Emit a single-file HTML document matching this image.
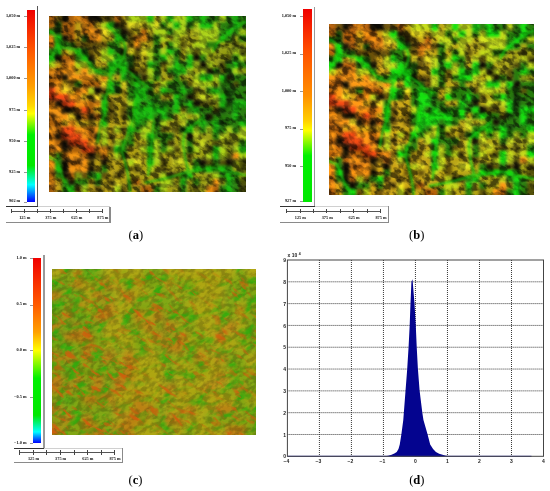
<!DOCTYPE html><html><head><meta charset="utf-8"><style>
html,body{margin:0;padding:0;background:#fff;}
body{width:550px;height:491px;position:relative;overflow:hidden;}
.lb{position:absolute;font-family:"Liberation Serif",serif;white-space:nowrap;line-height:1;font-weight:bold;}
.cap{position:absolute;font-family:"Liberation Serif",serif;font-size:12.5px;line-height:1;color:#000;white-space:nowrap;}
.ax{position:absolute;font-family:"Liberation Sans",sans-serif;font-weight:bold;font-size:5px;line-height:1;color:#222;white-space:nowrap;}
</style></head><body>
<div style="position:absolute;left:49.00px;top:15.60px;width:197.00px;height:176.40px;overflow:hidden;isolation:isolate"><svg width="210.13" height="189.47" style="position:absolute;left:-6.57px;top:-6.53px" viewBox="-6.57 -6.53 210.13 189.47"><defs><filter id="b1" x="-10%" y="-10%" width="120%" height="120%" color-interpolation-filters="sRGB"><feGaussianBlur stdDeviation="1.50"/></filter><filter id="t1" x="0" y="0" width="100%" height="100%" color-interpolation-filters="sRGB"><feTurbulence type="fractalNoise" baseFrequency="0.14 0.22" numOctaves="3" seed="7"/><feColorMatrix type="matrix" values="4 0 0 0 -1.4  4 0 0 0 -1.4  4 0 0 0 -1.4  0 0 0 0 1"/></filter><mask id="m1" maskUnits="userSpaceOnUse" x="-6.57" y="-6.53" width="210.13" height="189.47"><g filter="url(#b1)"><rect x="-6.57" y="-6.53" width="33.13" height="6.83" fill="#999999"/><rect x="26.27" y="-6.53" width="6.87" height="6.83" fill="#4c4c4c"/><rect x="32.83" y="-6.53" width="46.27" height="6.83" fill="#999999"/><rect x="78.80" y="-6.53" width="26.57" height="6.83" fill="#4c4c4c"/><rect x="105.07" y="-6.53" width="6.87" height="6.83" fill="#999999"/><rect x="111.63" y="-6.53" width="33.13" height="6.83" fill="#4c4c4c"/><rect x="144.47" y="-6.53" width="6.87" height="6.83" fill="#999999"/><rect x="151.03" y="-6.53" width="6.87" height="6.83" fill="#4c4c4c"/><rect x="157.60" y="-6.53" width="13.43" height="6.83" fill="#999999"/><rect x="170.73" y="-6.53" width="6.87" height="6.83" fill="#4c4c4c"/><rect x="177.30" y="-6.53" width="6.87" height="6.83" fill="#999999"/><rect x="183.87" y="-6.53" width="6.87" height="6.83" fill="#4c4c4c"/><rect x="190.43" y="-6.53" width="13.43" height="6.83" fill="#999999"/><rect x="-6.57" y="0.00" width="33.13" height="6.83" fill="#999999"/><rect x="26.27" y="0.00" width="6.87" height="6.83" fill="#4c4c4c"/><rect x="32.83" y="0.00" width="46.27" height="6.83" fill="#999999"/><rect x="78.80" y="0.00" width="26.57" height="6.83" fill="#4c4c4c"/><rect x="105.07" y="0.00" width="6.87" height="6.83" fill="#999999"/><rect x="111.63" y="0.00" width="33.13" height="6.83" fill="#4c4c4c"/><rect x="144.47" y="0.00" width="6.87" height="6.83" fill="#999999"/><rect x="151.03" y="0.00" width="6.87" height="6.83" fill="#4c4c4c"/><rect x="157.60" y="0.00" width="13.43" height="6.83" fill="#999999"/><rect x="170.73" y="0.00" width="6.87" height="6.83" fill="#4c4c4c"/><rect x="177.30" y="0.00" width="6.87" height="6.83" fill="#999999"/><rect x="183.87" y="0.00" width="6.87" height="6.83" fill="#4c4c4c"/><rect x="190.43" y="0.00" width="13.43" height="6.83" fill="#999999"/><rect x="-6.57" y="6.53" width="39.70" height="6.83" fill="#999999"/><rect x="32.83" y="6.53" width="6.87" height="6.83" fill="#4c4c4c"/><rect x="39.40" y="6.53" width="13.43" height="6.83" fill="#999999"/><rect x="52.53" y="6.53" width="13.43" height="6.83" fill="#4c4c4c"/><rect x="65.67" y="6.53" width="13.43" height="6.83" fill="#999999"/><rect x="78.80" y="6.53" width="13.43" height="6.83" fill="#4c4c4c"/><rect x="91.93" y="6.53" width="6.87" height="6.83" fill="#999999"/><rect x="98.50" y="6.53" width="13.43" height="6.83" fill="#4c4c4c"/><rect x="111.63" y="6.53" width="6.87" height="6.83" fill="#999999"/><rect x="118.20" y="6.53" width="20.00" height="6.83" fill="#4c4c4c"/><rect x="137.90" y="6.53" width="6.87" height="6.83" fill="#999999"/><rect x="144.47" y="6.53" width="26.57" height="6.83" fill="#4c4c4c"/><rect x="170.73" y="6.53" width="13.43" height="6.83" fill="#999999"/><rect x="183.87" y="6.53" width="6.87" height="6.83" fill="#4c4c4c"/><rect x="190.43" y="6.53" width="13.43" height="6.83" fill="#999999"/><rect x="-6.57" y="13.07" width="46.27" height="6.83" fill="#999999"/><rect x="39.40" y="13.07" width="6.87" height="6.83" fill="#4c4c4c"/><rect x="45.97" y="13.07" width="6.87" height="6.83" fill="#999999"/><rect x="52.53" y="13.07" width="13.43" height="6.83" fill="#4c4c4c"/><rect x="65.67" y="13.07" width="39.70" height="6.83" fill="#999999"/><rect x="105.07" y="13.07" width="13.43" height="6.83" fill="#4c4c4c"/><rect x="118.20" y="13.07" width="6.87" height="6.83" fill="#999999"/><rect x="124.77" y="13.07" width="13.43" height="6.83" fill="#4c4c4c"/><rect x="137.90" y="13.07" width="6.87" height="6.83" fill="#999999"/><rect x="144.47" y="13.07" width="26.57" height="6.83" fill="#4c4c4c"/><rect x="170.73" y="13.07" width="6.87" height="6.83" fill="#999999"/><rect x="177.30" y="13.07" width="6.87" height="6.83" fill="#4c4c4c"/><rect x="183.87" y="13.07" width="6.87" height="6.83" fill="#999999"/><rect x="190.43" y="13.07" width="13.43" height="6.83" fill="#4c4c4c"/><rect x="-6.57" y="19.60" width="20.00" height="6.83" fill="#4c4c4c"/><rect x="13.13" y="19.60" width="33.13" height="6.83" fill="#999999"/><rect x="45.97" y="19.60" width="6.87" height="6.83" fill="#4c4c4c"/><rect x="52.53" y="19.60" width="13.43" height="6.83" fill="#999999"/><rect x="65.67" y="19.60" width="6.87" height="6.83" fill="#4c4c4c"/><rect x="72.23" y="19.60" width="20.00" height="6.83" fill="#999999"/><rect x="91.93" y="19.60" width="6.87" height="6.83" fill="#4c4c4c"/><rect x="98.50" y="19.60" width="13.43" height="6.83" fill="#999999"/><rect x="111.63" y="19.60" width="6.87" height="6.83" fill="#4c4c4c"/><rect x="118.20" y="19.60" width="6.87" height="6.83" fill="#999999"/><rect x="124.77" y="19.60" width="6.87" height="6.83" fill="#4c4c4c"/><rect x="131.33" y="19.60" width="20.00" height="6.83" fill="#999999"/><rect x="151.03" y="19.60" width="26.57" height="6.83" fill="#4c4c4c"/><rect x="177.30" y="19.60" width="26.57" height="6.83" fill="#999999"/><rect x="-6.57" y="26.13" width="13.43" height="6.83" fill="#999999"/><rect x="6.57" y="26.13" width="6.87" height="6.83" fill="#4c4c4c"/><rect x="13.13" y="26.13" width="59.40" height="6.83" fill="#999999"/><rect x="72.23" y="26.13" width="6.87" height="6.83" fill="#4c4c4c"/><rect x="78.80" y="26.13" width="6.87" height="6.83" fill="#999999"/><rect x="85.37" y="26.13" width="6.87" height="6.83" fill="#4c4c4c"/><rect x="91.93" y="26.13" width="33.13" height="6.83" fill="#999999"/><rect x="124.77" y="26.13" width="6.87" height="6.83" fill="#4c4c4c"/><rect x="131.33" y="26.13" width="13.43" height="6.83" fill="#999999"/><rect x="144.47" y="26.13" width="13.43" height="6.83" fill="#4c4c4c"/><rect x="157.60" y="26.13" width="46.27" height="6.83" fill="#999999"/><rect x="-6.57" y="32.67" width="13.43" height="6.83" fill="#999999"/><rect x="6.57" y="32.67" width="6.87" height="6.83" fill="#4c4c4c"/><rect x="13.13" y="32.67" width="6.87" height="6.83" fill="#999999"/><rect x="19.70" y="32.67" width="13.43" height="6.83" fill="#4c4c4c"/><rect x="32.83" y="32.67" width="20.00" height="6.83" fill="#999999"/><rect x="52.53" y="32.67" width="13.43" height="6.83" fill="#4c4c4c"/><rect x="65.67" y="32.67" width="13.43" height="6.83" fill="#999999"/><rect x="78.80" y="32.67" width="6.87" height="6.83" fill="#4c4c4c"/><rect x="85.37" y="32.67" width="6.87" height="6.83" fill="#999999"/><rect x="91.93" y="32.67" width="13.43" height="6.83" fill="#4c4c4c"/><rect x="105.07" y="32.67" width="6.87" height="6.83" fill="#999999"/><rect x="111.63" y="32.67" width="13.43" height="6.83" fill="#4c4c4c"/><rect x="124.77" y="32.67" width="13.43" height="6.83" fill="#999999"/><rect x="137.90" y="32.67" width="6.87" height="6.83" fill="#4c4c4c"/><rect x="144.47" y="32.67" width="6.87" height="6.83" fill="#999999"/><rect x="151.03" y="32.67" width="13.43" height="6.83" fill="#4c4c4c"/><rect x="164.17" y="32.67" width="20.00" height="6.83" fill="#999999"/><rect x="183.87" y="32.67" width="6.87" height="6.83" fill="#4c4c4c"/><rect x="190.43" y="32.67" width="13.43" height="6.83" fill="#999999"/><rect x="-6.57" y="39.20" width="13.43" height="6.83" fill="#4c4c4c"/><rect x="6.57" y="39.20" width="26.57" height="6.83" fill="#999999"/><rect x="32.83" y="39.20" width="6.87" height="6.83" fill="#4c4c4c"/><rect x="39.40" y="39.20" width="13.43" height="6.83" fill="#999999"/><rect x="52.53" y="39.20" width="20.00" height="6.83" fill="#4c4c4c"/><rect x="72.23" y="39.20" width="26.57" height="6.83" fill="#999999"/><rect x="98.50" y="39.20" width="6.87" height="6.83" fill="#4c4c4c"/><rect x="105.07" y="39.20" width="6.87" height="6.83" fill="#999999"/><rect x="111.63" y="39.20" width="13.43" height="6.83" fill="#4c4c4c"/><rect x="124.77" y="39.20" width="13.43" height="6.83" fill="#999999"/><rect x="137.90" y="39.20" width="6.87" height="6.83" fill="#4c4c4c"/><rect x="144.47" y="39.20" width="46.27" height="6.83" fill="#999999"/><rect x="190.43" y="39.20" width="13.43" height="6.83" fill="#4c4c4c"/><rect x="-6.57" y="45.73" width="13.43" height="6.83" fill="#4c4c4c"/><rect x="6.57" y="45.73" width="13.43" height="6.83" fill="#999999"/><rect x="19.70" y="45.73" width="20.00" height="6.83" fill="#4c4c4c"/><rect x="39.40" y="45.73" width="20.00" height="6.83" fill="#999999"/><rect x="59.10" y="45.73" width="20.00" height="6.83" fill="#4c4c4c"/><rect x="78.80" y="45.73" width="20.00" height="6.83" fill="#999999"/><rect x="98.50" y="45.73" width="6.87" height="6.83" fill="#4c4c4c"/><rect x="105.07" y="45.73" width="13.43" height="6.83" fill="#999999"/><rect x="118.20" y="45.73" width="13.43" height="6.83" fill="#4c4c4c"/><rect x="131.33" y="45.73" width="6.87" height="6.83" fill="#999999"/><rect x="137.90" y="45.73" width="13.43" height="6.83" fill="#4c4c4c"/><rect x="151.03" y="45.73" width="6.87" height="6.83" fill="#999999"/><rect x="157.60" y="45.73" width="6.87" height="6.83" fill="#4c4c4c"/><rect x="164.17" y="45.73" width="20.00" height="6.83" fill="#999999"/><rect x="183.87" y="45.73" width="6.87" height="6.83" fill="#4c4c4c"/><rect x="190.43" y="45.73" width="13.43" height="6.83" fill="#999999"/><rect x="-6.57" y="52.27" width="13.43" height="6.83" fill="#4c4c4c"/><rect x="6.57" y="52.27" width="6.87" height="6.83" fill="#999999"/><rect x="13.13" y="52.27" width="13.43" height="6.83" fill="#4c4c4c"/><rect x="26.27" y="52.27" width="6.87" height="6.83" fill="#999999"/><rect x="32.83" y="52.27" width="13.43" height="6.83" fill="#4c4c4c"/><rect x="45.97" y="52.27" width="13.43" height="6.83" fill="#999999"/><rect x="59.10" y="52.27" width="6.87" height="6.83" fill="#4c4c4c"/><rect x="65.67" y="52.27" width="6.87" height="6.83" fill="#999999"/><rect x="72.23" y="52.27" width="6.87" height="6.83" fill="#4c4c4c"/><rect x="78.80" y="52.27" width="20.00" height="6.83" fill="#999999"/><rect x="98.50" y="52.27" width="6.87" height="6.83" fill="#4c4c4c"/><rect x="105.07" y="52.27" width="20.00" height="6.83" fill="#999999"/><rect x="124.77" y="52.27" width="20.00" height="6.83" fill="#4c4c4c"/><rect x="144.47" y="52.27" width="6.87" height="6.83" fill="#999999"/><rect x="151.03" y="52.27" width="6.87" height="6.83" fill="#4c4c4c"/><rect x="157.60" y="52.27" width="26.57" height="6.83" fill="#999999"/><rect x="183.87" y="52.27" width="6.87" height="6.83" fill="#4c4c4c"/><rect x="190.43" y="52.27" width="13.43" height="6.83" fill="#999999"/><rect x="-6.57" y="58.80" width="26.57" height="6.83" fill="#999999"/><rect x="19.70" y="58.80" width="26.57" height="6.83" fill="#4c4c4c"/><rect x="45.97" y="58.80" width="6.87" height="6.83" fill="#999999"/><rect x="52.53" y="58.80" width="13.43" height="6.83" fill="#4c4c4c"/><rect x="65.67" y="58.80" width="6.87" height="6.83" fill="#999999"/><rect x="72.23" y="58.80" width="6.87" height="6.83" fill="#4c4c4c"/><rect x="78.80" y="58.80" width="20.00" height="6.83" fill="#999999"/><rect x="98.50" y="58.80" width="6.87" height="6.83" fill="#4c4c4c"/><rect x="105.07" y="58.80" width="39.70" height="6.83" fill="#999999"/><rect x="144.47" y="58.80" width="33.13" height="6.83" fill="#4c4c4c"/><rect x="177.30" y="58.80" width="26.57" height="6.83" fill="#999999"/><rect x="-6.57" y="65.33" width="13.43" height="6.83" fill="#999999"/><rect x="6.57" y="65.33" width="6.87" height="6.83" fill="#4c4c4c"/><rect x="13.13" y="65.33" width="39.70" height="6.83" fill="#999999"/><rect x="52.53" y="65.33" width="13.43" height="6.83" fill="#4c4c4c"/><rect x="65.67" y="65.33" width="6.87" height="6.83" fill="#999999"/><rect x="72.23" y="65.33" width="6.87" height="6.83" fill="#4c4c4c"/><rect x="78.80" y="65.33" width="6.87" height="6.83" fill="#999999"/><rect x="85.37" y="65.33" width="6.87" height="6.83" fill="#4c4c4c"/><rect x="91.93" y="65.33" width="20.00" height="6.83" fill="#999999"/><rect x="111.63" y="65.33" width="6.87" height="6.83" fill="#4c4c4c"/><rect x="118.20" y="65.33" width="26.57" height="6.83" fill="#999999"/><rect x="144.47" y="65.33" width="20.00" height="6.83" fill="#4c4c4c"/><rect x="164.17" y="65.33" width="39.70" height="6.83" fill="#999999"/><rect x="-6.57" y="71.87" width="26.57" height="6.83" fill="#4c4c4c"/><rect x="19.70" y="71.87" width="13.43" height="6.83" fill="#999999"/><rect x="32.83" y="71.87" width="13.43" height="6.83" fill="#4c4c4c"/><rect x="45.97" y="71.87" width="13.43" height="6.83" fill="#999999"/><rect x="59.10" y="71.87" width="6.87" height="6.83" fill="#4c4c4c"/><rect x="65.67" y="71.87" width="20.00" height="6.83" fill="#999999"/><rect x="85.37" y="71.87" width="13.43" height="6.83" fill="#4c4c4c"/><rect x="98.50" y="71.87" width="13.43" height="6.83" fill="#999999"/><rect x="111.63" y="71.87" width="6.87" height="6.83" fill="#4c4c4c"/><rect x="118.20" y="71.87" width="13.43" height="6.83" fill="#999999"/><rect x="131.33" y="71.87" width="6.87" height="6.83" fill="#4c4c4c"/><rect x="137.90" y="71.87" width="26.57" height="6.83" fill="#999999"/><rect x="164.17" y="71.87" width="6.87" height="6.83" fill="#4c4c4c"/><rect x="170.73" y="71.87" width="33.13" height="6.83" fill="#999999"/><rect x="-6.57" y="78.40" width="13.43" height="6.83" fill="#999999"/><rect x="6.57" y="78.40" width="26.57" height="6.83" fill="#4c4c4c"/><rect x="32.83" y="78.40" width="13.43" height="6.83" fill="#999999"/><rect x="45.97" y="78.40" width="6.87" height="6.83" fill="#4c4c4c"/><rect x="52.53" y="78.40" width="33.13" height="6.83" fill="#999999"/><rect x="85.37" y="78.40" width="13.43" height="6.83" fill="#4c4c4c"/><rect x="98.50" y="78.40" width="26.57" height="6.83" fill="#999999"/><rect x="124.77" y="78.40" width="6.87" height="6.83" fill="#4c4c4c"/><rect x="131.33" y="78.40" width="20.00" height="6.83" fill="#999999"/><rect x="151.03" y="78.40" width="6.87" height="6.83" fill="#4c4c4c"/><rect x="157.60" y="78.40" width="6.87" height="6.83" fill="#999999"/><rect x="164.17" y="78.40" width="13.43" height="6.83" fill="#4c4c4c"/><rect x="177.30" y="78.40" width="26.57" height="6.83" fill="#999999"/><rect x="-6.57" y="84.93" width="26.57" height="6.83" fill="#999999"/><rect x="19.70" y="84.93" width="20.00" height="6.83" fill="#4c4c4c"/><rect x="39.40" y="84.93" width="6.87" height="6.83" fill="#999999"/><rect x="45.97" y="84.93" width="13.43" height="6.83" fill="#4c4c4c"/><rect x="59.10" y="84.93" width="20.00" height="6.83" fill="#999999"/><rect x="78.80" y="84.93" width="13.43" height="6.83" fill="#4c4c4c"/><rect x="91.93" y="84.93" width="6.87" height="6.83" fill="#999999"/><rect x="98.50" y="84.93" width="6.87" height="6.83" fill="#4c4c4c"/><rect x="105.07" y="84.93" width="20.00" height="6.83" fill="#999999"/><rect x="124.77" y="84.93" width="6.87" height="6.83" fill="#4c4c4c"/><rect x="131.33" y="84.93" width="6.87" height="6.83" fill="#999999"/><rect x="137.90" y="84.93" width="6.87" height="6.83" fill="#4c4c4c"/><rect x="144.47" y="84.93" width="26.57" height="6.83" fill="#999999"/><rect x="170.73" y="84.93" width="6.87" height="6.83" fill="#4c4c4c"/><rect x="177.30" y="84.93" width="6.87" height="6.83" fill="#999999"/><rect x="183.87" y="84.93" width="20.00" height="6.83" fill="#4c4c4c"/><rect x="-6.57" y="91.47" width="20.00" height="6.83" fill="#4c4c4c"/><rect x="13.13" y="91.47" width="20.00" height="6.83" fill="#999999"/><rect x="32.83" y="91.47" width="6.87" height="6.83" fill="#4c4c4c"/><rect x="39.40" y="91.47" width="13.43" height="6.83" fill="#999999"/><rect x="52.53" y="91.47" width="6.87" height="6.83" fill="#4c4c4c"/><rect x="59.10" y="91.47" width="26.57" height="6.83" fill="#999999"/><rect x="85.37" y="91.47" width="33.13" height="6.83" fill="#4c4c4c"/><rect x="118.20" y="91.47" width="6.87" height="6.83" fill="#999999"/><rect x="124.77" y="91.47" width="6.87" height="6.83" fill="#4c4c4c"/><rect x="131.33" y="91.47" width="13.43" height="6.83" fill="#999999"/><rect x="144.47" y="91.47" width="6.87" height="6.83" fill="#4c4c4c"/><rect x="151.03" y="91.47" width="33.13" height="6.83" fill="#999999"/><rect x="183.87" y="91.47" width="6.87" height="6.83" fill="#4c4c4c"/><rect x="190.43" y="91.47" width="13.43" height="6.83" fill="#999999"/><rect x="-6.57" y="98.00" width="13.43" height="6.83" fill="#999999"/><rect x="6.57" y="98.00" width="20.00" height="6.83" fill="#4c4c4c"/><rect x="26.27" y="98.00" width="59.40" height="6.83" fill="#999999"/><rect x="85.37" y="98.00" width="20.00" height="6.83" fill="#4c4c4c"/><rect x="105.07" y="98.00" width="6.87" height="6.83" fill="#999999"/><rect x="111.63" y="98.00" width="6.87" height="6.83" fill="#4c4c4c"/><rect x="118.20" y="98.00" width="13.43" height="6.83" fill="#999999"/><rect x="131.33" y="98.00" width="6.87" height="6.83" fill="#4c4c4c"/><rect x="137.90" y="98.00" width="6.87" height="6.83" fill="#999999"/><rect x="144.47" y="98.00" width="6.87" height="6.83" fill="#4c4c4c"/><rect x="151.03" y="98.00" width="33.13" height="6.83" fill="#999999"/><rect x="183.87" y="98.00" width="6.87" height="6.83" fill="#4c4c4c"/><rect x="190.43" y="98.00" width="13.43" height="6.83" fill="#999999"/><rect x="-6.57" y="104.53" width="26.57" height="6.83" fill="#999999"/><rect x="19.70" y="104.53" width="6.87" height="6.83" fill="#4c4c4c"/><rect x="26.27" y="104.53" width="26.57" height="6.83" fill="#999999"/><rect x="52.53" y="104.53" width="6.87" height="6.83" fill="#4c4c4c"/><rect x="59.10" y="104.53" width="20.00" height="6.83" fill="#999999"/><rect x="78.80" y="104.53" width="13.43" height="6.83" fill="#4c4c4c"/><rect x="91.93" y="104.53" width="6.87" height="6.83" fill="#999999"/><rect x="98.50" y="104.53" width="6.87" height="6.83" fill="#4c4c4c"/><rect x="105.07" y="104.53" width="6.87" height="6.83" fill="#999999"/><rect x="111.63" y="104.53" width="6.87" height="6.83" fill="#4c4c4c"/><rect x="118.20" y="104.53" width="13.43" height="6.83" fill="#999999"/><rect x="131.33" y="104.53" width="6.87" height="6.83" fill="#4c4c4c"/><rect x="137.90" y="104.53" width="13.43" height="6.83" fill="#999999"/><rect x="151.03" y="104.53" width="6.87" height="6.83" fill="#4c4c4c"/><rect x="157.60" y="104.53" width="6.87" height="6.83" fill="#999999"/><rect x="164.17" y="104.53" width="6.87" height="6.83" fill="#4c4c4c"/><rect x="170.73" y="104.53" width="20.00" height="6.83" fill="#999999"/><rect x="190.43" y="104.53" width="13.43" height="6.83" fill="#4c4c4c"/><rect x="-6.57" y="111.07" width="13.43" height="6.83" fill="#4c4c4c"/><rect x="6.57" y="111.07" width="6.87" height="6.83" fill="#999999"/><rect x="13.13" y="111.07" width="26.57" height="6.83" fill="#4c4c4c"/><rect x="39.40" y="111.07" width="6.87" height="6.83" fill="#999999"/><rect x="45.97" y="111.07" width="13.43" height="6.83" fill="#4c4c4c"/><rect x="59.10" y="111.07" width="6.87" height="6.83" fill="#999999"/><rect x="65.67" y="111.07" width="6.87" height="6.83" fill="#4c4c4c"/><rect x="72.23" y="111.07" width="6.87" height="6.83" fill="#999999"/><rect x="78.80" y="111.07" width="6.87" height="6.83" fill="#4c4c4c"/><rect x="85.37" y="111.07" width="6.87" height="6.83" fill="#999999"/><rect x="91.93" y="111.07" width="13.43" height="6.83" fill="#4c4c4c"/><rect x="105.07" y="111.07" width="33.13" height="6.83" fill="#999999"/><rect x="137.90" y="111.07" width="13.43" height="6.83" fill="#4c4c4c"/><rect x="151.03" y="111.07" width="6.87" height="6.83" fill="#999999"/><rect x="157.60" y="111.07" width="13.43" height="6.83" fill="#4c4c4c"/><rect x="170.73" y="111.07" width="6.87" height="6.83" fill="#999999"/><rect x="177.30" y="111.07" width="6.87" height="6.83" fill="#4c4c4c"/><rect x="183.87" y="111.07" width="6.87" height="6.83" fill="#999999"/><rect x="190.43" y="111.07" width="13.43" height="6.83" fill="#4c4c4c"/><rect x="-6.57" y="117.60" width="26.57" height="6.83" fill="#999999"/><rect x="19.70" y="117.60" width="20.00" height="6.83" fill="#4c4c4c"/><rect x="39.40" y="117.60" width="13.43" height="6.83" fill="#999999"/><rect x="52.53" y="117.60" width="6.87" height="6.83" fill="#4c4c4c"/><rect x="59.10" y="117.60" width="33.13" height="6.83" fill="#999999"/><rect x="91.93" y="117.60" width="13.43" height="6.83" fill="#4c4c4c"/><rect x="105.07" y="117.60" width="26.57" height="6.83" fill="#999999"/><rect x="131.33" y="117.60" width="6.87" height="6.83" fill="#4c4c4c"/><rect x="137.90" y="117.60" width="6.87" height="6.83" fill="#999999"/><rect x="144.47" y="117.60" width="6.87" height="6.83" fill="#4c4c4c"/><rect x="151.03" y="117.60" width="20.00" height="6.83" fill="#999999"/><rect x="170.73" y="117.60" width="6.87" height="6.83" fill="#4c4c4c"/><rect x="177.30" y="117.60" width="13.43" height="6.83" fill="#999999"/><rect x="190.43" y="117.60" width="13.43" height="6.83" fill="#4c4c4c"/><rect x="-6.57" y="124.13" width="13.43" height="6.83" fill="#4c4c4c"/><rect x="6.57" y="124.13" width="26.57" height="6.83" fill="#999999"/><rect x="32.83" y="124.13" width="13.43" height="6.83" fill="#4c4c4c"/><rect x="45.97" y="124.13" width="6.87" height="6.83" fill="#999999"/><rect x="52.53" y="124.13" width="6.87" height="6.83" fill="#4c4c4c"/><rect x="59.10" y="124.13" width="6.87" height="6.83" fill="#999999"/><rect x="65.67" y="124.13" width="6.87" height="6.83" fill="#4c4c4c"/><rect x="72.23" y="124.13" width="33.13" height="6.83" fill="#999999"/><rect x="105.07" y="124.13" width="6.87" height="6.83" fill="#4c4c4c"/><rect x="111.63" y="124.13" width="20.00" height="6.83" fill="#999999"/><rect x="131.33" y="124.13" width="6.87" height="6.83" fill="#4c4c4c"/><rect x="137.90" y="124.13" width="13.43" height="6.83" fill="#999999"/><rect x="151.03" y="124.13" width="6.87" height="6.83" fill="#4c4c4c"/><rect x="157.60" y="124.13" width="46.27" height="6.83" fill="#999999"/><rect x="-6.57" y="130.67" width="13.43" height="6.83" fill="#999999"/><rect x="6.57" y="130.67" width="6.87" height="6.83" fill="#4c4c4c"/><rect x="13.13" y="130.67" width="26.57" height="6.83" fill="#999999"/><rect x="39.40" y="130.67" width="6.87" height="6.83" fill="#4c4c4c"/><rect x="45.97" y="130.67" width="6.87" height="6.83" fill="#999999"/><rect x="52.53" y="130.67" width="6.87" height="6.83" fill="#4c4c4c"/><rect x="59.10" y="130.67" width="6.87" height="6.83" fill="#999999"/><rect x="65.67" y="130.67" width="6.87" height="6.83" fill="#4c4c4c"/><rect x="72.23" y="130.67" width="20.00" height="6.83" fill="#999999"/><rect x="91.93" y="130.67" width="20.00" height="6.83" fill="#4c4c4c"/><rect x="111.63" y="130.67" width="6.87" height="6.83" fill="#999999"/><rect x="118.20" y="130.67" width="6.87" height="6.83" fill="#4c4c4c"/><rect x="124.77" y="130.67" width="6.87" height="6.83" fill="#999999"/><rect x="131.33" y="130.67" width="6.87" height="6.83" fill="#4c4c4c"/><rect x="137.90" y="130.67" width="6.87" height="6.83" fill="#999999"/><rect x="144.47" y="130.67" width="6.87" height="6.83" fill="#4c4c4c"/><rect x="151.03" y="130.67" width="13.43" height="6.83" fill="#999999"/><rect x="164.17" y="130.67" width="13.43" height="6.83" fill="#4c4c4c"/><rect x="177.30" y="130.67" width="6.87" height="6.83" fill="#999999"/><rect x="183.87" y="130.67" width="20.00" height="6.83" fill="#4c4c4c"/><rect x="-6.57" y="137.20" width="26.57" height="6.83" fill="#999999"/><rect x="19.70" y="137.20" width="13.43" height="6.83" fill="#4c4c4c"/><rect x="32.83" y="137.20" width="33.13" height="6.83" fill="#999999"/><rect x="65.67" y="137.20" width="6.87" height="6.83" fill="#4c4c4c"/><rect x="72.23" y="137.20" width="33.13" height="6.83" fill="#999999"/><rect x="105.07" y="137.20" width="6.87" height="6.83" fill="#4c4c4c"/><rect x="111.63" y="137.20" width="46.27" height="6.83" fill="#999999"/><rect x="157.60" y="137.20" width="20.00" height="6.83" fill="#4c4c4c"/><rect x="177.30" y="137.20" width="6.87" height="6.83" fill="#999999"/><rect x="183.87" y="137.20" width="20.00" height="6.83" fill="#4c4c4c"/><rect x="-6.57" y="143.73" width="13.43" height="6.83" fill="#4c4c4c"/><rect x="6.57" y="143.73" width="26.57" height="6.83" fill="#999999"/><rect x="32.83" y="143.73" width="6.87" height="6.83" fill="#4c4c4c"/><rect x="39.40" y="143.73" width="39.70" height="6.83" fill="#999999"/><rect x="78.80" y="143.73" width="13.43" height="6.83" fill="#4c4c4c"/><rect x="91.93" y="143.73" width="6.87" height="6.83" fill="#999999"/><rect x="98.50" y="143.73" width="13.43" height="6.83" fill="#4c4c4c"/><rect x="111.63" y="143.73" width="13.43" height="6.83" fill="#999999"/><rect x="124.77" y="143.73" width="13.43" height="6.83" fill="#4c4c4c"/><rect x="137.90" y="143.73" width="65.97" height="6.83" fill="#999999"/><rect x="-6.57" y="150.27" width="20.00" height="6.83" fill="#4c4c4c"/><rect x="13.13" y="150.27" width="6.87" height="6.83" fill="#999999"/><rect x="19.70" y="150.27" width="20.00" height="6.83" fill="#4c4c4c"/><rect x="39.40" y="150.27" width="59.40" height="6.83" fill="#999999"/><rect x="98.50" y="150.27" width="6.87" height="6.83" fill="#4c4c4c"/><rect x="105.07" y="150.27" width="33.13" height="6.83" fill="#999999"/><rect x="137.90" y="150.27" width="13.43" height="6.83" fill="#4c4c4c"/><rect x="151.03" y="150.27" width="6.87" height="6.83" fill="#999999"/><rect x="157.60" y="150.27" width="6.87" height="6.83" fill="#4c4c4c"/><rect x="164.17" y="150.27" width="6.87" height="6.83" fill="#999999"/><rect x="170.73" y="150.27" width="6.87" height="6.83" fill="#4c4c4c"/><rect x="177.30" y="150.27" width="26.57" height="6.83" fill="#999999"/><rect x="-6.57" y="156.80" width="33.13" height="6.83" fill="#999999"/><rect x="26.27" y="156.80" width="6.87" height="6.83" fill="#4c4c4c"/><rect x="32.83" y="156.80" width="13.43" height="6.83" fill="#999999"/><rect x="45.97" y="156.80" width="6.87" height="6.83" fill="#4c4c4c"/><rect x="52.53" y="156.80" width="59.40" height="6.83" fill="#999999"/><rect x="111.63" y="156.80" width="6.87" height="6.83" fill="#4c4c4c"/><rect x="118.20" y="156.80" width="20.00" height="6.83" fill="#999999"/><rect x="137.90" y="156.80" width="6.87" height="6.83" fill="#4c4c4c"/><rect x="144.47" y="156.80" width="20.00" height="6.83" fill="#999999"/><rect x="164.17" y="156.80" width="6.87" height="6.83" fill="#4c4c4c"/><rect x="170.73" y="156.80" width="6.87" height="6.83" fill="#999999"/><rect x="177.30" y="156.80" width="6.87" height="6.83" fill="#4c4c4c"/><rect x="183.87" y="156.80" width="20.00" height="6.83" fill="#999999"/><rect x="-6.57" y="163.33" width="13.43" height="6.83" fill="#4c4c4c"/><rect x="6.57" y="163.33" width="59.40" height="6.83" fill="#999999"/><rect x="65.67" y="163.33" width="6.87" height="6.83" fill="#4c4c4c"/><rect x="72.23" y="163.33" width="39.70" height="6.83" fill="#999999"/><rect x="111.63" y="163.33" width="13.43" height="6.83" fill="#4c4c4c"/><rect x="124.77" y="163.33" width="6.87" height="6.83" fill="#999999"/><rect x="131.33" y="163.33" width="6.87" height="6.83" fill="#4c4c4c"/><rect x="137.90" y="163.33" width="26.57" height="6.83" fill="#999999"/><rect x="164.17" y="163.33" width="6.87" height="6.83" fill="#4c4c4c"/><rect x="170.73" y="163.33" width="6.87" height="6.83" fill="#999999"/><rect x="177.30" y="163.33" width="6.87" height="6.83" fill="#4c4c4c"/><rect x="183.87" y="163.33" width="20.00" height="6.83" fill="#999999"/><rect x="-6.57" y="169.87" width="26.57" height="6.83" fill="#999999"/><rect x="19.70" y="169.87" width="6.87" height="6.83" fill="#4c4c4c"/><rect x="26.27" y="169.87" width="6.87" height="6.83" fill="#999999"/><rect x="32.83" y="169.87" width="6.87" height="6.83" fill="#4c4c4c"/><rect x="39.40" y="169.87" width="26.57" height="6.83" fill="#999999"/><rect x="65.67" y="169.87" width="6.87" height="6.83" fill="#4c4c4c"/><rect x="72.23" y="169.87" width="39.70" height="6.83" fill="#999999"/><rect x="111.63" y="169.87" width="6.87" height="6.83" fill="#4c4c4c"/><rect x="118.20" y="169.87" width="39.70" height="6.83" fill="#999999"/><rect x="157.60" y="169.87" width="6.87" height="6.83" fill="#4c4c4c"/><rect x="164.17" y="169.87" width="13.43" height="6.83" fill="#999999"/><rect x="177.30" y="169.87" width="6.87" height="6.83" fill="#4c4c4c"/><rect x="183.87" y="169.87" width="20.00" height="6.83" fill="#999999"/><rect x="-6.57" y="176.40" width="26.57" height="6.83" fill="#999999"/><rect x="19.70" y="176.40" width="6.87" height="6.83" fill="#4c4c4c"/><rect x="26.27" y="176.40" width="6.87" height="6.83" fill="#999999"/><rect x="32.83" y="176.40" width="6.87" height="6.83" fill="#4c4c4c"/><rect x="39.40" y="176.40" width="26.57" height="6.83" fill="#999999"/><rect x="65.67" y="176.40" width="6.87" height="6.83" fill="#4c4c4c"/><rect x="72.23" y="176.40" width="39.70" height="6.83" fill="#999999"/><rect x="111.63" y="176.40" width="6.87" height="6.83" fill="#4c4c4c"/><rect x="118.20" y="176.40" width="39.70" height="6.83" fill="#999999"/><rect x="157.60" y="176.40" width="6.87" height="6.83" fill="#4c4c4c"/><rect x="164.17" y="176.40" width="13.43" height="6.83" fill="#999999"/><rect x="177.30" y="176.40" width="6.87" height="6.83" fill="#4c4c4c"/><rect x="183.87" y="176.40" width="20.00" height="6.83" fill="#999999"/></g></mask></defs><g filter="url(#b1)"><rect x="-6.57" y="-6.53" width="13.43" height="6.83" fill="#a85e09"/><rect x="6.57" y="-6.53" width="6.87" height="6.83" fill="#654e08"/><rect x="13.13" y="-6.53" width="6.87" height="6.83" fill="#181304"/><rect x="19.70" y="-6.53" width="6.87" height="6.83" fill="#a85e09"/><rect x="26.27" y="-6.53" width="6.87" height="6.83" fill="#f69511"/><rect x="32.83" y="-6.53" width="6.87" height="6.83" fill="#a85e09"/><rect x="39.40" y="-6.53" width="13.43" height="6.83" fill="#181304"/><rect x="52.53" y="-6.53" width="6.87" height="6.83" fill="#5e4e08"/><rect x="59.10" y="-6.53" width="6.87" height="6.83" fill="#5d4e08"/><rect x="65.67" y="-6.53" width="6.87" height="6.83" fill="#a85e09"/><rect x="72.23" y="-6.53" width="6.87" height="6.83" fill="#b19e11"/><rect x="78.80" y="-6.53" width="20.00" height="6.83" fill="#acd417"/><rect x="98.50" y="-6.53" width="6.87" height="6.83" fill="#19bd0d"/><rect x="105.07" y="-6.53" width="6.87" height="6.83" fill="#a79e11"/><rect x="111.63" y="-6.53" width="6.87" height="6.83" fill="#acd417"/><rect x="118.20" y="-6.53" width="6.87" height="6.83" fill="#19bd0d"/><rect x="124.77" y="-6.53" width="13.43" height="6.83" fill="#acd417"/><rect x="137.90" y="-6.53" width="6.87" height="6.83" fill="#19bd0d"/><rect x="144.47" y="-6.53" width="6.87" height="6.83" fill="#267b0b"/><rect x="151.03" y="-6.53" width="6.87" height="6.83" fill="#19bd0d"/><rect x="157.60" y="-6.53" width="13.43" height="6.83" fill="#267b0b"/><rect x="170.73" y="-6.53" width="6.87" height="6.83" fill="#acd417"/><rect x="177.30" y="-6.53" width="6.87" height="6.83" fill="#267b0b"/><rect x="183.87" y="-6.53" width="6.87" height="6.83" fill="#19bd0d"/><rect x="190.43" y="-6.53" width="13.43" height="6.83" fill="#267b0b"/><rect x="-6.57" y="0.00" width="13.43" height="6.83" fill="#a85e09"/><rect x="6.57" y="0.00" width="6.87" height="6.83" fill="#654e08"/><rect x="13.13" y="0.00" width="6.87" height="6.83" fill="#181304"/><rect x="19.70" y="0.00" width="6.87" height="6.83" fill="#a85e09"/><rect x="26.27" y="0.00" width="6.87" height="6.83" fill="#f69511"/><rect x="32.83" y="0.00" width="6.87" height="6.83" fill="#a85e09"/><rect x="39.40" y="0.00" width="13.43" height="6.83" fill="#181304"/><rect x="52.53" y="0.00" width="6.87" height="6.83" fill="#5e4e08"/><rect x="59.10" y="0.00" width="6.87" height="6.83" fill="#5d4e08"/><rect x="65.67" y="0.00" width="6.87" height="6.83" fill="#a85e09"/><rect x="72.23" y="0.00" width="6.87" height="6.83" fill="#b19e11"/><rect x="78.80" y="0.00" width="20.00" height="6.83" fill="#acd417"/><rect x="98.50" y="0.00" width="6.87" height="6.83" fill="#19bd0d"/><rect x="105.07" y="0.00" width="6.87" height="6.83" fill="#a79e11"/><rect x="111.63" y="0.00" width="6.87" height="6.83" fill="#acd417"/><rect x="118.20" y="0.00" width="6.87" height="6.83" fill="#19bd0d"/><rect x="124.77" y="0.00" width="13.43" height="6.83" fill="#acd417"/><rect x="137.90" y="0.00" width="6.87" height="6.83" fill="#19bd0d"/><rect x="144.47" y="0.00" width="6.87" height="6.83" fill="#267b0b"/><rect x="151.03" y="0.00" width="6.87" height="6.83" fill="#19bd0d"/><rect x="157.60" y="0.00" width="13.43" height="6.83" fill="#267b0b"/><rect x="170.73" y="0.00" width="6.87" height="6.83" fill="#acd417"/><rect x="177.30" y="0.00" width="6.87" height="6.83" fill="#267b0b"/><rect x="183.87" y="0.00" width="6.87" height="6.83" fill="#19bd0d"/><rect x="190.43" y="0.00" width="13.43" height="6.83" fill="#267b0b"/><rect x="-6.57" y="6.53" width="13.43" height="6.83" fill="#a85e09"/><rect x="6.57" y="6.53" width="6.87" height="6.83" fill="#144607"/><rect x="13.13" y="6.53" width="13.43" height="6.83" fill="#a85e09"/><rect x="26.27" y="6.53" width="6.87" height="6.83" fill="#be9e11"/><rect x="32.83" y="6.53" width="6.87" height="6.83" fill="#f69511"/><rect x="39.40" y="6.53" width="6.87" height="6.83" fill="#a85e09"/><rect x="45.97" y="6.53" width="6.87" height="6.83" fill="#b89e11"/><rect x="52.53" y="6.53" width="6.87" height="6.83" fill="#acd417"/><rect x="59.10" y="6.53" width="6.87" height="6.83" fill="#19bd0d"/><rect x="65.67" y="6.53" width="6.87" height="6.83" fill="#181304"/><rect x="72.23" y="6.53" width="6.87" height="6.83" fill="#5b4e08"/><rect x="78.80" y="6.53" width="6.87" height="6.83" fill="#e6dc1d"/><rect x="85.37" y="6.53" width="6.87" height="6.83" fill="#e4dc1d"/><rect x="91.93" y="6.53" width="6.87" height="6.83" fill="#ab9e11"/><rect x="98.50" y="6.53" width="6.87" height="6.83" fill="#acd417"/><rect x="105.07" y="6.53" width="6.87" height="6.83" fill="#dcdc1d"/><rect x="111.63" y="6.53" width="6.87" height="6.83" fill="#267b0b"/><rect x="118.20" y="6.53" width="6.87" height="6.83" fill="#acd417"/><rect x="124.77" y="6.53" width="6.87" height="6.83" fill="#19bd0d"/><rect x="131.33" y="6.53" width="6.87" height="6.83" fill="#acd417"/><rect x="137.90" y="6.53" width="6.87" height="6.83" fill="#267b0b"/><rect x="144.47" y="6.53" width="6.87" height="6.83" fill="#acd417"/><rect x="151.03" y="6.53" width="13.43" height="6.83" fill="#19bd0d"/><rect x="164.17" y="6.53" width="6.87" height="6.83" fill="#acd417"/><rect x="170.73" y="6.53" width="13.43" height="6.83" fill="#267b0b"/><rect x="183.87" y="6.53" width="6.87" height="6.83" fill="#19bd0d"/><rect x="190.43" y="6.53" width="13.43" height="6.83" fill="#267b0b"/><rect x="-6.57" y="13.07" width="13.43" height="6.83" fill="#267b0b"/><rect x="6.57" y="13.07" width="6.87" height="6.83" fill="#144607"/><rect x="13.13" y="13.07" width="13.43" height="6.83" fill="#a85e09"/><rect x="26.27" y="13.07" width="6.87" height="6.83" fill="#be9e11"/><rect x="32.83" y="13.07" width="6.87" height="6.83" fill="#a85e09"/><rect x="39.40" y="13.07" width="6.87" height="6.83" fill="#f69511"/><rect x="45.97" y="13.07" width="6.87" height="6.83" fill="#a85e09"/><rect x="52.53" y="13.07" width="6.87" height="6.83" fill="#f0dc1d"/><rect x="59.10" y="13.07" width="6.87" height="6.83" fill="#acd417"/><rect x="65.67" y="13.07" width="6.87" height="6.83" fill="#267b0b"/><rect x="72.23" y="13.07" width="6.87" height="6.83" fill="#181304"/><rect x="78.80" y="13.07" width="6.87" height="6.83" fill="#5a4e08"/><rect x="85.37" y="13.07" width="6.87" height="6.83" fill="#ad9e11"/><rect x="91.93" y="13.07" width="6.87" height="6.83" fill="#a85e09"/><rect x="98.50" y="13.07" width="6.87" height="6.83" fill="#a99e11"/><rect x="105.07" y="13.07" width="13.43" height="6.83" fill="#acd417"/><rect x="118.20" y="13.07" width="6.87" height="6.83" fill="#267b0b"/><rect x="124.77" y="13.07" width="13.43" height="6.83" fill="#acd417"/><rect x="137.90" y="13.07" width="6.87" height="6.83" fill="#9e9e11"/><rect x="144.47" y="13.07" width="6.87" height="6.83" fill="#cddc1d"/><rect x="151.03" y="13.07" width="20.00" height="6.83" fill="#acd417"/><rect x="170.73" y="13.07" width="6.87" height="6.83" fill="#267b0b"/><rect x="177.30" y="13.07" width="6.87" height="6.83" fill="#19bd0d"/><rect x="183.87" y="13.07" width="6.87" height="6.83" fill="#267b0b"/><rect x="190.43" y="13.07" width="13.43" height="6.83" fill="#acd417"/><rect x="-6.57" y="19.60" width="13.43" height="6.83" fill="#f69511"/><rect x="6.57" y="19.60" width="6.87" height="6.83" fill="#19bd0d"/><rect x="13.13" y="19.60" width="6.87" height="6.83" fill="#181304"/><rect x="19.70" y="19.60" width="6.87" height="6.83" fill="#a85e09"/><rect x="26.27" y="19.60" width="6.87" height="6.83" fill="#be9e11"/><rect x="32.83" y="19.60" width="6.87" height="6.83" fill="#144607"/><rect x="39.40" y="19.60" width="6.87" height="6.83" fill="#a85e09"/><rect x="45.97" y="19.60" width="6.87" height="6.83" fill="#f69511"/><rect x="52.53" y="19.60" width="6.87" height="6.83" fill="#b69e11"/><rect x="59.10" y="19.60" width="6.87" height="6.83" fill="#b59e11"/><rect x="65.67" y="19.60" width="6.87" height="6.83" fill="#19bd0d"/><rect x="72.23" y="19.60" width="6.87" height="6.83" fill="#144607"/><rect x="78.80" y="19.60" width="6.87" height="6.83" fill="#5a4e08"/><rect x="85.37" y="19.60" width="6.87" height="6.83" fill="#a85e09"/><rect x="91.93" y="19.60" width="6.87" height="6.83" fill="#f69511"/><rect x="98.50" y="19.60" width="6.87" height="6.83" fill="#574e08"/><rect x="105.07" y="19.60" width="6.87" height="6.83" fill="#267b0b"/><rect x="111.63" y="19.60" width="6.87" height="6.83" fill="#acd417"/><rect x="118.20" y="19.60" width="6.87" height="6.83" fill="#a49e11"/><rect x="124.77" y="19.60" width="6.87" height="6.83" fill="#acd417"/><rect x="131.33" y="19.60" width="6.87" height="6.83" fill="#a09e11"/><rect x="137.90" y="19.60" width="6.87" height="6.83" fill="#9e9e11"/><rect x="144.47" y="19.60" width="6.87" height="6.83" fill="#9c9e11"/><rect x="151.03" y="19.60" width="20.00" height="6.83" fill="#acd417"/><rect x="170.73" y="19.60" width="6.87" height="6.83" fill="#19bd0d"/><rect x="177.30" y="19.60" width="6.87" height="6.83" fill="#267b0b"/><rect x="183.87" y="19.60" width="6.87" height="6.83" fill="#919e11"/><rect x="190.43" y="19.60" width="13.43" height="6.83" fill="#267b0b"/><rect x="-6.57" y="26.13" width="13.43" height="6.83" fill="#a85e09"/><rect x="6.57" y="26.13" width="6.87" height="6.83" fill="#19bd0d"/><rect x="13.13" y="26.13" width="6.87" height="6.83" fill="#267b0b"/><rect x="19.70" y="26.13" width="6.87" height="6.83" fill="#144607"/><rect x="26.27" y="26.13" width="6.87" height="6.83" fill="#624e08"/><rect x="32.83" y="26.13" width="6.87" height="6.83" fill="#614e08"/><rect x="39.40" y="26.13" width="6.87" height="6.83" fill="#604e08"/><rect x="45.97" y="26.13" width="6.87" height="6.83" fill="#5f4e08"/><rect x="52.53" y="26.13" width="6.87" height="6.83" fill="#5e4e08"/><rect x="59.10" y="26.13" width="13.43" height="6.83" fill="#267b0b"/><rect x="72.23" y="26.13" width="6.87" height="6.83" fill="#acd417"/><rect x="78.80" y="26.13" width="6.87" height="6.83" fill="#5a4e08"/><rect x="85.37" y="26.13" width="6.87" height="6.83" fill="#f69511"/><rect x="91.93" y="26.13" width="6.87" height="6.83" fill="#ab9e11"/><rect x="98.50" y="26.13" width="6.87" height="6.83" fill="#a99e11"/><rect x="105.07" y="26.13" width="6.87" height="6.83" fill="#267b0b"/><rect x="111.63" y="26.13" width="6.87" height="6.83" fill="#a59e11"/><rect x="118.20" y="26.13" width="6.87" height="6.83" fill="#267b0b"/><rect x="124.77" y="26.13" width="6.87" height="6.83" fill="#acd417"/><rect x="131.33" y="26.13" width="6.87" height="6.83" fill="#524e08"/><rect x="137.90" y="26.13" width="6.87" height="6.83" fill="#9e9e11"/><rect x="144.47" y="26.13" width="13.43" height="6.83" fill="#acd417"/><rect x="157.60" y="26.13" width="13.43" height="6.83" fill="#267b0b"/><rect x="170.73" y="26.13" width="6.87" height="6.83" fill="#949e11"/><rect x="177.30" y="26.13" width="6.87" height="6.83" fill="#939e11"/><rect x="183.87" y="26.13" width="6.87" height="6.83" fill="#4a4e08"/><rect x="190.43" y="26.13" width="13.43" height="6.83" fill="#8f9e11"/><rect x="-6.57" y="32.67" width="13.43" height="6.83" fill="#267b0b"/><rect x="6.57" y="32.67" width="6.87" height="6.83" fill="#19bd0d"/><rect x="13.13" y="32.67" width="6.87" height="6.83" fill="#c29e11"/><rect x="19.70" y="32.67" width="6.87" height="6.83" fill="#acd417"/><rect x="26.27" y="32.67" width="6.87" height="6.83" fill="#19bd0d"/><rect x="32.83" y="32.67" width="6.87" height="6.83" fill="#144607"/><rect x="39.40" y="32.67" width="6.87" height="6.83" fill="#604e08"/><rect x="45.97" y="32.67" width="6.87" height="6.83" fill="#b89e11"/><rect x="52.53" y="32.67" width="6.87" height="6.83" fill="#acd417"/><rect x="59.10" y="32.67" width="6.87" height="6.83" fill="#19bd0d"/><rect x="65.67" y="32.67" width="6.87" height="6.83" fill="#267b0b"/><rect x="72.23" y="32.67" width="6.87" height="6.83" fill="#181304"/><rect x="78.80" y="32.67" width="6.87" height="6.83" fill="#e6dc1d"/><rect x="85.37" y="32.67" width="6.87" height="6.83" fill="#594e08"/><rect x="91.93" y="32.67" width="6.87" height="6.83" fill="#e1dc1d"/><rect x="98.50" y="32.67" width="6.87" height="6.83" fill="#acd417"/><rect x="105.07" y="32.67" width="6.87" height="6.83" fill="#267b0b"/><rect x="111.63" y="32.67" width="6.87" height="6.83" fill="#acd417"/><rect x="118.20" y="32.67" width="6.87" height="6.83" fill="#19bd0d"/><rect x="124.77" y="32.67" width="6.87" height="6.83" fill="#267b0b"/><rect x="131.33" y="32.67" width="6.87" height="6.83" fill="#a09e11"/><rect x="137.90" y="32.67" width="6.87" height="6.83" fill="#acd417"/><rect x="144.47" y="32.67" width="6.87" height="6.83" fill="#504e08"/><rect x="151.03" y="32.67" width="13.43" height="6.83" fill="#acd417"/><rect x="164.17" y="32.67" width="6.87" height="6.83" fill="#969e11"/><rect x="170.73" y="32.67" width="6.87" height="6.83" fill="#949e11"/><rect x="177.30" y="32.67" width="6.87" height="6.83" fill="#939e11"/><rect x="183.87" y="32.67" width="6.87" height="6.83" fill="#acd417"/><rect x="190.43" y="32.67" width="13.43" height="6.83" fill="#494e08"/><rect x="-6.57" y="39.20" width="13.43" height="6.83" fill="#19bd0d"/><rect x="6.57" y="39.20" width="6.87" height="6.83" fill="#181304"/><rect x="13.13" y="39.20" width="13.43" height="6.83" fill="#a85e09"/><rect x="26.27" y="39.20" width="6.87" height="6.83" fill="#267b0b"/><rect x="32.83" y="39.20" width="6.87" height="6.83" fill="#19bd0d"/><rect x="39.40" y="39.20" width="6.87" height="6.83" fill="#181304"/><rect x="45.97" y="39.20" width="6.87" height="6.83" fill="#b89e11"/><rect x="52.53" y="39.20" width="13.43" height="6.83" fill="#acd417"/><rect x="65.67" y="39.20" width="6.87" height="6.83" fill="#19bd0d"/><rect x="72.23" y="39.20" width="6.87" height="6.83" fill="#267b0b"/><rect x="78.80" y="39.20" width="6.87" height="6.83" fill="#144607"/><rect x="85.37" y="39.20" width="6.87" height="6.83" fill="#594e08"/><rect x="91.93" y="39.20" width="6.87" height="6.83" fill="#ab9e11"/><rect x="98.50" y="39.20" width="6.87" height="6.83" fill="#acd417"/><rect x="105.07" y="39.20" width="6.87" height="6.83" fill="#267b0b"/><rect x="111.63" y="39.20" width="6.87" height="6.83" fill="#19bd0d"/><rect x="118.20" y="39.20" width="6.87" height="6.83" fill="#acd417"/><rect x="124.77" y="39.20" width="6.87" height="6.83" fill="#267b0b"/><rect x="131.33" y="39.20" width="6.87" height="6.83" fill="#a09e11"/><rect x="137.90" y="39.20" width="6.87" height="6.83" fill="#19bd0d"/><rect x="144.47" y="39.20" width="6.87" height="6.83" fill="#181304"/><rect x="151.03" y="39.20" width="6.87" height="6.83" fill="#267b0b"/><rect x="157.60" y="39.20" width="6.87" height="6.83" fill="#989e11"/><rect x="164.17" y="39.20" width="6.87" height="6.83" fill="#969e11"/><rect x="170.73" y="39.20" width="6.87" height="6.83" fill="#949e11"/><rect x="177.30" y="39.20" width="6.87" height="6.83" fill="#4b4e08"/><rect x="183.87" y="39.20" width="6.87" height="6.83" fill="#267b0b"/><rect x="190.43" y="39.20" width="13.43" height="6.83" fill="#acd417"/><rect x="-6.57" y="45.73" width="13.43" height="6.83" fill="#acd417"/><rect x="6.57" y="45.73" width="6.87" height="6.83" fill="#c49e11"/><rect x="13.13" y="45.73" width="6.87" height="6.83" fill="#a85e09"/><rect x="19.70" y="45.73" width="6.87" height="6.83" fill="#f69511"/><rect x="26.27" y="45.73" width="13.43" height="6.83" fill="#acd417"/><rect x="39.40" y="45.73" width="6.87" height="6.83" fill="#267b0b"/><rect x="45.97" y="45.73" width="6.87" height="6.83" fill="#b89e11"/><rect x="52.53" y="45.73" width="6.87" height="6.83" fill="#b69e11"/><rect x="59.10" y="45.73" width="20.00" height="6.83" fill="#19bd0d"/><rect x="78.80" y="45.73" width="6.87" height="6.83" fill="#144607"/><rect x="85.37" y="45.73" width="6.87" height="6.83" fill="#ad9e11"/><rect x="91.93" y="45.73" width="6.87" height="6.83" fill="#ab9e11"/><rect x="98.50" y="45.73" width="6.87" height="6.83" fill="#19bd0d"/><rect x="105.07" y="45.73" width="6.87" height="6.83" fill="#267b0b"/><rect x="111.63" y="45.73" width="6.87" height="6.83" fill="#554e08"/><rect x="118.20" y="45.73" width="6.87" height="6.83" fill="#acd417"/><rect x="124.77" y="45.73" width="6.87" height="6.83" fill="#19bd0d"/><rect x="131.33" y="45.73" width="6.87" height="6.83" fill="#267b0b"/><rect x="137.90" y="45.73" width="6.87" height="6.83" fill="#19bd0d"/><rect x="144.47" y="45.73" width="6.87" height="6.83" fill="#acd417"/><rect x="151.03" y="45.73" width="6.87" height="6.83" fill="#181304"/><rect x="157.60" y="45.73" width="6.87" height="6.83" fill="#acd417"/><rect x="164.17" y="45.73" width="6.87" height="6.83" fill="#969e11"/><rect x="170.73" y="45.73" width="6.87" height="6.83" fill="#4c4e08"/><rect x="177.30" y="45.73" width="6.87" height="6.83" fill="#267b0b"/><rect x="183.87" y="45.73" width="6.87" height="6.83" fill="#19bd0d"/><rect x="190.43" y="45.73" width="13.43" height="6.83" fill="#267b0b"/><rect x="-6.57" y="52.27" width="13.43" height="6.83" fill="#f69511"/><rect x="6.57" y="52.27" width="6.87" height="6.83" fill="#a85e09"/><rect x="13.13" y="52.27" width="13.43" height="6.83" fill="#f69511"/><rect x="26.27" y="52.27" width="6.87" height="6.83" fill="#be9e11"/><rect x="32.83" y="52.27" width="6.87" height="6.83" fill="#f69511"/><rect x="39.40" y="52.27" width="6.87" height="6.83" fill="#acd417"/><rect x="45.97" y="52.27" width="13.43" height="6.83" fill="#267b0b"/><rect x="59.10" y="52.27" width="6.87" height="6.83" fill="#19bd0d"/><rect x="65.67" y="52.27" width="6.87" height="6.83" fill="#267b0b"/><rect x="72.23" y="52.27" width="6.87" height="6.83" fill="#19bd0d"/><rect x="78.80" y="52.27" width="6.87" height="6.83" fill="#181304"/><rect x="85.37" y="52.27" width="6.87" height="6.83" fill="#594e08"/><rect x="91.93" y="52.27" width="6.87" height="6.83" fill="#584e08"/><rect x="98.50" y="52.27" width="6.87" height="6.83" fill="#acd417"/><rect x="105.07" y="52.27" width="6.87" height="6.83" fill="#267b0b"/><rect x="111.63" y="52.27" width="6.87" height="6.83" fill="#a59e11"/><rect x="118.20" y="52.27" width="6.87" height="6.83" fill="#267b0b"/><rect x="124.77" y="52.27" width="13.43" height="6.83" fill="#19bd0d"/><rect x="137.90" y="52.27" width="6.87" height="6.83" fill="#acd417"/><rect x="144.47" y="52.27" width="6.87" height="6.83" fill="#9c9e11"/><rect x="151.03" y="52.27" width="6.87" height="6.83" fill="#acd417"/><rect x="157.60" y="52.27" width="6.87" height="6.83" fill="#181304"/><rect x="164.17" y="52.27" width="6.87" height="6.83" fill="#267b0b"/><rect x="170.73" y="52.27" width="6.87" height="6.83" fill="#4c4e08"/><rect x="177.30" y="52.27" width="6.87" height="6.83" fill="#267b0b"/><rect x="183.87" y="52.27" width="6.87" height="6.83" fill="#acd417"/><rect x="190.43" y="52.27" width="13.43" height="6.83" fill="#8f9e11"/><rect x="-6.57" y="58.80" width="20.00" height="6.83" fill="#a85e09"/><rect x="13.13" y="58.80" width="6.87" height="6.83" fill="#181304"/><rect x="19.70" y="58.80" width="26.57" height="6.83" fill="#f69511"/><rect x="45.97" y="58.80" width="6.87" height="6.83" fill="#b89e11"/><rect x="52.53" y="58.80" width="6.87" height="6.83" fill="#f69511"/><rect x="59.10" y="58.80" width="6.87" height="6.83" fill="#acd417"/><rect x="65.67" y="58.80" width="6.87" height="6.83" fill="#b39e11"/><rect x="72.23" y="58.80" width="6.87" height="6.83" fill="#19bd0d"/><rect x="78.80" y="58.80" width="6.87" height="6.83" fill="#267b0b"/><rect x="85.37" y="58.80" width="6.87" height="6.83" fill="#144607"/><rect x="91.93" y="58.80" width="6.87" height="6.83" fill="#584e08"/><rect x="98.50" y="58.80" width="6.87" height="6.83" fill="#acd417"/><rect x="105.07" y="58.80" width="6.87" height="6.83" fill="#267b0b"/><rect x="111.63" y="58.80" width="6.87" height="6.83" fill="#a59e11"/><rect x="118.20" y="58.80" width="6.87" height="6.83" fill="#a49e11"/><rect x="124.77" y="58.80" width="6.87" height="6.83" fill="#267b0b"/><rect x="131.33" y="58.80" width="6.87" height="6.83" fill="#a09e11"/><rect x="137.90" y="58.80" width="6.87" height="6.83" fill="#9e9e11"/><rect x="144.47" y="58.80" width="6.87" height="6.83" fill="#acd417"/><rect x="151.03" y="58.80" width="13.43" height="6.83" fill="#19bd0d"/><rect x="164.17" y="58.80" width="6.87" height="6.83" fill="#acd417"/><rect x="170.73" y="58.80" width="6.87" height="6.83" fill="#19bd0d"/><rect x="177.30" y="58.80" width="6.87" height="6.83" fill="#181304"/><rect x="183.87" y="58.80" width="20.00" height="6.83" fill="#267b0b"/><rect x="-6.57" y="65.33" width="13.43" height="6.83" fill="#a85e09"/><rect x="6.57" y="65.33" width="6.87" height="6.83" fill="#f69511"/><rect x="13.13" y="65.33" width="6.87" height="6.83" fill="#c29e11"/><rect x="19.70" y="65.33" width="6.87" height="6.83" fill="#634e08"/><rect x="26.27" y="65.33" width="6.87" height="6.83" fill="#267b0b"/><rect x="32.83" y="65.33" width="20.00" height="6.83" fill="#a85e09"/><rect x="52.53" y="65.33" width="6.87" height="6.83" fill="#f0dc1d"/><rect x="59.10" y="65.33" width="6.87" height="6.83" fill="#19bd0d"/><rect x="65.67" y="65.33" width="6.87" height="6.83" fill="#267b0b"/><rect x="72.23" y="65.33" width="6.87" height="6.83" fill="#e9dc1d"/><rect x="78.80" y="65.33" width="6.87" height="6.83" fill="#267b0b"/><rect x="85.37" y="65.33" width="6.87" height="6.83" fill="#19bd0d"/><rect x="91.93" y="65.33" width="13.43" height="6.83" fill="#267b0b"/><rect x="105.07" y="65.33" width="6.87" height="6.83" fill="#a79e11"/><rect x="111.63" y="65.33" width="6.87" height="6.83" fill="#acd417"/><rect x="118.20" y="65.33" width="20.00" height="6.83" fill="#267b0b"/><rect x="137.90" y="65.33" width="6.87" height="6.83" fill="#514e08"/><rect x="144.47" y="65.33" width="6.87" height="6.83" fill="#cddc1d"/><rect x="151.03" y="65.33" width="13.43" height="6.83" fill="#acd417"/><rect x="164.17" y="65.33" width="6.87" height="6.83" fill="#969e11"/><rect x="170.73" y="65.33" width="13.43" height="6.83" fill="#267b0b"/><rect x="183.87" y="65.33" width="6.87" height="6.83" fill="#4a4e08"/><rect x="190.43" y="65.33" width="13.43" height="6.83" fill="#267b0b"/><rect x="-6.57" y="71.87" width="13.43" height="6.83" fill="#f64a11"/><rect x="6.57" y="71.87" width="6.87" height="6.83" fill="#f69511"/><rect x="13.13" y="71.87" width="6.87" height="6.83" fill="#ffdc1d"/><rect x="19.70" y="71.87" width="6.87" height="6.83" fill="#c09e11"/><rect x="26.27" y="71.87" width="6.87" height="6.83" fill="#a85e09"/><rect x="32.83" y="71.87" width="6.87" height="6.83" fill="#f69511"/><rect x="39.40" y="71.87" width="6.87" height="6.83" fill="#acd417"/><rect x="45.97" y="71.87" width="6.87" height="6.83" fill="#181304"/><rect x="52.53" y="71.87" width="6.87" height="6.83" fill="#5e4e08"/><rect x="59.10" y="71.87" width="6.87" height="6.83" fill="#19bd0d"/><rect x="65.67" y="71.87" width="6.87" height="6.83" fill="#144607"/><rect x="72.23" y="71.87" width="6.87" height="6.83" fill="#b19e11"/><rect x="78.80" y="71.87" width="6.87" height="6.83" fill="#267b0b"/><rect x="85.37" y="71.87" width="13.43" height="6.83" fill="#19bd0d"/><rect x="98.50" y="71.87" width="6.87" height="6.83" fill="#144607"/><rect x="105.07" y="71.87" width="6.87" height="6.83" fill="#a79e11"/><rect x="111.63" y="71.87" width="6.87" height="6.83" fill="#19bd0d"/><rect x="118.20" y="71.87" width="13.43" height="6.83" fill="#267b0b"/><rect x="131.33" y="71.87" width="6.87" height="6.83" fill="#19bd0d"/><rect x="137.90" y="71.87" width="6.87" height="6.83" fill="#267b0b"/><rect x="144.47" y="71.87" width="6.87" height="6.83" fill="#504e08"/><rect x="151.03" y="71.87" width="6.87" height="6.83" fill="#9a9e11"/><rect x="157.60" y="71.87" width="6.87" height="6.83" fill="#267b0b"/><rect x="164.17" y="71.87" width="6.87" height="6.83" fill="#19bd0d"/><rect x="170.73" y="71.87" width="6.87" height="6.83" fill="#267b0b"/><rect x="177.30" y="71.87" width="6.87" height="6.83" fill="#144607"/><rect x="183.87" y="71.87" width="20.00" height="6.83" fill="#267b0b"/><rect x="-6.57" y="78.40" width="13.43" height="6.83" fill="#9a2807"/><rect x="6.57" y="78.40" width="13.43" height="6.83" fill="#f64a11"/><rect x="19.70" y="78.40" width="13.43" height="6.83" fill="#f69511"/><rect x="32.83" y="78.40" width="6.87" height="6.83" fill="#bc9e11"/><rect x="39.40" y="78.40" width="6.87" height="6.83" fill="#604e08"/><rect x="45.97" y="78.40" width="6.87" height="6.83" fill="#f3dc1d"/><rect x="52.53" y="78.40" width="6.87" height="6.83" fill="#267b0b"/><rect x="59.10" y="78.40" width="6.87" height="6.83" fill="#b59e11"/><rect x="65.67" y="78.40" width="6.87" height="6.83" fill="#b39e11"/><rect x="72.23" y="78.40" width="6.87" height="6.83" fill="#b19e11"/><rect x="78.80" y="78.40" width="6.87" height="6.83" fill="#267b0b"/><rect x="85.37" y="78.40" width="13.43" height="6.83" fill="#19bd0d"/><rect x="98.50" y="78.40" width="13.43" height="6.83" fill="#267b0b"/><rect x="111.63" y="78.40" width="6.87" height="6.83" fill="#a59e11"/><rect x="118.20" y="78.40" width="6.87" height="6.83" fill="#a49e11"/><rect x="124.77" y="78.40" width="6.87" height="6.83" fill="#19bd0d"/><rect x="131.33" y="78.40" width="6.87" height="6.83" fill="#267b0b"/><rect x="137.90" y="78.40" width="6.87" height="6.83" fill="#181304"/><rect x="144.47" y="78.40" width="6.87" height="6.83" fill="#9c9e11"/><rect x="151.03" y="78.40" width="6.87" height="6.83" fill="#cbdc1d"/><rect x="157.60" y="78.40" width="6.87" height="6.83" fill="#989e11"/><rect x="164.17" y="78.40" width="6.87" height="6.83" fill="#acd417"/><rect x="170.73" y="78.40" width="6.87" height="6.83" fill="#19bd0d"/><rect x="177.30" y="78.40" width="6.87" height="6.83" fill="#144607"/><rect x="183.87" y="78.40" width="20.00" height="6.83" fill="#267b0b"/><rect x="-6.57" y="84.93" width="13.43" height="6.83" fill="#a85e09"/><rect x="6.57" y="84.93" width="6.87" height="6.83" fill="#181304"/><rect x="13.13" y="84.93" width="6.87" height="6.83" fill="#9a2807"/><rect x="19.70" y="84.93" width="6.87" height="6.83" fill="#f64a11"/><rect x="26.27" y="84.93" width="13.43" height="6.83" fill="#f69511"/><rect x="39.40" y="84.93" width="6.87" height="6.83" fill="#a85e09"/><rect x="45.97" y="84.93" width="6.87" height="6.83" fill="#f69511"/><rect x="52.53" y="84.93" width="6.87" height="6.83" fill="#19bd0d"/><rect x="59.10" y="84.93" width="6.87" height="6.83" fill="#5d4e08"/><rect x="65.67" y="84.93" width="6.87" height="6.83" fill="#b39e11"/><rect x="72.23" y="84.93" width="6.87" height="6.83" fill="#b19e11"/><rect x="78.80" y="84.93" width="6.87" height="6.83" fill="#acd417"/><rect x="85.37" y="84.93" width="6.87" height="6.83" fill="#19bd0d"/><rect x="91.93" y="84.93" width="6.87" height="6.83" fill="#267b0b"/><rect x="98.50" y="84.93" width="6.87" height="6.83" fill="#19bd0d"/><rect x="105.07" y="84.93" width="6.87" height="6.83" fill="#267b0b"/><rect x="111.63" y="84.93" width="6.87" height="6.83" fill="#144607"/><rect x="118.20" y="84.93" width="6.87" height="6.83" fill="#267b0b"/><rect x="124.77" y="84.93" width="6.87" height="6.83" fill="#19bd0d"/><rect x="131.33" y="84.93" width="6.87" height="6.83" fill="#267b0b"/><rect x="137.90" y="84.93" width="6.87" height="6.83" fill="#19bd0d"/><rect x="144.47" y="84.93" width="6.87" height="6.83" fill="#181304"/><rect x="151.03" y="84.93" width="6.87" height="6.83" fill="#4f4e08"/><rect x="157.60" y="84.93" width="6.87" height="6.83" fill="#4e4e08"/><rect x="164.17" y="84.93" width="6.87" height="6.83" fill="#969e11"/><rect x="170.73" y="84.93" width="6.87" height="6.83" fill="#19bd0d"/><rect x="177.30" y="84.93" width="6.87" height="6.83" fill="#144607"/><rect x="183.87" y="84.93" width="20.00" height="6.83" fill="#19bd0d"/><rect x="-6.57" y="91.47" width="20.00" height="6.83" fill="#f69511"/><rect x="13.13" y="91.47" width="13.43" height="6.83" fill="#181304"/><rect x="26.27" y="91.47" width="6.87" height="6.83" fill="#a85e09"/><rect x="32.83" y="91.47" width="6.87" height="6.83" fill="#f64a11"/><rect x="39.40" y="91.47" width="6.87" height="6.83" fill="#a85e09"/><rect x="45.97" y="91.47" width="6.87" height="6.83" fill="#b89e11"/><rect x="52.53" y="91.47" width="6.87" height="6.83" fill="#19bd0d"/><rect x="59.10" y="91.47" width="6.87" height="6.83" fill="#5d4e08"/><rect x="65.67" y="91.47" width="6.87" height="6.83" fill="#b39e11"/><rect x="72.23" y="91.47" width="6.87" height="6.83" fill="#5b4e08"/><rect x="78.80" y="91.47" width="6.87" height="6.83" fill="#267b0b"/><rect x="85.37" y="91.47" width="33.13" height="6.83" fill="#19bd0d"/><rect x="118.20" y="91.47" width="6.87" height="6.83" fill="#267b0b"/><rect x="124.77" y="91.47" width="6.87" height="6.83" fill="#19bd0d"/><rect x="131.33" y="91.47" width="6.87" height="6.83" fill="#a09e11"/><rect x="137.90" y="91.47" width="6.87" height="6.83" fill="#267b0b"/><rect x="144.47" y="91.47" width="6.87" height="6.83" fill="#19bd0d"/><rect x="151.03" y="91.47" width="13.43" height="6.83" fill="#267b0b"/><rect x="164.17" y="91.47" width="6.87" height="6.83" fill="#4d4e08"/><rect x="170.73" y="91.47" width="6.87" height="6.83" fill="#144607"/><rect x="177.30" y="91.47" width="6.87" height="6.83" fill="#267b0b"/><rect x="183.87" y="91.47" width="6.87" height="6.83" fill="#19bd0d"/><rect x="190.43" y="91.47" width="13.43" height="6.83" fill="#267b0b"/><rect x="-6.57" y="98.00" width="13.43" height="6.83" fill="#a85e09"/><rect x="6.57" y="98.00" width="13.43" height="6.83" fill="#f69511"/><rect x="19.70" y="98.00" width="6.87" height="6.83" fill="#fddc1d"/><rect x="26.27" y="98.00" width="6.87" height="6.83" fill="#181304"/><rect x="32.83" y="98.00" width="6.87" height="6.83" fill="#a85e09"/><rect x="39.40" y="98.00" width="6.87" height="6.83" fill="#181304"/><rect x="45.97" y="98.00" width="6.87" height="6.83" fill="#a85e09"/><rect x="52.53" y="98.00" width="6.87" height="6.83" fill="#267b0b"/><rect x="59.10" y="98.00" width="6.87" height="6.83" fill="#5d4e08"/><rect x="65.67" y="98.00" width="6.87" height="6.83" fill="#b39e11"/><rect x="72.23" y="98.00" width="6.87" height="6.83" fill="#5b4e08"/><rect x="78.80" y="98.00" width="6.87" height="6.83" fill="#267b0b"/><rect x="85.37" y="98.00" width="20.00" height="6.83" fill="#19bd0d"/><rect x="105.07" y="98.00" width="6.87" height="6.83" fill="#267b0b"/><rect x="111.63" y="98.00" width="6.87" height="6.83" fill="#19bd0d"/><rect x="118.20" y="98.00" width="6.87" height="6.83" fill="#267b0b"/><rect x="124.77" y="98.00" width="6.87" height="6.83" fill="#a29e11"/><rect x="131.33" y="98.00" width="6.87" height="6.83" fill="#acd417"/><rect x="137.90" y="98.00" width="6.87" height="6.83" fill="#9e9e11"/><rect x="144.47" y="98.00" width="6.87" height="6.83" fill="#acd417"/><rect x="151.03" y="98.00" width="6.87" height="6.83" fill="#267b0b"/><rect x="157.60" y="98.00" width="6.87" height="6.83" fill="#181304"/><rect x="164.17" y="98.00" width="20.00" height="6.83" fill="#267b0b"/><rect x="183.87" y="98.00" width="6.87" height="6.83" fill="#19bd0d"/><rect x="190.43" y="98.00" width="13.43" height="6.83" fill="#267b0b"/><rect x="-6.57" y="104.53" width="20.00" height="6.83" fill="#a85e09"/><rect x="13.13" y="104.53" width="6.87" height="6.83" fill="#c29e11"/><rect x="19.70" y="104.53" width="6.87" height="6.83" fill="#f69511"/><rect x="26.27" y="104.53" width="6.87" height="6.83" fill="#be9e11"/><rect x="32.83" y="104.53" width="6.87" height="6.83" fill="#bc9e11"/><rect x="39.40" y="104.53" width="6.87" height="6.83" fill="#604e08"/><rect x="45.97" y="104.53" width="6.87" height="6.83" fill="#b89e11"/><rect x="52.53" y="104.53" width="6.87" height="6.83" fill="#19bd0d"/><rect x="59.10" y="104.53" width="6.87" height="6.83" fill="#b59e11"/><rect x="65.67" y="104.53" width="6.87" height="6.83" fill="#b39e11"/><rect x="72.23" y="104.53" width="6.87" height="6.83" fill="#b19e11"/><rect x="78.80" y="104.53" width="6.87" height="6.83" fill="#acd417"/><rect x="85.37" y="104.53" width="6.87" height="6.83" fill="#19bd0d"/><rect x="91.93" y="104.53" width="6.87" height="6.83" fill="#267b0b"/><rect x="98.50" y="104.53" width="6.87" height="6.83" fill="#acd417"/><rect x="105.07" y="104.53" width="6.87" height="6.83" fill="#144607"/><rect x="111.63" y="104.53" width="6.87" height="6.83" fill="#acd417"/><rect x="118.20" y="104.53" width="6.87" height="6.83" fill="#a49e11"/><rect x="124.77" y="104.53" width="6.87" height="6.83" fill="#a29e11"/><rect x="131.33" y="104.53" width="6.87" height="6.83" fill="#d2dc1d"/><rect x="137.90" y="104.53" width="13.43" height="6.83" fill="#267b0b"/><rect x="151.03" y="104.53" width="6.87" height="6.83" fill="#19bd0d"/><rect x="157.60" y="104.53" width="6.87" height="6.83" fill="#267b0b"/><rect x="164.17" y="104.53" width="6.87" height="6.83" fill="#19bd0d"/><rect x="170.73" y="104.53" width="6.87" height="6.83" fill="#144607"/><rect x="177.30" y="104.53" width="13.43" height="6.83" fill="#267b0b"/><rect x="190.43" y="104.53" width="13.43" height="6.83" fill="#19bd0d"/><rect x="-6.57" y="111.07" width="13.43" height="6.83" fill="#f69511"/><rect x="6.57" y="111.07" width="6.87" height="6.83" fill="#a85e09"/><rect x="13.13" y="111.07" width="13.43" height="6.83" fill="#f64a11"/><rect x="26.27" y="111.07" width="13.43" height="6.83" fill="#f69511"/><rect x="39.40" y="111.07" width="6.87" height="6.83" fill="#a85e09"/><rect x="45.97" y="111.07" width="6.87" height="6.83" fill="#f69511"/><rect x="52.53" y="111.07" width="6.87" height="6.83" fill="#acd417"/><rect x="59.10" y="111.07" width="6.87" height="6.83" fill="#b59e11"/><rect x="65.67" y="111.07" width="6.87" height="6.83" fill="#acd417"/><rect x="72.23" y="111.07" width="6.87" height="6.83" fill="#5b4e08"/><rect x="78.80" y="111.07" width="6.87" height="6.83" fill="#19bd0d"/><rect x="85.37" y="111.07" width="6.87" height="6.83" fill="#267b0b"/><rect x="91.93" y="111.07" width="13.43" height="6.83" fill="#acd417"/><rect x="105.07" y="111.07" width="6.87" height="6.83" fill="#267b0b"/><rect x="111.63" y="111.07" width="6.87" height="6.83" fill="#554e08"/><rect x="118.20" y="111.07" width="6.87" height="6.83" fill="#a49e11"/><rect x="124.77" y="111.07" width="6.87" height="6.83" fill="#534e08"/><rect x="131.33" y="111.07" width="6.87" height="6.83" fill="#144607"/><rect x="137.90" y="111.07" width="6.87" height="6.83" fill="#19bd0d"/><rect x="144.47" y="111.07" width="6.87" height="6.83" fill="#acd417"/><rect x="151.03" y="111.07" width="6.87" height="6.83" fill="#267b0b"/><rect x="157.60" y="111.07" width="6.87" height="6.83" fill="#acd417"/><rect x="164.17" y="111.07" width="6.87" height="6.83" fill="#19bd0d"/><rect x="170.73" y="111.07" width="6.87" height="6.83" fill="#267b0b"/><rect x="177.30" y="111.07" width="6.87" height="6.83" fill="#acd417"/><rect x="183.87" y="111.07" width="6.87" height="6.83" fill="#267b0b"/><rect x="190.43" y="111.07" width="13.43" height="6.83" fill="#acd417"/><rect x="-6.57" y="117.60" width="13.43" height="6.83" fill="#a85e09"/><rect x="6.57" y="117.60" width="6.87" height="6.83" fill="#181304"/><rect x="13.13" y="117.60" width="6.87" height="6.83" fill="#9a2807"/><rect x="19.70" y="117.60" width="13.43" height="6.83" fill="#f64a11"/><rect x="32.83" y="117.60" width="6.87" height="6.83" fill="#f69511"/><rect x="39.40" y="117.60" width="6.87" height="6.83" fill="#a85e09"/><rect x="45.97" y="117.60" width="6.87" height="6.83" fill="#181304"/><rect x="52.53" y="117.60" width="6.87" height="6.83" fill="#acd417"/><rect x="59.10" y="117.60" width="6.87" height="6.83" fill="#5d4e08"/><rect x="65.67" y="117.60" width="6.87" height="6.83" fill="#b39e11"/><rect x="72.23" y="117.60" width="6.87" height="6.83" fill="#b19e11"/><rect x="78.80" y="117.60" width="6.87" height="6.83" fill="#267b0b"/><rect x="85.37" y="117.60" width="6.87" height="6.83" fill="#ad9e11"/><rect x="91.93" y="117.60" width="6.87" height="6.83" fill="#acd417"/><rect x="98.50" y="117.60" width="6.87" height="6.83" fill="#19bd0d"/><rect x="105.07" y="117.60" width="20.00" height="6.83" fill="#267b0b"/><rect x="124.77" y="117.60" width="6.87" height="6.83" fill="#a29e11"/><rect x="131.33" y="117.60" width="6.87" height="6.83" fill="#acd417"/><rect x="137.90" y="117.60" width="6.87" height="6.83" fill="#181304"/><rect x="144.47" y="117.60" width="6.87" height="6.83" fill="#cddc1d"/><rect x="151.03" y="117.60" width="6.87" height="6.83" fill="#9a9e11"/><rect x="157.60" y="117.60" width="6.87" height="6.83" fill="#989e11"/><rect x="164.17" y="117.60" width="6.87" height="6.83" fill="#267b0b"/><rect x="170.73" y="117.60" width="6.87" height="6.83" fill="#c3dc1d"/><rect x="177.30" y="117.60" width="6.87" height="6.83" fill="#939e11"/><rect x="183.87" y="117.60" width="6.87" height="6.83" fill="#919e11"/><rect x="190.43" y="117.60" width="13.43" height="6.83" fill="#bcdc1d"/><rect x="-6.57" y="124.13" width="13.43" height="6.83" fill="#f69511"/><rect x="6.57" y="124.13" width="6.87" height="6.83" fill="#a85e09"/><rect x="13.13" y="124.13" width="6.87" height="6.83" fill="#181304"/><rect x="19.70" y="124.13" width="13.43" height="6.83" fill="#9a2807"/><rect x="32.83" y="124.13" width="6.87" height="6.83" fill="#f64a11"/><rect x="39.40" y="124.13" width="6.87" height="6.83" fill="#f69511"/><rect x="45.97" y="124.13" width="6.87" height="6.83" fill="#b89e11"/><rect x="52.53" y="124.13" width="6.87" height="6.83" fill="#acd417"/><rect x="59.10" y="124.13" width="6.87" height="6.83" fill="#b59e11"/><rect x="65.67" y="124.13" width="6.87" height="6.83" fill="#acd417"/><rect x="72.23" y="124.13" width="13.43" height="6.83" fill="#267b0b"/><rect x="85.37" y="124.13" width="6.87" height="6.83" fill="#ad9e11"/><rect x="91.93" y="124.13" width="6.87" height="6.83" fill="#ab9e11"/><rect x="98.50" y="124.13" width="6.87" height="6.83" fill="#267b0b"/><rect x="105.07" y="124.13" width="6.87" height="6.83" fill="#acd417"/><rect x="111.63" y="124.13" width="6.87" height="6.83" fill="#267b0b"/><rect x="118.20" y="124.13" width="6.87" height="6.83" fill="#544e08"/><rect x="124.77" y="124.13" width="6.87" height="6.83" fill="#a29e11"/><rect x="131.33" y="124.13" width="6.87" height="6.83" fill="#acd417"/><rect x="137.90" y="124.13" width="6.87" height="6.83" fill="#267b0b"/><rect x="144.47" y="124.13" width="6.87" height="6.83" fill="#9c9e11"/><rect x="151.03" y="124.13" width="6.87" height="6.83" fill="#cbdc1d"/><rect x="157.60" y="124.13" width="6.87" height="6.83" fill="#989e11"/><rect x="164.17" y="124.13" width="6.87" height="6.83" fill="#4d4e08"/><rect x="170.73" y="124.13" width="6.87" height="6.83" fill="#949e11"/><rect x="177.30" y="124.13" width="6.87" height="6.83" fill="#4b4e08"/><rect x="183.87" y="124.13" width="6.87" height="6.83" fill="#919e11"/><rect x="190.43" y="124.13" width="13.43" height="6.83" fill="#267b0b"/><rect x="-6.57" y="130.67" width="13.43" height="6.83" fill="#a85e09"/><rect x="6.57" y="130.67" width="6.87" height="6.83" fill="#f69511"/><rect x="13.13" y="130.67" width="6.87" height="6.83" fill="#181304"/><rect x="19.70" y="130.67" width="13.43" height="6.83" fill="#a85e09"/><rect x="32.83" y="130.67" width="6.87" height="6.83" fill="#9a2807"/><rect x="39.40" y="130.67" width="6.87" height="6.83" fill="#f64a11"/><rect x="45.97" y="130.67" width="6.87" height="6.83" fill="#a85e09"/><rect x="52.53" y="130.67" width="6.87" height="6.83" fill="#f69511"/><rect x="59.10" y="130.67" width="6.87" height="6.83" fill="#5d4e08"/><rect x="65.67" y="130.67" width="6.87" height="6.83" fill="#19bd0d"/><rect x="72.23" y="130.67" width="6.87" height="6.83" fill="#267b0b"/><rect x="78.80" y="130.67" width="6.87" height="6.83" fill="#af9e11"/><rect x="85.37" y="130.67" width="6.87" height="6.83" fill="#ad9e11"/><rect x="91.93" y="130.67" width="6.87" height="6.83" fill="#acd417"/><rect x="98.50" y="130.67" width="6.87" height="6.83" fill="#19bd0d"/><rect x="105.07" y="130.67" width="6.87" height="6.83" fill="#acd417"/><rect x="111.63" y="130.67" width="6.87" height="6.83" fill="#267b0b"/><rect x="118.20" y="130.67" width="6.87" height="6.83" fill="#acd417"/><rect x="124.77" y="130.67" width="6.87" height="6.83" fill="#534e08"/><rect x="131.33" y="130.67" width="6.87" height="6.83" fill="#d2dc1d"/><rect x="137.90" y="130.67" width="6.87" height="6.83" fill="#267b0b"/><rect x="144.47" y="130.67" width="6.87" height="6.83" fill="#acd417"/><rect x="151.03" y="130.67" width="6.87" height="6.83" fill="#9a9e11"/><rect x="157.60" y="130.67" width="6.87" height="6.83" fill="#4e4e08"/><rect x="164.17" y="130.67" width="6.87" height="6.83" fill="#19bd0d"/><rect x="170.73" y="130.67" width="6.87" height="6.83" fill="#acd417"/><rect x="177.30" y="130.67" width="6.87" height="6.83" fill="#939e11"/><rect x="183.87" y="130.67" width="6.87" height="6.83" fill="#acd417"/><rect x="190.43" y="130.67" width="13.43" height="6.83" fill="#19bd0d"/><rect x="-6.57" y="137.20" width="13.43" height="6.83" fill="#c69e11"/><rect x="6.57" y="137.20" width="6.87" height="6.83" fill="#267b0b"/><rect x="13.13" y="137.20" width="6.87" height="6.83" fill="#a85e09"/><rect x="19.70" y="137.20" width="13.43" height="6.83" fill="#f69511"/><rect x="32.83" y="137.20" width="6.87" height="6.83" fill="#a85e09"/><rect x="39.40" y="137.20" width="6.87" height="6.83" fill="#181304"/><rect x="45.97" y="137.20" width="6.87" height="6.83" fill="#5f4e08"/><rect x="52.53" y="137.20" width="6.87" height="6.83" fill="#a85e09"/><rect x="59.10" y="137.20" width="6.87" height="6.83" fill="#b59e11"/><rect x="65.67" y="137.20" width="6.87" height="6.83" fill="#acd417"/><rect x="72.23" y="137.20" width="6.87" height="6.83" fill="#181304"/><rect x="78.80" y="137.20" width="6.87" height="6.83" fill="#af9e11"/><rect x="85.37" y="137.20" width="6.87" height="6.83" fill="#ad9e11"/><rect x="91.93" y="137.20" width="6.87" height="6.83" fill="#ab9e11"/><rect x="98.50" y="137.20" width="6.87" height="6.83" fill="#267b0b"/><rect x="105.07" y="137.20" width="6.87" height="6.83" fill="#acd417"/><rect x="111.63" y="137.20" width="6.87" height="6.83" fill="#a59e11"/><rect x="118.20" y="137.20" width="6.87" height="6.83" fill="#a49e11"/><rect x="124.77" y="137.20" width="6.87" height="6.83" fill="#a29e11"/><rect x="131.33" y="137.20" width="6.87" height="6.83" fill="#a09e11"/><rect x="137.90" y="137.20" width="6.87" height="6.83" fill="#514e08"/><rect x="144.47" y="137.20" width="6.87" height="6.83" fill="#9c9e11"/><rect x="151.03" y="137.20" width="6.87" height="6.83" fill="#9a9e11"/><rect x="157.60" y="137.20" width="6.87" height="6.83" fill="#acd417"/><rect x="164.17" y="137.20" width="6.87" height="6.83" fill="#19bd0d"/><rect x="170.73" y="137.20" width="6.87" height="6.83" fill="#acd417"/><rect x="177.30" y="137.20" width="6.87" height="6.83" fill="#4b4e08"/><rect x="183.87" y="137.20" width="6.87" height="6.83" fill="#f69511"/><rect x="190.43" y="137.20" width="13.43" height="6.83" fill="#acd417"/><rect x="-6.57" y="143.73" width="13.43" height="6.83" fill="#f69511"/><rect x="6.57" y="143.73" width="6.87" height="6.83" fill="#267b0b"/><rect x="13.13" y="143.73" width="6.87" height="6.83" fill="#181304"/><rect x="19.70" y="143.73" width="13.43" height="6.83" fill="#a85e09"/><rect x="32.83" y="143.73" width="6.87" height="6.83" fill="#f69511"/><rect x="39.40" y="143.73" width="6.87" height="6.83" fill="#604e08"/><rect x="45.97" y="143.73" width="6.87" height="6.83" fill="#b89e11"/><rect x="52.53" y="143.73" width="6.87" height="6.83" fill="#181304"/><rect x="59.10" y="143.73" width="6.87" height="6.83" fill="#b59e11"/><rect x="65.67" y="143.73" width="6.87" height="6.83" fill="#b39e11"/><rect x="72.23" y="143.73" width="6.87" height="6.83" fill="#b19e11"/><rect x="78.80" y="143.73" width="6.87" height="6.83" fill="#acd417"/><rect x="85.37" y="143.73" width="6.87" height="6.83" fill="#e4dc1d"/><rect x="91.93" y="143.73" width="6.87" height="6.83" fill="#ab9e11"/><rect x="98.50" y="143.73" width="6.87" height="6.83" fill="#19bd0d"/><rect x="105.07" y="143.73" width="6.87" height="6.83" fill="#acd417"/><rect x="111.63" y="143.73" width="6.87" height="6.83" fill="#554e08"/><rect x="118.20" y="143.73" width="6.87" height="6.83" fill="#a49e11"/><rect x="124.77" y="143.73" width="6.87" height="6.83" fill="#d5dc1d"/><rect x="131.33" y="143.73" width="6.87" height="6.83" fill="#d2dc1d"/><rect x="137.90" y="143.73" width="6.87" height="6.83" fill="#9e9e11"/><rect x="144.47" y="143.73" width="6.87" height="6.83" fill="#267b0b"/><rect x="151.03" y="143.73" width="6.87" height="6.83" fill="#181304"/><rect x="157.60" y="143.73" width="6.87" height="6.83" fill="#4e4e08"/><rect x="164.17" y="143.73" width="6.87" height="6.83" fill="#267b0b"/><rect x="170.73" y="143.73" width="6.87" height="6.83" fill="#4c4e08"/><rect x="177.30" y="143.73" width="6.87" height="6.83" fill="#181304"/><rect x="183.87" y="143.73" width="6.87" height="6.83" fill="#919e11"/><rect x="190.43" y="143.73" width="13.43" height="6.83" fill="#494e08"/><rect x="-6.57" y="150.27" width="13.43" height="6.83" fill="#f69511"/><rect x="6.57" y="150.27" width="6.87" height="6.83" fill="#19bd0d"/><rect x="13.13" y="150.27" width="6.87" height="6.83" fill="#181304"/><rect x="19.70" y="150.27" width="20.00" height="6.83" fill="#f69511"/><rect x="39.40" y="150.27" width="6.87" height="6.83" fill="#181304"/><rect x="45.97" y="150.27" width="6.87" height="6.83" fill="#b89e11"/><rect x="52.53" y="150.27" width="6.87" height="6.83" fill="#267b0b"/><rect x="59.10" y="150.27" width="6.87" height="6.83" fill="#b59e11"/><rect x="65.67" y="150.27" width="6.87" height="6.83" fill="#b39e11"/><rect x="72.23" y="150.27" width="6.87" height="6.83" fill="#5b4e08"/><rect x="78.80" y="150.27" width="6.87" height="6.83" fill="#af9e11"/><rect x="85.37" y="150.27" width="6.87" height="6.83" fill="#594e08"/><rect x="91.93" y="150.27" width="6.87" height="6.83" fill="#ab9e11"/><rect x="98.50" y="150.27" width="6.87" height="6.83" fill="#acd417"/><rect x="105.07" y="150.27" width="6.87" height="6.83" fill="#a79e11"/><rect x="111.63" y="150.27" width="6.87" height="6.83" fill="#554e08"/><rect x="118.20" y="150.27" width="6.87" height="6.83" fill="#a49e11"/><rect x="124.77" y="150.27" width="6.87" height="6.83" fill="#a29e11"/><rect x="131.33" y="150.27" width="6.87" height="6.83" fill="#a09e11"/><rect x="137.90" y="150.27" width="6.87" height="6.83" fill="#acd417"/><rect x="144.47" y="150.27" width="6.87" height="6.83" fill="#19bd0d"/><rect x="151.03" y="150.27" width="6.87" height="6.83" fill="#267b0b"/><rect x="157.60" y="150.27" width="6.87" height="6.83" fill="#19bd0d"/><rect x="164.17" y="150.27" width="6.87" height="6.83" fill="#267b0b"/><rect x="170.73" y="150.27" width="6.87" height="6.83" fill="#19bd0d"/><rect x="177.30" y="150.27" width="6.87" height="6.83" fill="#267b0b"/><rect x="183.87" y="150.27" width="6.87" height="6.83" fill="#919e11"/><rect x="190.43" y="150.27" width="13.43" height="6.83" fill="#494e08"/><rect x="-6.57" y="156.80" width="13.43" height="6.83" fill="#a85e09"/><rect x="6.57" y="156.80" width="6.87" height="6.83" fill="#267b0b"/><rect x="13.13" y="156.80" width="6.87" height="6.83" fill="#181304"/><rect x="19.70" y="156.80" width="6.87" height="6.83" fill="#a85e09"/><rect x="26.27" y="156.80" width="6.87" height="6.83" fill="#acd417"/><rect x="32.83" y="156.80" width="6.87" height="6.83" fill="#614e08"/><rect x="39.40" y="156.80" width="6.87" height="6.83" fill="#267b0b"/><rect x="45.97" y="156.80" width="6.87" height="6.83" fill="#19bd0d"/><rect x="52.53" y="156.80" width="6.87" height="6.83" fill="#5e4e08"/><rect x="59.10" y="156.80" width="6.87" height="6.83" fill="#b59e11"/><rect x="65.67" y="156.80" width="6.87" height="6.83" fill="#5c4e08"/><rect x="72.23" y="156.80" width="6.87" height="6.83" fill="#b19e11"/><rect x="78.80" y="156.80" width="6.87" height="6.83" fill="#af9e11"/><rect x="85.37" y="156.80" width="6.87" height="6.83" fill="#ad9e11"/><rect x="91.93" y="156.80" width="6.87" height="6.83" fill="#ab9e11"/><rect x="98.50" y="156.80" width="6.87" height="6.83" fill="#a99e11"/><rect x="105.07" y="156.80" width="6.87" height="6.83" fill="#a79e11"/><rect x="111.63" y="156.80" width="6.87" height="6.83" fill="#acd417"/><rect x="118.20" y="156.80" width="6.87" height="6.83" fill="#181304"/><rect x="124.77" y="156.80" width="6.87" height="6.83" fill="#534e08"/><rect x="131.33" y="156.80" width="6.87" height="6.83" fill="#267b0b"/><rect x="137.90" y="156.80" width="6.87" height="6.83" fill="#19bd0d"/><rect x="144.47" y="156.80" width="6.87" height="6.83" fill="#9c9e11"/><rect x="151.03" y="156.80" width="6.87" height="6.83" fill="#9a9e11"/><rect x="157.60" y="156.80" width="6.87" height="6.83" fill="#989e11"/><rect x="164.17" y="156.80" width="6.87" height="6.83" fill="#acd417"/><rect x="170.73" y="156.80" width="6.87" height="6.83" fill="#267b0b"/><rect x="177.30" y="156.80" width="6.87" height="6.83" fill="#19bd0d"/><rect x="183.87" y="156.80" width="6.87" height="6.83" fill="#267b0b"/><rect x="190.43" y="156.80" width="13.43" height="6.83" fill="#8f9e11"/><rect x="-6.57" y="163.33" width="13.43" height="6.83" fill="#f69511"/><rect x="6.57" y="163.33" width="6.87" height="6.83" fill="#c49e11"/><rect x="13.13" y="163.33" width="6.87" height="6.83" fill="#267b0b"/><rect x="19.70" y="163.33" width="6.87" height="6.83" fill="#181304"/><rect x="26.27" y="163.33" width="13.43" height="6.83" fill="#267b0b"/><rect x="39.40" y="163.33" width="6.87" height="6.83" fill="#ba9e11"/><rect x="45.97" y="163.33" width="6.87" height="6.83" fill="#267b0b"/><rect x="52.53" y="163.33" width="6.87" height="6.83" fill="#b69e11"/><rect x="59.10" y="163.33" width="6.87" height="6.83" fill="#5d4e08"/><rect x="65.67" y="163.33" width="6.87" height="6.83" fill="#ebdc1d"/><rect x="72.23" y="163.33" width="6.87" height="6.83" fill="#b19e11"/><rect x="78.80" y="163.33" width="6.87" height="6.83" fill="#5a4e08"/><rect x="85.37" y="163.33" width="6.87" height="6.83" fill="#a85e09"/><rect x="91.93" y="163.33" width="6.87" height="6.83" fill="#ab9e11"/><rect x="98.50" y="163.33" width="6.87" height="6.83" fill="#a99e11"/><rect x="105.07" y="163.33" width="6.87" height="6.83" fill="#a79e11"/><rect x="111.63" y="163.33" width="13.43" height="6.83" fill="#acd417"/><rect x="124.77" y="163.33" width="6.87" height="6.83" fill="#a29e11"/><rect x="131.33" y="163.33" width="6.87" height="6.83" fill="#19bd0d"/><rect x="137.90" y="163.33" width="6.87" height="6.83" fill="#9e9e11"/><rect x="144.47" y="163.33" width="6.87" height="6.83" fill="#267b0b"/><rect x="151.03" y="163.33" width="6.87" height="6.83" fill="#9a9e11"/><rect x="157.60" y="163.33" width="6.87" height="6.83" fill="#989e11"/><rect x="164.17" y="163.33" width="6.87" height="6.83" fill="#f69511"/><rect x="170.73" y="163.33" width="6.87" height="6.83" fill="#949e11"/><rect x="177.30" y="163.33" width="6.87" height="6.83" fill="#19bd0d"/><rect x="183.87" y="163.33" width="6.87" height="6.83" fill="#267b0b"/><rect x="190.43" y="163.33" width="13.43" height="6.83" fill="#494e08"/><rect x="-6.57" y="169.87" width="13.43" height="6.83" fill="#a85e09"/><rect x="6.57" y="169.87" width="6.87" height="6.83" fill="#c49e11"/><rect x="13.13" y="169.87" width="6.87" height="6.83" fill="#267b0b"/><rect x="19.70" y="169.87" width="6.87" height="6.83" fill="#19bd0d"/><rect x="26.27" y="169.87" width="6.87" height="6.83" fill="#624e08"/><rect x="32.83" y="169.87" width="6.87" height="6.83" fill="#acd417"/><rect x="39.40" y="169.87" width="6.87" height="6.83" fill="#ba9e11"/><rect x="45.97" y="169.87" width="6.87" height="6.83" fill="#5f4e08"/><rect x="52.53" y="169.87" width="6.87" height="6.83" fill="#b69e11"/><rect x="59.10" y="169.87" width="6.87" height="6.83" fill="#b59e11"/><rect x="65.67" y="169.87" width="6.87" height="6.83" fill="#acd417"/><rect x="72.23" y="169.87" width="6.87" height="6.83" fill="#5b4e08"/><rect x="78.80" y="169.87" width="6.87" height="6.83" fill="#af9e11"/><rect x="85.37" y="169.87" width="6.87" height="6.83" fill="#ad9e11"/><rect x="91.93" y="169.87" width="13.43" height="6.83" fill="#a85e09"/><rect x="105.07" y="169.87" width="6.87" height="6.83" fill="#267b0b"/><rect x="111.63" y="169.87" width="6.87" height="6.83" fill="#acd417"/><rect x="118.20" y="169.87" width="6.87" height="6.83" fill="#a49e11"/><rect x="124.77" y="169.87" width="6.87" height="6.83" fill="#a29e11"/><rect x="131.33" y="169.87" width="6.87" height="6.83" fill="#267b0b"/><rect x="137.90" y="169.87" width="6.87" height="6.83" fill="#9e9e11"/><rect x="144.47" y="169.87" width="6.87" height="6.83" fill="#504e08"/><rect x="151.03" y="169.87" width="6.87" height="6.83" fill="#9a9e11"/><rect x="157.60" y="169.87" width="6.87" height="6.83" fill="#f69511"/><rect x="164.17" y="169.87" width="6.87" height="6.83" fill="#a85e09"/><rect x="170.73" y="169.87" width="6.87" height="6.83" fill="#267b0b"/><rect x="177.30" y="169.87" width="6.87" height="6.83" fill="#19bd0d"/><rect x="183.87" y="169.87" width="6.87" height="6.83" fill="#267b0b"/><rect x="190.43" y="169.87" width="13.43" height="6.83" fill="#494e08"/><rect x="-6.57" y="176.40" width="13.43" height="6.83" fill="#a85e09"/><rect x="6.57" y="176.40" width="6.87" height="6.83" fill="#c49e11"/><rect x="13.13" y="176.40" width="6.87" height="6.83" fill="#267b0b"/><rect x="19.70" y="176.40" width="6.87" height="6.83" fill="#19bd0d"/><rect x="26.27" y="176.40" width="6.87" height="6.83" fill="#624e08"/><rect x="32.83" y="176.40" width="6.87" height="6.83" fill="#acd417"/><rect x="39.40" y="176.40" width="6.87" height="6.83" fill="#ba9e11"/><rect x="45.97" y="176.40" width="6.87" height="6.83" fill="#5f4e08"/><rect x="52.53" y="176.40" width="6.87" height="6.83" fill="#b69e11"/><rect x="59.10" y="176.40" width="6.87" height="6.83" fill="#b59e11"/><rect x="65.67" y="176.40" width="6.87" height="6.83" fill="#acd417"/><rect x="72.23" y="176.40" width="6.87" height="6.83" fill="#5b4e08"/><rect x="78.80" y="176.40" width="6.87" height="6.83" fill="#af9e11"/><rect x="85.37" y="176.40" width="6.87" height="6.83" fill="#ad9e11"/><rect x="91.93" y="176.40" width="13.43" height="6.83" fill="#a85e09"/><rect x="105.07" y="176.40" width="6.87" height="6.83" fill="#267b0b"/><rect x="111.63" y="176.40" width="6.87" height="6.83" fill="#acd417"/><rect x="118.20" y="176.40" width="6.87" height="6.83" fill="#a49e11"/><rect x="124.77" y="176.40" width="6.87" height="6.83" fill="#a29e11"/><rect x="131.33" y="176.40" width="6.87" height="6.83" fill="#267b0b"/><rect x="137.90" y="176.40" width="6.87" height="6.83" fill="#9e9e11"/><rect x="144.47" y="176.40" width="6.87" height="6.83" fill="#504e08"/><rect x="151.03" y="176.40" width="6.87" height="6.83" fill="#9a9e11"/><rect x="157.60" y="176.40" width="6.87" height="6.83" fill="#f69511"/><rect x="164.17" y="176.40" width="6.87" height="6.83" fill="#a85e09"/><rect x="170.73" y="176.40" width="6.87" height="6.83" fill="#267b0b"/><rect x="177.30" y="176.40" width="6.87" height="6.83" fill="#19bd0d"/><rect x="183.87" y="176.40" width="6.87" height="6.83" fill="#267b0b"/><rect x="190.43" y="176.40" width="13.43" height="6.83" fill="#494e08"/></g><g mask="url(#m1)" style="mix-blend-mode:multiply"><g transform="rotate(35 98.5 88.2)"><rect x="-69.6" y="-79.9" width="336.2" height="336.2" filter="url(#t1)"/></g></g><filter id="lb1" x="-10%" y="-10%" width="120%" height="120%"><feGaussianBlur stdDeviation="0.8"/></filter><g filter="url(#lb1)" fill="none" stroke="#1cc00c" stroke-width="2.20" stroke-linejoin="round" stroke-linecap="round" opacity="0.75"><polyline points="0.0,16.0 3.7,16.9 7.3,22.4 8.2,29.7 5.5,37.0 2.7,42.5 0.0,48.0"/><polyline points="7.3,31.5 14.7,32.4 23.8,33.4 31.1,36.1 36.6,42.5 42.1,49.9 47.6,55.3 55.0,59.0 62.3,59.9"/><polyline points="58.6,9.6 64.1,15.1 69.6,20.5 75.1,26.0 76.9,33.4 75.1,42.5 69.6,49.9 64.1,55.3 62.3,59.9"/><polyline points="62.3,59.9 60.4,68.2 58.6,77.3 56.8,84.6 55.9,99.2 52.2,108.4 50.4,117.5 49.1,126.7"/><polyline points="69.6,49.9 76.9,53.5 84.2,59.0 91.6,66.3 100.0,71.8"/><polyline points="86.1,86.4 86.1,97.4 83.3,108.4 79.7,117.5 75.1,128.5 73.3,135.9 76.0,145.0 78.8,156.0 80.6,167.0 81.5,176.4"/><polyline points="0.0,141.4 7.3,145.0 11.0,152.4 14.7,163.3 20.1,172.5 22.0,176.4"/><polyline points="155.6,101.1 144.6,110.2 136.4,116.6 134.5,126.7 136.4,141.4 139.1,152.3 139.1,156.0"/><polyline points="139.1,156.0 152.0,154.2 166.6,152.3 179.4,156.0 197.0,159.7"/><polyline points="97.0,167.0 115.3,163.3 131.8,158.7 139.1,156.0"/><polyline points="105.2,106.5 103.4,123.0 101.6,141.4 99.7,159.7"/><polyline points="197.0,5.9 184.9,13.2 173.9,22.4 168.4,27.9 164.8,35.2"/></g></svg></div><div style="position:absolute;left:26.50px;top:10.30px;width:8.50px;height:191.50px;background:linear-gradient(to bottom,#f00000 0.0%,#ff5a00 22.0%,#ffa000 40.0%,#ffd800 50.0%,#ffff00 54.0%,#00f000 65.0%,#00e800 81.0%,#00ffff 91.0%,#0000ff 100.0%)"></div><div class="lb" style="right:529.80px;top:13.52px;font-size:4.3px;color:#111">1,050 m</div><div style="position:absolute;left:23.50px;top:15.80px;width:3.00px;height:0.60px;background:#999"></div><div class="lb" style="right:529.80px;top:44.82px;font-size:4.3px;color:#111">1,025 m</div><div style="position:absolute;left:23.50px;top:47.10px;width:3.00px;height:0.60px;background:#999"></div><div class="lb" style="right:529.80px;top:76.12px;font-size:4.3px;color:#111">1,000 m</div><div style="position:absolute;left:23.50px;top:78.40px;width:3.00px;height:0.60px;background:#999"></div><div class="lb" style="right:529.80px;top:107.62px;font-size:4.3px;color:#111">975 m</div><div style="position:absolute;left:23.50px;top:109.90px;width:3.00px;height:0.60px;background:#999"></div><div class="lb" style="right:529.80px;top:139.02px;font-size:4.3px;color:#111">950 m</div><div style="position:absolute;left:23.50px;top:141.30px;width:3.00px;height:0.60px;background:#999"></div><div class="lb" style="right:529.80px;top:169.62px;font-size:4.3px;color:#111">925 m</div><div style="position:absolute;left:23.50px;top:171.90px;width:3.00px;height:0.60px;background:#999"></div><div class="lb" style="right:529.80px;top:199.22px;font-size:4.3px;color:#111">902 m</div><div style="position:absolute;left:23.50px;top:201.50px;width:3.00px;height:0.60px;background:#999"></div><div style="position:absolute;left:37.10px;top:6.00px;width:1.20px;height:201.00px;background:#555"></div><div style="position:absolute;left:6.00px;top:205.85px;width:31.70px;height:1.30px;background:#333"></div><div style="position:absolute;left:37.70px;top:206.10px;width:72.30px;height:0.80px;background:#d0d0d0"></div><div style="position:absolute;left:6.00px;top:222.00px;width:104.60px;height:1.20px;background:#8a8a8a"></div><div style="position:absolute;left:109.40px;top:206.50px;width:1.20px;height:16.10px;background:#8a8a8a"></div><div style="position:absolute;left:11.40px;top:210.65px;width:91.21px;height:0.90px;background:#555"></div><div style="position:absolute;left:10.95px;top:208.90px;width:0.90px;height:4.40px;background:#444"></div><div style="position:absolute;left:23.98px;top:208.90px;width:0.90px;height:4.40px;background:#444"></div><div style="position:absolute;left:37.01px;top:208.90px;width:0.90px;height:4.40px;background:#444"></div><div style="position:absolute;left:50.04px;top:208.90px;width:0.90px;height:4.40px;background:#444"></div><div style="position:absolute;left:63.07px;top:208.90px;width:0.90px;height:4.40px;background:#444"></div><div style="position:absolute;left:76.10px;top:208.90px;width:0.90px;height:4.40px;background:#444"></div><div style="position:absolute;left:89.13px;top:208.90px;width:0.90px;height:4.40px;background:#444"></div><div style="position:absolute;left:102.16px;top:208.90px;width:0.90px;height:4.40px;background:#444"></div><div class="lb" style="left:24.73px;top:215.92px;width:40px;margin-left:-20px;text-align:center;font-size:4.3px;color:#111">125 m</div><div class="lb" style="left:50.79px;top:215.92px;width:40px;margin-left:-20px;text-align:center;font-size:4.3px;color:#111">375 m</div><div class="lb" style="left:76.85px;top:215.92px;width:40px;margin-left:-20px;text-align:center;font-size:4.3px;color:#111">625 m</div><div class="lb" style="left:102.91px;top:215.92px;width:40px;margin-left:-20px;text-align:center;font-size:4.3px;color:#111">875 m</div><div class="cap" style="left:128.60px;top:228.90px">(<b>a</b>)</div><div style="position:absolute;left:329.00px;top:24.10px;width:205.00px;height:170.70px;overflow:hidden;isolation:isolate"><svg width="218.67" height="183.34" style="position:absolute;left:-6.83px;top:-6.32px" viewBox="-6.83 -6.32 218.67 183.34"><defs><filter id="b2" x="-10%" y="-10%" width="120%" height="120%" color-interpolation-filters="sRGB"><feGaussianBlur stdDeviation="1.50"/></filter><filter id="t2" x="0" y="0" width="100%" height="100%" color-interpolation-filters="sRGB"><feTurbulence type="fractalNoise" baseFrequency="0.14 0.22" numOctaves="3" seed="9"/><feColorMatrix type="matrix" values="4 0 0 0 -1.4  4 0 0 0 -1.4  4 0 0 0 -1.4  0 0 0 0 1"/></filter><mask id="m2" maskUnits="userSpaceOnUse" x="-6.83" y="-6.32" width="218.67" height="183.34"><g filter="url(#b2)"><rect x="-6.83" y="-6.32" width="34.47" height="6.62" fill="#999999"/><rect x="27.33" y="-6.32" width="7.13" height="6.62" fill="#4c4c4c"/><rect x="34.17" y="-6.32" width="48.13" height="6.62" fill="#999999"/><rect x="82.00" y="-6.32" width="27.63" height="6.62" fill="#4c4c4c"/><rect x="109.33" y="-6.32" width="7.13" height="6.62" fill="#999999"/><rect x="116.17" y="-6.32" width="34.47" height="6.62" fill="#4c4c4c"/><rect x="150.33" y="-6.32" width="7.13" height="6.62" fill="#999999"/><rect x="157.17" y="-6.32" width="7.13" height="6.62" fill="#4c4c4c"/><rect x="164.00" y="-6.32" width="13.97" height="6.62" fill="#999999"/><rect x="177.67" y="-6.32" width="7.13" height="6.62" fill="#4c4c4c"/><rect x="184.50" y="-6.32" width="7.13" height="6.62" fill="#999999"/><rect x="191.33" y="-6.32" width="7.13" height="6.62" fill="#4c4c4c"/><rect x="198.17" y="-6.32" width="13.97" height="6.62" fill="#999999"/><rect x="-6.83" y="0.00" width="34.47" height="6.62" fill="#999999"/><rect x="27.33" y="0.00" width="7.13" height="6.62" fill="#4c4c4c"/><rect x="34.17" y="0.00" width="48.13" height="6.62" fill="#999999"/><rect x="82.00" y="0.00" width="27.63" height="6.62" fill="#4c4c4c"/><rect x="109.33" y="0.00" width="7.13" height="6.62" fill="#999999"/><rect x="116.17" y="0.00" width="34.47" height="6.62" fill="#4c4c4c"/><rect x="150.33" y="0.00" width="7.13" height="6.62" fill="#999999"/><rect x="157.17" y="0.00" width="7.13" height="6.62" fill="#4c4c4c"/><rect x="164.00" y="0.00" width="13.97" height="6.62" fill="#999999"/><rect x="177.67" y="0.00" width="7.13" height="6.62" fill="#4c4c4c"/><rect x="184.50" y="0.00" width="7.13" height="6.62" fill="#999999"/><rect x="191.33" y="0.00" width="7.13" height="6.62" fill="#4c4c4c"/><rect x="198.17" y="0.00" width="13.97" height="6.62" fill="#999999"/><rect x="-6.83" y="6.32" width="41.30" height="6.62" fill="#999999"/><rect x="34.17" y="6.32" width="7.13" height="6.62" fill="#4c4c4c"/><rect x="41.00" y="6.32" width="13.97" height="6.62" fill="#999999"/><rect x="54.67" y="6.32" width="13.97" height="6.62" fill="#4c4c4c"/><rect x="68.33" y="6.32" width="13.97" height="6.62" fill="#999999"/><rect x="82.00" y="6.32" width="13.97" height="6.62" fill="#4c4c4c"/><rect x="95.67" y="6.32" width="7.13" height="6.62" fill="#999999"/><rect x="102.50" y="6.32" width="13.97" height="6.62" fill="#4c4c4c"/><rect x="116.17" y="6.32" width="7.13" height="6.62" fill="#999999"/><rect x="123.00" y="6.32" width="20.80" height="6.62" fill="#4c4c4c"/><rect x="143.50" y="6.32" width="7.13" height="6.62" fill="#999999"/><rect x="150.33" y="6.32" width="27.63" height="6.62" fill="#4c4c4c"/><rect x="177.67" y="6.32" width="13.97" height="6.62" fill="#999999"/><rect x="191.33" y="6.32" width="7.13" height="6.62" fill="#4c4c4c"/><rect x="198.17" y="6.32" width="13.97" height="6.62" fill="#999999"/><rect x="-6.83" y="12.64" width="48.13" height="6.62" fill="#999999"/><rect x="41.00" y="12.64" width="7.13" height="6.62" fill="#4c4c4c"/><rect x="47.83" y="12.64" width="7.13" height="6.62" fill="#999999"/><rect x="54.67" y="12.64" width="13.97" height="6.62" fill="#4c4c4c"/><rect x="68.33" y="12.64" width="41.30" height="6.62" fill="#999999"/><rect x="109.33" y="12.64" width="13.97" height="6.62" fill="#4c4c4c"/><rect x="123.00" y="12.64" width="7.13" height="6.62" fill="#999999"/><rect x="129.83" y="12.64" width="13.97" height="6.62" fill="#4c4c4c"/><rect x="143.50" y="12.64" width="7.13" height="6.62" fill="#999999"/><rect x="150.33" y="12.64" width="27.63" height="6.62" fill="#4c4c4c"/><rect x="177.67" y="12.64" width="7.13" height="6.62" fill="#999999"/><rect x="184.50" y="12.64" width="7.13" height="6.62" fill="#4c4c4c"/><rect x="191.33" y="12.64" width="7.13" height="6.62" fill="#999999"/><rect x="198.17" y="12.64" width="13.97" height="6.62" fill="#4c4c4c"/><rect x="-6.83" y="18.97" width="20.80" height="6.62" fill="#4c4c4c"/><rect x="13.67" y="18.97" width="34.47" height="6.62" fill="#999999"/><rect x="47.83" y="18.97" width="7.13" height="6.62" fill="#4c4c4c"/><rect x="54.67" y="18.97" width="13.97" height="6.62" fill="#999999"/><rect x="68.33" y="18.97" width="7.13" height="6.62" fill="#4c4c4c"/><rect x="75.17" y="18.97" width="20.80" height="6.62" fill="#999999"/><rect x="95.67" y="18.97" width="7.13" height="6.62" fill="#4c4c4c"/><rect x="102.50" y="18.97" width="13.97" height="6.62" fill="#999999"/><rect x="116.17" y="18.97" width="7.13" height="6.62" fill="#4c4c4c"/><rect x="123.00" y="18.97" width="7.13" height="6.62" fill="#999999"/><rect x="129.83" y="18.97" width="7.13" height="6.62" fill="#4c4c4c"/><rect x="136.67" y="18.97" width="20.80" height="6.62" fill="#999999"/><rect x="157.17" y="18.97" width="27.63" height="6.62" fill="#4c4c4c"/><rect x="184.50" y="18.97" width="27.63" height="6.62" fill="#999999"/><rect x="-6.83" y="25.29" width="13.97" height="6.62" fill="#999999"/><rect x="6.83" y="25.29" width="7.13" height="6.62" fill="#4c4c4c"/><rect x="13.67" y="25.29" width="61.80" height="6.62" fill="#999999"/><rect x="75.17" y="25.29" width="7.13" height="6.62" fill="#4c4c4c"/><rect x="82.00" y="25.29" width="7.13" height="6.62" fill="#999999"/><rect x="88.83" y="25.29" width="7.13" height="6.62" fill="#4c4c4c"/><rect x="95.67" y="25.29" width="34.47" height="6.62" fill="#999999"/><rect x="129.83" y="25.29" width="7.13" height="6.62" fill="#4c4c4c"/><rect x="136.67" y="25.29" width="13.97" height="6.62" fill="#999999"/><rect x="150.33" y="25.29" width="13.97" height="6.62" fill="#4c4c4c"/><rect x="164.00" y="25.29" width="48.13" height="6.62" fill="#999999"/><rect x="-6.83" y="31.61" width="13.97" height="6.62" fill="#999999"/><rect x="6.83" y="31.61" width="7.13" height="6.62" fill="#4c4c4c"/><rect x="13.67" y="31.61" width="7.13" height="6.62" fill="#999999"/><rect x="20.50" y="31.61" width="13.97" height="6.62" fill="#4c4c4c"/><rect x="34.17" y="31.61" width="20.80" height="6.62" fill="#999999"/><rect x="54.67" y="31.61" width="13.97" height="6.62" fill="#4c4c4c"/><rect x="68.33" y="31.61" width="13.97" height="6.62" fill="#999999"/><rect x="82.00" y="31.61" width="7.13" height="6.62" fill="#4c4c4c"/><rect x="88.83" y="31.61" width="7.13" height="6.62" fill="#999999"/><rect x="95.67" y="31.61" width="13.97" height="6.62" fill="#4c4c4c"/><rect x="109.33" y="31.61" width="7.13" height="6.62" fill="#999999"/><rect x="116.17" y="31.61" width="13.97" height="6.62" fill="#4c4c4c"/><rect x="129.83" y="31.61" width="13.97" height="6.62" fill="#999999"/><rect x="143.50" y="31.61" width="7.13" height="6.62" fill="#4c4c4c"/><rect x="150.33" y="31.61" width="7.13" height="6.62" fill="#999999"/><rect x="157.17" y="31.61" width="13.97" height="6.62" fill="#4c4c4c"/><rect x="170.83" y="31.61" width="20.80" height="6.62" fill="#999999"/><rect x="191.33" y="31.61" width="7.13" height="6.62" fill="#4c4c4c"/><rect x="198.17" y="31.61" width="13.97" height="6.62" fill="#999999"/><rect x="-6.83" y="37.93" width="13.97" height="6.62" fill="#4c4c4c"/><rect x="6.83" y="37.93" width="27.63" height="6.62" fill="#999999"/><rect x="34.17" y="37.93" width="7.13" height="6.62" fill="#4c4c4c"/><rect x="41.00" y="37.93" width="13.97" height="6.62" fill="#999999"/><rect x="54.67" y="37.93" width="20.80" height="6.62" fill="#4c4c4c"/><rect x="75.17" y="37.93" width="27.63" height="6.62" fill="#999999"/><rect x="102.50" y="37.93" width="7.13" height="6.62" fill="#4c4c4c"/><rect x="109.33" y="37.93" width="7.13" height="6.62" fill="#999999"/><rect x="116.17" y="37.93" width="13.97" height="6.62" fill="#4c4c4c"/><rect x="129.83" y="37.93" width="13.97" height="6.62" fill="#999999"/><rect x="143.50" y="37.93" width="7.13" height="6.62" fill="#4c4c4c"/><rect x="150.33" y="37.93" width="48.13" height="6.62" fill="#999999"/><rect x="198.17" y="37.93" width="13.97" height="6.62" fill="#4c4c4c"/><rect x="-6.83" y="44.26" width="13.97" height="6.62" fill="#4c4c4c"/><rect x="6.83" y="44.26" width="13.97" height="6.62" fill="#999999"/><rect x="20.50" y="44.26" width="20.80" height="6.62" fill="#4c4c4c"/><rect x="41.00" y="44.26" width="20.80" height="6.62" fill="#999999"/><rect x="61.50" y="44.26" width="20.80" height="6.62" fill="#4c4c4c"/><rect x="82.00" y="44.26" width="20.80" height="6.62" fill="#999999"/><rect x="102.50" y="44.26" width="7.13" height="6.62" fill="#4c4c4c"/><rect x="109.33" y="44.26" width="13.97" height="6.62" fill="#999999"/><rect x="123.00" y="44.26" width="13.97" height="6.62" fill="#4c4c4c"/><rect x="136.67" y="44.26" width="7.13" height="6.62" fill="#999999"/><rect x="143.50" y="44.26" width="13.97" height="6.62" fill="#4c4c4c"/><rect x="157.17" y="44.26" width="7.13" height="6.62" fill="#999999"/><rect x="164.00" y="44.26" width="7.13" height="6.62" fill="#4c4c4c"/><rect x="170.83" y="44.26" width="20.80" height="6.62" fill="#999999"/><rect x="191.33" y="44.26" width="7.13" height="6.62" fill="#4c4c4c"/><rect x="198.17" y="44.26" width="13.97" height="6.62" fill="#999999"/><rect x="-6.83" y="50.58" width="13.97" height="6.62" fill="#4c4c4c"/><rect x="6.83" y="50.58" width="7.13" height="6.62" fill="#999999"/><rect x="13.67" y="50.58" width="13.97" height="6.62" fill="#4c4c4c"/><rect x="27.33" y="50.58" width="7.13" height="6.62" fill="#999999"/><rect x="34.17" y="50.58" width="13.97" height="6.62" fill="#4c4c4c"/><rect x="47.83" y="50.58" width="13.97" height="6.62" fill="#999999"/><rect x="61.50" y="50.58" width="7.13" height="6.62" fill="#4c4c4c"/><rect x="68.33" y="50.58" width="7.13" height="6.62" fill="#999999"/><rect x="75.17" y="50.58" width="7.13" height="6.62" fill="#4c4c4c"/><rect x="82.00" y="50.58" width="20.80" height="6.62" fill="#999999"/><rect x="102.50" y="50.58" width="7.13" height="6.62" fill="#4c4c4c"/><rect x="109.33" y="50.58" width="20.80" height="6.62" fill="#999999"/><rect x="129.83" y="50.58" width="20.80" height="6.62" fill="#4c4c4c"/><rect x="150.33" y="50.58" width="7.13" height="6.62" fill="#999999"/><rect x="157.17" y="50.58" width="7.13" height="6.62" fill="#4c4c4c"/><rect x="164.00" y="50.58" width="27.63" height="6.62" fill="#999999"/><rect x="191.33" y="50.58" width="7.13" height="6.62" fill="#4c4c4c"/><rect x="198.17" y="50.58" width="13.97" height="6.62" fill="#999999"/><rect x="-6.83" y="56.90" width="27.63" height="6.62" fill="#999999"/><rect x="20.50" y="56.90" width="27.63" height="6.62" fill="#4c4c4c"/><rect x="47.83" y="56.90" width="7.13" height="6.62" fill="#999999"/><rect x="54.67" y="56.90" width="13.97" height="6.62" fill="#4c4c4c"/><rect x="68.33" y="56.90" width="7.13" height="6.62" fill="#999999"/><rect x="75.17" y="56.90" width="7.13" height="6.62" fill="#4c4c4c"/><rect x="82.00" y="56.90" width="20.80" height="6.62" fill="#999999"/><rect x="102.50" y="56.90" width="7.13" height="6.62" fill="#4c4c4c"/><rect x="109.33" y="56.90" width="41.30" height="6.62" fill="#999999"/><rect x="150.33" y="56.90" width="34.47" height="6.62" fill="#4c4c4c"/><rect x="184.50" y="56.90" width="27.63" height="6.62" fill="#999999"/><rect x="-6.83" y="63.22" width="13.97" height="6.62" fill="#999999"/><rect x="6.83" y="63.22" width="7.13" height="6.62" fill="#4c4c4c"/><rect x="13.67" y="63.22" width="41.30" height="6.62" fill="#999999"/><rect x="54.67" y="63.22" width="13.97" height="6.62" fill="#4c4c4c"/><rect x="68.33" y="63.22" width="7.13" height="6.62" fill="#999999"/><rect x="75.17" y="63.22" width="7.13" height="6.62" fill="#4c4c4c"/><rect x="82.00" y="63.22" width="7.13" height="6.62" fill="#999999"/><rect x="88.83" y="63.22" width="7.13" height="6.62" fill="#4c4c4c"/><rect x="95.67" y="63.22" width="20.80" height="6.62" fill="#999999"/><rect x="116.17" y="63.22" width="7.13" height="6.62" fill="#4c4c4c"/><rect x="123.00" y="63.22" width="27.63" height="6.62" fill="#999999"/><rect x="150.33" y="63.22" width="20.80" height="6.62" fill="#4c4c4c"/><rect x="170.83" y="63.22" width="41.30" height="6.62" fill="#999999"/><rect x="-6.83" y="69.54" width="27.63" height="6.62" fill="#4c4c4c"/><rect x="20.50" y="69.54" width="13.97" height="6.62" fill="#999999"/><rect x="34.17" y="69.54" width="13.97" height="6.62" fill="#4c4c4c"/><rect x="47.83" y="69.54" width="13.97" height="6.62" fill="#999999"/><rect x="61.50" y="69.54" width="7.13" height="6.62" fill="#4c4c4c"/><rect x="68.33" y="69.54" width="20.80" height="6.62" fill="#999999"/><rect x="88.83" y="69.54" width="13.97" height="6.62" fill="#4c4c4c"/><rect x="102.50" y="69.54" width="13.97" height="6.62" fill="#999999"/><rect x="116.17" y="69.54" width="7.13" height="6.62" fill="#4c4c4c"/><rect x="123.00" y="69.54" width="13.97" height="6.62" fill="#999999"/><rect x="136.67" y="69.54" width="7.13" height="6.62" fill="#4c4c4c"/><rect x="143.50" y="69.54" width="27.63" height="6.62" fill="#999999"/><rect x="170.83" y="69.54" width="7.13" height="6.62" fill="#4c4c4c"/><rect x="177.67" y="69.54" width="34.47" height="6.62" fill="#999999"/><rect x="-6.83" y="75.87" width="13.97" height="6.62" fill="#999999"/><rect x="6.83" y="75.87" width="27.63" height="6.62" fill="#4c4c4c"/><rect x="34.17" y="75.87" width="13.97" height="6.62" fill="#999999"/><rect x="47.83" y="75.87" width="7.13" height="6.62" fill="#4c4c4c"/><rect x="54.67" y="75.87" width="34.47" height="6.62" fill="#999999"/><rect x="88.83" y="75.87" width="13.97" height="6.62" fill="#4c4c4c"/><rect x="102.50" y="75.87" width="27.63" height="6.62" fill="#999999"/><rect x="129.83" y="75.87" width="7.13" height="6.62" fill="#4c4c4c"/><rect x="136.67" y="75.87" width="20.80" height="6.62" fill="#999999"/><rect x="157.17" y="75.87" width="7.13" height="6.62" fill="#4c4c4c"/><rect x="164.00" y="75.87" width="7.13" height="6.62" fill="#999999"/><rect x="170.83" y="75.87" width="13.97" height="6.62" fill="#4c4c4c"/><rect x="184.50" y="75.87" width="27.63" height="6.62" fill="#999999"/><rect x="-6.83" y="82.19" width="27.63" height="6.62" fill="#999999"/><rect x="20.50" y="82.19" width="20.80" height="6.62" fill="#4c4c4c"/><rect x="41.00" y="82.19" width="7.13" height="6.62" fill="#999999"/><rect x="47.83" y="82.19" width="13.97" height="6.62" fill="#4c4c4c"/><rect x="61.50" y="82.19" width="20.80" height="6.62" fill="#999999"/><rect x="82.00" y="82.19" width="13.97" height="6.62" fill="#4c4c4c"/><rect x="95.67" y="82.19" width="7.13" height="6.62" fill="#999999"/><rect x="102.50" y="82.19" width="7.13" height="6.62" fill="#4c4c4c"/><rect x="109.33" y="82.19" width="20.80" height="6.62" fill="#999999"/><rect x="129.83" y="82.19" width="7.13" height="6.62" fill="#4c4c4c"/><rect x="136.67" y="82.19" width="7.13" height="6.62" fill="#999999"/><rect x="143.50" y="82.19" width="7.13" height="6.62" fill="#4c4c4c"/><rect x="150.33" y="82.19" width="27.63" height="6.62" fill="#999999"/><rect x="177.67" y="82.19" width="7.13" height="6.62" fill="#4c4c4c"/><rect x="184.50" y="82.19" width="7.13" height="6.62" fill="#999999"/><rect x="191.33" y="82.19" width="20.80" height="6.62" fill="#4c4c4c"/><rect x="-6.83" y="88.51" width="20.80" height="6.62" fill="#4c4c4c"/><rect x="13.67" y="88.51" width="20.80" height="6.62" fill="#999999"/><rect x="34.17" y="88.51" width="7.13" height="6.62" fill="#4c4c4c"/><rect x="41.00" y="88.51" width="13.97" height="6.62" fill="#999999"/><rect x="54.67" y="88.51" width="7.13" height="6.62" fill="#4c4c4c"/><rect x="61.50" y="88.51" width="27.63" height="6.62" fill="#999999"/><rect x="88.83" y="88.51" width="34.47" height="6.62" fill="#4c4c4c"/><rect x="123.00" y="88.51" width="7.13" height="6.62" fill="#999999"/><rect x="129.83" y="88.51" width="7.13" height="6.62" fill="#4c4c4c"/><rect x="136.67" y="88.51" width="13.97" height="6.62" fill="#999999"/><rect x="150.33" y="88.51" width="7.13" height="6.62" fill="#4c4c4c"/><rect x="157.17" y="88.51" width="34.47" height="6.62" fill="#999999"/><rect x="191.33" y="88.51" width="7.13" height="6.62" fill="#4c4c4c"/><rect x="198.17" y="88.51" width="13.97" height="6.62" fill="#999999"/><rect x="-6.83" y="94.83" width="13.97" height="6.62" fill="#999999"/><rect x="6.83" y="94.83" width="20.80" height="6.62" fill="#4c4c4c"/><rect x="27.33" y="94.83" width="61.80" height="6.62" fill="#999999"/><rect x="88.83" y="94.83" width="20.80" height="6.62" fill="#4c4c4c"/><rect x="109.33" y="94.83" width="7.13" height="6.62" fill="#999999"/><rect x="116.17" y="94.83" width="7.13" height="6.62" fill="#4c4c4c"/><rect x="123.00" y="94.83" width="13.97" height="6.62" fill="#999999"/><rect x="136.67" y="94.83" width="7.13" height="6.62" fill="#4c4c4c"/><rect x="143.50" y="94.83" width="7.13" height="6.62" fill="#999999"/><rect x="150.33" y="94.83" width="7.13" height="6.62" fill="#4c4c4c"/><rect x="157.17" y="94.83" width="34.47" height="6.62" fill="#999999"/><rect x="191.33" y="94.83" width="7.13" height="6.62" fill="#4c4c4c"/><rect x="198.17" y="94.83" width="13.97" height="6.62" fill="#999999"/><rect x="-6.83" y="101.16" width="27.63" height="6.62" fill="#999999"/><rect x="20.50" y="101.16" width="7.13" height="6.62" fill="#4c4c4c"/><rect x="27.33" y="101.16" width="27.63" height="6.62" fill="#999999"/><rect x="54.67" y="101.16" width="7.13" height="6.62" fill="#4c4c4c"/><rect x="61.50" y="101.16" width="20.80" height="6.62" fill="#999999"/><rect x="82.00" y="101.16" width="13.97" height="6.62" fill="#4c4c4c"/><rect x="95.67" y="101.16" width="7.13" height="6.62" fill="#999999"/><rect x="102.50" y="101.16" width="7.13" height="6.62" fill="#4c4c4c"/><rect x="109.33" y="101.16" width="7.13" height="6.62" fill="#999999"/><rect x="116.17" y="101.16" width="7.13" height="6.62" fill="#4c4c4c"/><rect x="123.00" y="101.16" width="13.97" height="6.62" fill="#999999"/><rect x="136.67" y="101.16" width="7.13" height="6.62" fill="#4c4c4c"/><rect x="143.50" y="101.16" width="13.97" height="6.62" fill="#999999"/><rect x="157.17" y="101.16" width="7.13" height="6.62" fill="#4c4c4c"/><rect x="164.00" y="101.16" width="7.13" height="6.62" fill="#999999"/><rect x="170.83" y="101.16" width="7.13" height="6.62" fill="#4c4c4c"/><rect x="177.67" y="101.16" width="20.80" height="6.62" fill="#999999"/><rect x="198.17" y="101.16" width="13.97" height="6.62" fill="#4c4c4c"/><rect x="-6.83" y="107.48" width="13.97" height="6.62" fill="#4c4c4c"/><rect x="6.83" y="107.48" width="7.13" height="6.62" fill="#999999"/><rect x="13.67" y="107.48" width="27.63" height="6.62" fill="#4c4c4c"/><rect x="41.00" y="107.48" width="7.13" height="6.62" fill="#999999"/><rect x="47.83" y="107.48" width="13.97" height="6.62" fill="#4c4c4c"/><rect x="61.50" y="107.48" width="7.13" height="6.62" fill="#999999"/><rect x="68.33" y="107.48" width="7.13" height="6.62" fill="#4c4c4c"/><rect x="75.17" y="107.48" width="7.13" height="6.62" fill="#999999"/><rect x="82.00" y="107.48" width="7.13" height="6.62" fill="#4c4c4c"/><rect x="88.83" y="107.48" width="7.13" height="6.62" fill="#999999"/><rect x="95.67" y="107.48" width="13.97" height="6.62" fill="#4c4c4c"/><rect x="109.33" y="107.48" width="34.47" height="6.62" fill="#999999"/><rect x="143.50" y="107.48" width="13.97" height="6.62" fill="#4c4c4c"/><rect x="157.17" y="107.48" width="7.13" height="6.62" fill="#999999"/><rect x="164.00" y="107.48" width="13.97" height="6.62" fill="#4c4c4c"/><rect x="177.67" y="107.48" width="7.13" height="6.62" fill="#999999"/><rect x="184.50" y="107.48" width="7.13" height="6.62" fill="#4c4c4c"/><rect x="191.33" y="107.48" width="7.13" height="6.62" fill="#999999"/><rect x="198.17" y="107.48" width="13.97" height="6.62" fill="#4c4c4c"/><rect x="-6.83" y="113.80" width="27.63" height="6.62" fill="#999999"/><rect x="20.50" y="113.80" width="20.80" height="6.62" fill="#4c4c4c"/><rect x="41.00" y="113.80" width="13.97" height="6.62" fill="#999999"/><rect x="54.67" y="113.80" width="7.13" height="6.62" fill="#4c4c4c"/><rect x="61.50" y="113.80" width="34.47" height="6.62" fill="#999999"/><rect x="95.67" y="113.80" width="13.97" height="6.62" fill="#4c4c4c"/><rect x="109.33" y="113.80" width="27.63" height="6.62" fill="#999999"/><rect x="136.67" y="113.80" width="7.13" height="6.62" fill="#4c4c4c"/><rect x="143.50" y="113.80" width="7.13" height="6.62" fill="#999999"/><rect x="150.33" y="113.80" width="7.13" height="6.62" fill="#4c4c4c"/><rect x="157.17" y="113.80" width="20.80" height="6.62" fill="#999999"/><rect x="177.67" y="113.80" width="7.13" height="6.62" fill="#4c4c4c"/><rect x="184.50" y="113.80" width="13.97" height="6.62" fill="#999999"/><rect x="198.17" y="113.80" width="13.97" height="6.62" fill="#4c4c4c"/><rect x="-6.83" y="120.12" width="13.97" height="6.62" fill="#4c4c4c"/><rect x="6.83" y="120.12" width="27.63" height="6.62" fill="#999999"/><rect x="34.17" y="120.12" width="13.97" height="6.62" fill="#4c4c4c"/><rect x="47.83" y="120.12" width="7.13" height="6.62" fill="#999999"/><rect x="54.67" y="120.12" width="7.13" height="6.62" fill="#4c4c4c"/><rect x="61.50" y="120.12" width="7.13" height="6.62" fill="#999999"/><rect x="68.33" y="120.12" width="7.13" height="6.62" fill="#4c4c4c"/><rect x="75.17" y="120.12" width="34.47" height="6.62" fill="#999999"/><rect x="109.33" y="120.12" width="7.13" height="6.62" fill="#4c4c4c"/><rect x="116.17" y="120.12" width="20.80" height="6.62" fill="#999999"/><rect x="136.67" y="120.12" width="7.13" height="6.62" fill="#4c4c4c"/><rect x="143.50" y="120.12" width="13.97" height="6.62" fill="#999999"/><rect x="157.17" y="120.12" width="7.13" height="6.62" fill="#4c4c4c"/><rect x="164.00" y="120.12" width="48.13" height="6.62" fill="#999999"/><rect x="-6.83" y="126.44" width="13.97" height="6.62" fill="#999999"/><rect x="6.83" y="126.44" width="7.13" height="6.62" fill="#4c4c4c"/><rect x="13.67" y="126.44" width="27.63" height="6.62" fill="#999999"/><rect x="41.00" y="126.44" width="7.13" height="6.62" fill="#4c4c4c"/><rect x="47.83" y="126.44" width="7.13" height="6.62" fill="#999999"/><rect x="54.67" y="126.44" width="7.13" height="6.62" fill="#4c4c4c"/><rect x="61.50" y="126.44" width="7.13" height="6.62" fill="#999999"/><rect x="68.33" y="126.44" width="7.13" height="6.62" fill="#4c4c4c"/><rect x="75.17" y="126.44" width="20.80" height="6.62" fill="#999999"/><rect x="95.67" y="126.44" width="20.80" height="6.62" fill="#4c4c4c"/><rect x="116.17" y="126.44" width="7.13" height="6.62" fill="#999999"/><rect x="123.00" y="126.44" width="7.13" height="6.62" fill="#4c4c4c"/><rect x="129.83" y="126.44" width="7.13" height="6.62" fill="#999999"/><rect x="136.67" y="126.44" width="7.13" height="6.62" fill="#4c4c4c"/><rect x="143.50" y="126.44" width="7.13" height="6.62" fill="#999999"/><rect x="150.33" y="126.44" width="7.13" height="6.62" fill="#4c4c4c"/><rect x="157.17" y="126.44" width="13.97" height="6.62" fill="#999999"/><rect x="170.83" y="126.44" width="13.97" height="6.62" fill="#4c4c4c"/><rect x="184.50" y="126.44" width="7.13" height="6.62" fill="#999999"/><rect x="191.33" y="126.44" width="20.80" height="6.62" fill="#4c4c4c"/><rect x="-6.83" y="132.77" width="27.63" height="6.62" fill="#999999"/><rect x="20.50" y="132.77" width="13.97" height="6.62" fill="#4c4c4c"/><rect x="34.17" y="132.77" width="34.47" height="6.62" fill="#999999"/><rect x="68.33" y="132.77" width="7.13" height="6.62" fill="#4c4c4c"/><rect x="75.17" y="132.77" width="34.47" height="6.62" fill="#999999"/><rect x="109.33" y="132.77" width="7.13" height="6.62" fill="#4c4c4c"/><rect x="116.17" y="132.77" width="48.13" height="6.62" fill="#999999"/><rect x="164.00" y="132.77" width="20.80" height="6.62" fill="#4c4c4c"/><rect x="184.50" y="132.77" width="7.13" height="6.62" fill="#999999"/><rect x="191.33" y="132.77" width="20.80" height="6.62" fill="#4c4c4c"/><rect x="-6.83" y="139.09" width="13.97" height="6.62" fill="#4c4c4c"/><rect x="6.83" y="139.09" width="27.63" height="6.62" fill="#999999"/><rect x="34.17" y="139.09" width="7.13" height="6.62" fill="#4c4c4c"/><rect x="41.00" y="139.09" width="41.30" height="6.62" fill="#999999"/><rect x="82.00" y="139.09" width="13.97" height="6.62" fill="#4c4c4c"/><rect x="95.67" y="139.09" width="7.13" height="6.62" fill="#999999"/><rect x="102.50" y="139.09" width="13.97" height="6.62" fill="#4c4c4c"/><rect x="116.17" y="139.09" width="13.97" height="6.62" fill="#999999"/><rect x="129.83" y="139.09" width="13.97" height="6.62" fill="#4c4c4c"/><rect x="143.50" y="139.09" width="68.63" height="6.62" fill="#999999"/><rect x="-6.83" y="145.41" width="20.80" height="6.62" fill="#4c4c4c"/><rect x="13.67" y="145.41" width="7.13" height="6.62" fill="#999999"/><rect x="20.50" y="145.41" width="20.80" height="6.62" fill="#4c4c4c"/><rect x="41.00" y="145.41" width="61.80" height="6.62" fill="#999999"/><rect x="102.50" y="145.41" width="7.13" height="6.62" fill="#4c4c4c"/><rect x="109.33" y="145.41" width="34.47" height="6.62" fill="#999999"/><rect x="143.50" y="145.41" width="13.97" height="6.62" fill="#4c4c4c"/><rect x="157.17" y="145.41" width="7.13" height="6.62" fill="#999999"/><rect x="164.00" y="145.41" width="7.13" height="6.62" fill="#4c4c4c"/><rect x="170.83" y="145.41" width="7.13" height="6.62" fill="#999999"/><rect x="177.67" y="145.41" width="7.13" height="6.62" fill="#4c4c4c"/><rect x="184.50" y="145.41" width="27.63" height="6.62" fill="#999999"/><rect x="-6.83" y="151.73" width="34.47" height="6.62" fill="#999999"/><rect x="27.33" y="151.73" width="7.13" height="6.62" fill="#4c4c4c"/><rect x="34.17" y="151.73" width="13.97" height="6.62" fill="#999999"/><rect x="47.83" y="151.73" width="7.13" height="6.62" fill="#4c4c4c"/><rect x="54.67" y="151.73" width="61.80" height="6.62" fill="#999999"/><rect x="116.17" y="151.73" width="7.13" height="6.62" fill="#4c4c4c"/><rect x="123.00" y="151.73" width="20.80" height="6.62" fill="#999999"/><rect x="143.50" y="151.73" width="7.13" height="6.62" fill="#4c4c4c"/><rect x="150.33" y="151.73" width="20.80" height="6.62" fill="#999999"/><rect x="170.83" y="151.73" width="7.13" height="6.62" fill="#4c4c4c"/><rect x="177.67" y="151.73" width="7.13" height="6.62" fill="#999999"/><rect x="184.50" y="151.73" width="7.13" height="6.62" fill="#4c4c4c"/><rect x="191.33" y="151.73" width="20.80" height="6.62" fill="#999999"/><rect x="-6.83" y="158.06" width="13.97" height="6.62" fill="#4c4c4c"/><rect x="6.83" y="158.06" width="61.80" height="6.62" fill="#999999"/><rect x="68.33" y="158.06" width="7.13" height="6.62" fill="#4c4c4c"/><rect x="75.17" y="158.06" width="41.30" height="6.62" fill="#999999"/><rect x="116.17" y="158.06" width="13.97" height="6.62" fill="#4c4c4c"/><rect x="129.83" y="158.06" width="7.13" height="6.62" fill="#999999"/><rect x="136.67" y="158.06" width="7.13" height="6.62" fill="#4c4c4c"/><rect x="143.50" y="158.06" width="27.63" height="6.62" fill="#999999"/><rect x="170.83" y="158.06" width="7.13" height="6.62" fill="#4c4c4c"/><rect x="177.67" y="158.06" width="7.13" height="6.62" fill="#999999"/><rect x="184.50" y="158.06" width="7.13" height="6.62" fill="#4c4c4c"/><rect x="191.33" y="158.06" width="20.80" height="6.62" fill="#999999"/><rect x="-6.83" y="164.38" width="27.63" height="6.62" fill="#999999"/><rect x="20.50" y="164.38" width="7.13" height="6.62" fill="#4c4c4c"/><rect x="27.33" y="164.38" width="7.13" height="6.62" fill="#999999"/><rect x="34.17" y="164.38" width="7.13" height="6.62" fill="#4c4c4c"/><rect x="41.00" y="164.38" width="27.63" height="6.62" fill="#999999"/><rect x="68.33" y="164.38" width="7.13" height="6.62" fill="#4c4c4c"/><rect x="75.17" y="164.38" width="41.30" height="6.62" fill="#999999"/><rect x="116.17" y="164.38" width="7.13" height="6.62" fill="#4c4c4c"/><rect x="123.00" y="164.38" width="41.30" height="6.62" fill="#999999"/><rect x="164.00" y="164.38" width="7.13" height="6.62" fill="#4c4c4c"/><rect x="170.83" y="164.38" width="13.97" height="6.62" fill="#999999"/><rect x="184.50" y="164.38" width="7.13" height="6.62" fill="#4c4c4c"/><rect x="191.33" y="164.38" width="20.80" height="6.62" fill="#999999"/><rect x="-6.83" y="170.70" width="27.63" height="6.62" fill="#999999"/><rect x="20.50" y="170.70" width="7.13" height="6.62" fill="#4c4c4c"/><rect x="27.33" y="170.70" width="7.13" height="6.62" fill="#999999"/><rect x="34.17" y="170.70" width="7.13" height="6.62" fill="#4c4c4c"/><rect x="41.00" y="170.70" width="27.63" height="6.62" fill="#999999"/><rect x="68.33" y="170.70" width="7.13" height="6.62" fill="#4c4c4c"/><rect x="75.17" y="170.70" width="41.30" height="6.62" fill="#999999"/><rect x="116.17" y="170.70" width="7.13" height="6.62" fill="#4c4c4c"/><rect x="123.00" y="170.70" width="41.30" height="6.62" fill="#999999"/><rect x="164.00" y="170.70" width="7.13" height="6.62" fill="#4c4c4c"/><rect x="170.83" y="170.70" width="13.97" height="6.62" fill="#999999"/><rect x="184.50" y="170.70" width="7.13" height="6.62" fill="#4c4c4c"/><rect x="191.33" y="170.70" width="20.80" height="6.62" fill="#999999"/></g></mask></defs><g filter="url(#b2)"><rect x="-6.83" y="-6.32" width="13.97" height="6.62" fill="#b5600a"/><rect x="6.83" y="-6.32" width="7.13" height="6.62" fill="#725109"/><rect x="13.67" y="-6.32" width="7.13" height="6.62" fill="#181304"/><rect x="20.50" y="-6.32" width="7.13" height="6.62" fill="#b5600a"/><rect x="27.33" y="-6.32" width="7.13" height="6.62" fill="#ff9812"/><rect x="34.17" y="-6.32" width="7.13" height="6.62" fill="#b5600a"/><rect x="41.00" y="-6.32" width="13.97" height="6.62" fill="#181304"/><rect x="54.67" y="-6.32" width="7.13" height="6.62" fill="#6b5109"/><rect x="61.50" y="-6.32" width="7.13" height="6.62" fill="#6a5109"/><rect x="68.33" y="-6.32" width="7.13" height="6.62" fill="#b5600a"/><rect x="75.17" y="-6.32" width="7.13" height="6.62" fill="#c9a512"/><rect x="82.00" y="-6.32" width="20.80" height="6.62" fill="#c5dd19"/><rect x="102.50" y="-6.32" width="7.13" height="6.62" fill="#14e10e"/><rect x="109.33" y="-6.32" width="7.13" height="6.62" fill="#bea512"/><rect x="116.17" y="-6.32" width="7.13" height="6.62" fill="#c5dd19"/><rect x="123.00" y="-6.32" width="7.13" height="6.62" fill="#14e10e"/><rect x="129.83" y="-6.32" width="13.97" height="6.62" fill="#c5dd19"/><rect x="143.50" y="-6.32" width="7.13" height="6.62" fill="#14e10e"/><rect x="150.33" y="-6.32" width="7.13" height="6.62" fill="#267b0b"/><rect x="157.17" y="-6.32" width="7.13" height="6.62" fill="#14e10e"/><rect x="164.00" y="-6.32" width="13.97" height="6.62" fill="#267b0b"/><rect x="177.67" y="-6.32" width="7.13" height="6.62" fill="#c5dd19"/><rect x="184.50" y="-6.32" width="7.13" height="6.62" fill="#267b0b"/><rect x="191.33" y="-6.32" width="7.13" height="6.62" fill="#14e10e"/><rect x="198.17" y="-6.32" width="13.97" height="6.62" fill="#267b0b"/><rect x="-6.83" y="0.00" width="13.97" height="6.62" fill="#b5600a"/><rect x="6.83" y="0.00" width="7.13" height="6.62" fill="#725109"/><rect x="13.67" y="0.00" width="7.13" height="6.62" fill="#181304"/><rect x="20.50" y="0.00" width="7.13" height="6.62" fill="#b5600a"/><rect x="27.33" y="0.00" width="7.13" height="6.62" fill="#ff9812"/><rect x="34.17" y="0.00" width="7.13" height="6.62" fill="#b5600a"/><rect x="41.00" y="0.00" width="13.97" height="6.62" fill="#181304"/><rect x="54.67" y="0.00" width="7.13" height="6.62" fill="#6b5109"/><rect x="61.50" y="0.00" width="7.13" height="6.62" fill="#6a5109"/><rect x="68.33" y="0.00" width="7.13" height="6.62" fill="#b5600a"/><rect x="75.17" y="0.00" width="7.13" height="6.62" fill="#c9a512"/><rect x="82.00" y="0.00" width="20.80" height="6.62" fill="#c5dd19"/><rect x="102.50" y="0.00" width="7.13" height="6.62" fill="#14e10e"/><rect x="109.33" y="0.00" width="7.13" height="6.62" fill="#bea512"/><rect x="116.17" y="0.00" width="7.13" height="6.62" fill="#c5dd19"/><rect x="123.00" y="0.00" width="7.13" height="6.62" fill="#14e10e"/><rect x="129.83" y="0.00" width="13.97" height="6.62" fill="#c5dd19"/><rect x="143.50" y="0.00" width="7.13" height="6.62" fill="#14e10e"/><rect x="150.33" y="0.00" width="7.13" height="6.62" fill="#267b0b"/><rect x="157.17" y="0.00" width="7.13" height="6.62" fill="#14e10e"/><rect x="164.00" y="0.00" width="13.97" height="6.62" fill="#267b0b"/><rect x="177.67" y="0.00" width="7.13" height="6.62" fill="#c5dd19"/><rect x="184.50" y="0.00" width="7.13" height="6.62" fill="#267b0b"/><rect x="191.33" y="0.00" width="7.13" height="6.62" fill="#14e10e"/><rect x="198.17" y="0.00" width="13.97" height="6.62" fill="#267b0b"/><rect x="-6.83" y="6.32" width="13.97" height="6.62" fill="#b5600a"/><rect x="6.83" y="6.32" width="7.13" height="6.62" fill="#144607"/><rect x="13.67" y="6.32" width="13.97" height="6.62" fill="#b5600a"/><rect x="27.33" y="6.32" width="7.13" height="6.62" fill="#d8a512"/><rect x="34.17" y="6.32" width="7.13" height="6.62" fill="#ff9812"/><rect x="41.00" y="6.32" width="7.13" height="6.62" fill="#b5600a"/><rect x="47.83" y="6.32" width="7.13" height="6.62" fill="#d2a512"/><rect x="54.67" y="6.32" width="7.13" height="6.62" fill="#c5dd19"/><rect x="61.50" y="6.32" width="7.13" height="6.62" fill="#14e10e"/><rect x="68.33" y="6.32" width="7.13" height="6.62" fill="#181304"/><rect x="75.17" y="6.32" width="7.13" height="6.62" fill="#675109"/><rect x="82.00" y="6.32" width="7.13" height="6.62" fill="#f4e61f"/><rect x="88.83" y="6.32" width="7.13" height="6.62" fill="#f1e61f"/><rect x="95.67" y="6.32" width="7.13" height="6.62" fill="#c3a512"/><rect x="102.50" y="6.32" width="7.13" height="6.62" fill="#c5dd19"/><rect x="109.33" y="6.32" width="7.13" height="6.62" fill="#e9e61f"/><rect x="116.17" y="6.32" width="7.13" height="6.62" fill="#267b0b"/><rect x="123.00" y="6.32" width="7.13" height="6.62" fill="#c5dd19"/><rect x="129.83" y="6.32" width="7.13" height="6.62" fill="#14e10e"/><rect x="136.67" y="6.32" width="7.13" height="6.62" fill="#c5dd19"/><rect x="143.50" y="6.32" width="7.13" height="6.62" fill="#267b0b"/><rect x="150.33" y="6.32" width="7.13" height="6.62" fill="#c5dd19"/><rect x="157.17" y="6.32" width="13.97" height="6.62" fill="#14e10e"/><rect x="170.83" y="6.32" width="7.13" height="6.62" fill="#c5dd19"/><rect x="177.67" y="6.32" width="13.97" height="6.62" fill="#267b0b"/><rect x="191.33" y="6.32" width="7.13" height="6.62" fill="#14e10e"/><rect x="198.17" y="6.32" width="13.97" height="6.62" fill="#267b0b"/><rect x="-6.83" y="12.64" width="13.97" height="6.62" fill="#267b0b"/><rect x="6.83" y="12.64" width="7.13" height="6.62" fill="#144607"/><rect x="13.67" y="12.64" width="13.97" height="6.62" fill="#b5600a"/><rect x="27.33" y="12.64" width="7.13" height="6.62" fill="#d8a512"/><rect x="34.17" y="12.64" width="7.13" height="6.62" fill="#b5600a"/><rect x="41.00" y="12.64" width="7.13" height="6.62" fill="#ff9812"/><rect x="47.83" y="12.64" width="7.13" height="6.62" fill="#b5600a"/><rect x="54.67" y="12.64" width="7.13" height="6.62" fill="#fee61f"/><rect x="61.50" y="12.64" width="7.13" height="6.62" fill="#c5dd19"/><rect x="68.33" y="12.64" width="7.13" height="6.62" fill="#267b0b"/><rect x="75.17" y="12.64" width="7.13" height="6.62" fill="#181304"/><rect x="82.00" y="12.64" width="7.13" height="6.62" fill="#665109"/><rect x="88.83" y="12.64" width="7.13" height="6.62" fill="#c5a512"/><rect x="95.67" y="12.64" width="7.13" height="6.62" fill="#b5600a"/><rect x="102.50" y="12.64" width="7.13" height="6.62" fill="#c0a512"/><rect x="109.33" y="12.64" width="13.97" height="6.62" fill="#c5dd19"/><rect x="123.00" y="12.64" width="7.13" height="6.62" fill="#267b0b"/><rect x="129.83" y="12.64" width="13.97" height="6.62" fill="#c5dd19"/><rect x="143.50" y="12.64" width="7.13" height="6.62" fill="#b3a512"/><rect x="150.33" y="12.64" width="7.13" height="6.62" fill="#d9e61f"/><rect x="157.17" y="12.64" width="20.80" height="6.62" fill="#c5dd19"/><rect x="177.67" y="12.64" width="7.13" height="6.62" fill="#267b0b"/><rect x="184.50" y="12.64" width="7.13" height="6.62" fill="#14e10e"/><rect x="191.33" y="12.64" width="7.13" height="6.62" fill="#267b0b"/><rect x="198.17" y="12.64" width="13.97" height="6.62" fill="#c5dd19"/><rect x="-6.83" y="18.97" width="13.97" height="6.62" fill="#ff9812"/><rect x="6.83" y="18.97" width="7.13" height="6.62" fill="#14e10e"/><rect x="13.67" y="18.97" width="7.13" height="6.62" fill="#181304"/><rect x="20.50" y="18.97" width="7.13" height="6.62" fill="#b5600a"/><rect x="27.33" y="18.97" width="7.13" height="6.62" fill="#d8a512"/><rect x="34.17" y="18.97" width="7.13" height="6.62" fill="#144607"/><rect x="41.00" y="18.97" width="7.13" height="6.62" fill="#b5600a"/><rect x="47.83" y="18.97" width="7.13" height="6.62" fill="#ff9812"/><rect x="54.67" y="18.97" width="7.13" height="6.62" fill="#cfa512"/><rect x="61.50" y="18.97" width="7.13" height="6.62" fill="#cda512"/><rect x="68.33" y="18.97" width="7.13" height="6.62" fill="#14e10e"/><rect x="75.17" y="18.97" width="7.13" height="6.62" fill="#144607"/><rect x="82.00" y="18.97" width="7.13" height="6.62" fill="#665109"/><rect x="88.83" y="18.97" width="7.13" height="6.62" fill="#b5600a"/><rect x="95.67" y="18.97" width="7.13" height="6.62" fill="#ff9812"/><rect x="102.50" y="18.97" width="7.13" height="6.62" fill="#635109"/><rect x="109.33" y="18.97" width="7.13" height="6.62" fill="#267b0b"/><rect x="116.17" y="18.97" width="7.13" height="6.62" fill="#c5dd19"/><rect x="123.00" y="18.97" width="7.13" height="6.62" fill="#baa512"/><rect x="129.83" y="18.97" width="7.13" height="6.62" fill="#c5dd19"/><rect x="136.67" y="18.97" width="7.13" height="6.62" fill="#b6a512"/><rect x="143.50" y="18.97" width="7.13" height="6.62" fill="#b3a512"/><rect x="150.33" y="18.97" width="7.13" height="6.62" fill="#b1a512"/><rect x="157.17" y="18.97" width="20.80" height="6.62" fill="#c5dd19"/><rect x="177.67" y="18.97" width="7.13" height="6.62" fill="#14e10e"/><rect x="184.50" y="18.97" width="7.13" height="6.62" fill="#267b0b"/><rect x="191.33" y="18.97" width="7.13" height="6.62" fill="#a4a512"/><rect x="198.17" y="18.97" width="13.97" height="6.62" fill="#267b0b"/><rect x="-6.83" y="25.29" width="13.97" height="6.62" fill="#b5600a"/><rect x="6.83" y="25.29" width="7.13" height="6.62" fill="#14e10e"/><rect x="13.67" y="25.29" width="7.13" height="6.62" fill="#267b0b"/><rect x="20.50" y="25.29" width="7.13" height="6.62" fill="#144607"/><rect x="27.33" y="25.29" width="7.13" height="6.62" fill="#6f5109"/><rect x="34.17" y="25.29" width="7.13" height="6.62" fill="#6e5109"/><rect x="41.00" y="25.29" width="7.13" height="6.62" fill="#6d5109"/><rect x="47.83" y="25.29" width="7.13" height="6.62" fill="#6c5109"/><rect x="54.67" y="25.29" width="7.13" height="6.62" fill="#6b5109"/><rect x="61.50" y="25.29" width="13.97" height="6.62" fill="#267b0b"/><rect x="75.17" y="25.29" width="7.13" height="6.62" fill="#c5dd19"/><rect x="82.00" y="25.29" width="7.13" height="6.62" fill="#665109"/><rect x="88.83" y="25.29" width="7.13" height="6.62" fill="#ff9812"/><rect x="95.67" y="25.29" width="7.13" height="6.62" fill="#c3a512"/><rect x="102.50" y="25.29" width="7.13" height="6.62" fill="#c0a512"/><rect x="109.33" y="25.29" width="7.13" height="6.62" fill="#267b0b"/><rect x="116.17" y="25.29" width="7.13" height="6.62" fill="#bca512"/><rect x="123.00" y="25.29" width="7.13" height="6.62" fill="#267b0b"/><rect x="129.83" y="25.29" width="7.13" height="6.62" fill="#c5dd19"/><rect x="136.67" y="25.29" width="7.13" height="6.62" fill="#5d5109"/><rect x="143.50" y="25.29" width="7.13" height="6.62" fill="#b3a512"/><rect x="150.33" y="25.29" width="13.97" height="6.62" fill="#c5dd19"/><rect x="164.00" y="25.29" width="13.97" height="6.62" fill="#267b0b"/><rect x="177.67" y="25.29" width="7.13" height="6.62" fill="#a9a512"/><rect x="184.50" y="25.29" width="7.13" height="6.62" fill="#a7a512"/><rect x="191.33" y="25.29" width="7.13" height="6.62" fill="#555109"/><rect x="198.17" y="25.29" width="13.97" height="6.62" fill="#a2a512"/><rect x="-6.83" y="31.61" width="13.97" height="6.62" fill="#267b0b"/><rect x="6.83" y="31.61" width="7.13" height="6.62" fill="#14e10e"/><rect x="13.67" y="31.61" width="7.13" height="6.62" fill="#dca512"/><rect x="20.50" y="31.61" width="7.13" height="6.62" fill="#c5dd19"/><rect x="27.33" y="31.61" width="7.13" height="6.62" fill="#14e10e"/><rect x="34.17" y="31.61" width="7.13" height="6.62" fill="#144607"/><rect x="41.00" y="31.61" width="7.13" height="6.62" fill="#6d5109"/><rect x="47.83" y="31.61" width="7.13" height="6.62" fill="#d2a512"/><rect x="54.67" y="31.61" width="7.13" height="6.62" fill="#c5dd19"/><rect x="61.50" y="31.61" width="7.13" height="6.62" fill="#14e10e"/><rect x="68.33" y="31.61" width="7.13" height="6.62" fill="#267b0b"/><rect x="75.17" y="31.61" width="7.13" height="6.62" fill="#181304"/><rect x="82.00" y="31.61" width="7.13" height="6.62" fill="#f4e61f"/><rect x="88.83" y="31.61" width="7.13" height="6.62" fill="#655109"/><rect x="95.67" y="31.61" width="7.13" height="6.62" fill="#eee61f"/><rect x="102.50" y="31.61" width="7.13" height="6.62" fill="#c5dd19"/><rect x="109.33" y="31.61" width="7.13" height="6.62" fill="#267b0b"/><rect x="116.17" y="31.61" width="7.13" height="6.62" fill="#c5dd19"/><rect x="123.00" y="31.61" width="7.13" height="6.62" fill="#14e10e"/><rect x="129.83" y="31.61" width="7.13" height="6.62" fill="#267b0b"/><rect x="136.67" y="31.61" width="7.13" height="6.62" fill="#b6a512"/><rect x="143.50" y="31.61" width="7.13" height="6.62" fill="#c5dd19"/><rect x="150.33" y="31.61" width="7.13" height="6.62" fill="#5b5109"/><rect x="157.17" y="31.61" width="13.97" height="6.62" fill="#c5dd19"/><rect x="170.83" y="31.61" width="7.13" height="6.62" fill="#aba512"/><rect x="177.67" y="31.61" width="7.13" height="6.62" fill="#a9a512"/><rect x="184.50" y="31.61" width="7.13" height="6.62" fill="#a7a512"/><rect x="191.33" y="31.61" width="7.13" height="6.62" fill="#c5dd19"/><rect x="198.17" y="31.61" width="13.97" height="6.62" fill="#535109"/><rect x="-6.83" y="37.93" width="13.97" height="6.62" fill="#14e10e"/><rect x="6.83" y="37.93" width="7.13" height="6.62" fill="#181304"/><rect x="13.67" y="37.93" width="13.97" height="6.62" fill="#b5600a"/><rect x="27.33" y="37.93" width="7.13" height="6.62" fill="#267b0b"/><rect x="34.17" y="37.93" width="7.13" height="6.62" fill="#14e10e"/><rect x="41.00" y="37.93" width="7.13" height="6.62" fill="#181304"/><rect x="47.83" y="37.93" width="7.13" height="6.62" fill="#d2a512"/><rect x="54.67" y="37.93" width="13.97" height="6.62" fill="#c5dd19"/><rect x="68.33" y="37.93" width="7.13" height="6.62" fill="#14e10e"/><rect x="75.17" y="37.93" width="7.13" height="6.62" fill="#267b0b"/><rect x="82.00" y="37.93" width="7.13" height="6.62" fill="#144607"/><rect x="88.83" y="37.93" width="7.13" height="6.62" fill="#655109"/><rect x="95.67" y="37.93" width="7.13" height="6.62" fill="#c3a512"/><rect x="102.50" y="37.93" width="7.13" height="6.62" fill="#c5dd19"/><rect x="109.33" y="37.93" width="7.13" height="6.62" fill="#267b0b"/><rect x="116.17" y="37.93" width="7.13" height="6.62" fill="#14e10e"/><rect x="123.00" y="37.93" width="7.13" height="6.62" fill="#c5dd19"/><rect x="129.83" y="37.93" width="7.13" height="6.62" fill="#267b0b"/><rect x="136.67" y="37.93" width="7.13" height="6.62" fill="#b6a512"/><rect x="143.50" y="37.93" width="7.13" height="6.62" fill="#14e10e"/><rect x="150.33" y="37.93" width="7.13" height="6.62" fill="#181304"/><rect x="157.17" y="37.93" width="7.13" height="6.62" fill="#267b0b"/><rect x="164.00" y="37.93" width="7.13" height="6.62" fill="#ada512"/><rect x="170.83" y="37.93" width="7.13" height="6.62" fill="#aba512"/><rect x="177.67" y="37.93" width="7.13" height="6.62" fill="#a9a512"/><rect x="184.50" y="37.93" width="7.13" height="6.62" fill="#565109"/><rect x="191.33" y="37.93" width="7.13" height="6.62" fill="#267b0b"/><rect x="198.17" y="37.93" width="13.97" height="6.62" fill="#c5dd19"/><rect x="-6.83" y="44.26" width="13.97" height="6.62" fill="#c5dd19"/><rect x="6.83" y="44.26" width="7.13" height="6.62" fill="#dea512"/><rect x="13.67" y="44.26" width="7.13" height="6.62" fill="#b5600a"/><rect x="20.50" y="44.26" width="7.13" height="6.62" fill="#ff9812"/><rect x="27.33" y="44.26" width="13.97" height="6.62" fill="#c5dd19"/><rect x="41.00" y="44.26" width="7.13" height="6.62" fill="#267b0b"/><rect x="47.83" y="44.26" width="7.13" height="6.62" fill="#d2a512"/><rect x="54.67" y="44.26" width="7.13" height="6.62" fill="#cfa512"/><rect x="61.50" y="44.26" width="20.80" height="6.62" fill="#14e10e"/><rect x="82.00" y="44.26" width="7.13" height="6.62" fill="#144607"/><rect x="88.83" y="44.26" width="7.13" height="6.62" fill="#c5a512"/><rect x="95.67" y="44.26" width="7.13" height="6.62" fill="#c3a512"/><rect x="102.50" y="44.26" width="7.13" height="6.62" fill="#14e10e"/><rect x="109.33" y="44.26" width="7.13" height="6.62" fill="#267b0b"/><rect x="116.17" y="44.26" width="7.13" height="6.62" fill="#615109"/><rect x="123.00" y="44.26" width="7.13" height="6.62" fill="#c5dd19"/><rect x="129.83" y="44.26" width="7.13" height="6.62" fill="#14e10e"/><rect x="136.67" y="44.26" width="7.13" height="6.62" fill="#267b0b"/><rect x="143.50" y="44.26" width="7.13" height="6.62" fill="#14e10e"/><rect x="150.33" y="44.26" width="7.13" height="6.62" fill="#c5dd19"/><rect x="157.17" y="44.26" width="7.13" height="6.62" fill="#181304"/><rect x="164.00" y="44.26" width="7.13" height="6.62" fill="#c5dd19"/><rect x="170.83" y="44.26" width="7.13" height="6.62" fill="#aba512"/><rect x="177.67" y="44.26" width="7.13" height="6.62" fill="#575109"/><rect x="184.50" y="44.26" width="7.13" height="6.62" fill="#267b0b"/><rect x="191.33" y="44.26" width="7.13" height="6.62" fill="#14e10e"/><rect x="198.17" y="44.26" width="13.97" height="6.62" fill="#267b0b"/><rect x="-6.83" y="50.58" width="13.97" height="6.62" fill="#ff9812"/><rect x="6.83" y="50.58" width="7.13" height="6.62" fill="#b5600a"/><rect x="13.67" y="50.58" width="13.97" height="6.62" fill="#ff9812"/><rect x="27.33" y="50.58" width="7.13" height="6.62" fill="#d8a512"/><rect x="34.17" y="50.58" width="7.13" height="6.62" fill="#ff9812"/><rect x="41.00" y="50.58" width="7.13" height="6.62" fill="#c5dd19"/><rect x="47.83" y="50.58" width="13.97" height="6.62" fill="#267b0b"/><rect x="61.50" y="50.58" width="7.13" height="6.62" fill="#14e10e"/><rect x="68.33" y="50.58" width="7.13" height="6.62" fill="#267b0b"/><rect x="75.17" y="50.58" width="7.13" height="6.62" fill="#14e10e"/><rect x="82.00" y="50.58" width="7.13" height="6.62" fill="#181304"/><rect x="88.83" y="50.58" width="7.13" height="6.62" fill="#655109"/><rect x="95.67" y="50.58" width="7.13" height="6.62" fill="#645109"/><rect x="102.50" y="50.58" width="7.13" height="6.62" fill="#c5dd19"/><rect x="109.33" y="50.58" width="7.13" height="6.62" fill="#267b0b"/><rect x="116.17" y="50.58" width="7.13" height="6.62" fill="#bca512"/><rect x="123.00" y="50.58" width="7.13" height="6.62" fill="#267b0b"/><rect x="129.83" y="50.58" width="13.97" height="6.62" fill="#14e10e"/><rect x="143.50" y="50.58" width="7.13" height="6.62" fill="#c5dd19"/><rect x="150.33" y="50.58" width="7.13" height="6.62" fill="#b1a512"/><rect x="157.17" y="50.58" width="7.13" height="6.62" fill="#c5dd19"/><rect x="164.00" y="50.58" width="7.13" height="6.62" fill="#181304"/><rect x="170.83" y="50.58" width="7.13" height="6.62" fill="#267b0b"/><rect x="177.67" y="50.58" width="7.13" height="6.62" fill="#575109"/><rect x="184.50" y="50.58" width="7.13" height="6.62" fill="#267b0b"/><rect x="191.33" y="50.58" width="7.13" height="6.62" fill="#c5dd19"/><rect x="198.17" y="50.58" width="13.97" height="6.62" fill="#a2a512"/><rect x="-6.83" y="56.90" width="20.80" height="6.62" fill="#b5600a"/><rect x="13.67" y="56.90" width="7.13" height="6.62" fill="#181304"/><rect x="20.50" y="56.90" width="27.63" height="6.62" fill="#ff9812"/><rect x="47.83" y="56.90" width="7.13" height="6.62" fill="#d2a512"/><rect x="54.67" y="56.90" width="7.13" height="6.62" fill="#ff9812"/><rect x="61.50" y="56.90" width="7.13" height="6.62" fill="#c5dd19"/><rect x="68.33" y="56.90" width="7.13" height="6.62" fill="#cba512"/><rect x="75.17" y="56.90" width="7.13" height="6.62" fill="#14e10e"/><rect x="82.00" y="56.90" width="7.13" height="6.62" fill="#267b0b"/><rect x="88.83" y="56.90" width="7.13" height="6.62" fill="#144607"/><rect x="95.67" y="56.90" width="7.13" height="6.62" fill="#645109"/><rect x="102.50" y="56.90" width="7.13" height="6.62" fill="#c5dd19"/><rect x="109.33" y="56.90" width="7.13" height="6.62" fill="#267b0b"/><rect x="116.17" y="56.90" width="7.13" height="6.62" fill="#bca512"/><rect x="123.00" y="56.90" width="7.13" height="6.62" fill="#baa512"/><rect x="129.83" y="56.90" width="7.13" height="6.62" fill="#267b0b"/><rect x="136.67" y="56.90" width="7.13" height="6.62" fill="#b6a512"/><rect x="143.50" y="56.90" width="7.13" height="6.62" fill="#b3a512"/><rect x="150.33" y="56.90" width="7.13" height="6.62" fill="#c5dd19"/><rect x="157.17" y="56.90" width="13.97" height="6.62" fill="#14e10e"/><rect x="170.83" y="56.90" width="7.13" height="6.62" fill="#c5dd19"/><rect x="177.67" y="56.90" width="7.13" height="6.62" fill="#14e10e"/><rect x="184.50" y="56.90" width="7.13" height="6.62" fill="#181304"/><rect x="191.33" y="56.90" width="20.80" height="6.62" fill="#267b0b"/><rect x="-6.83" y="63.22" width="13.97" height="6.62" fill="#b5600a"/><rect x="6.83" y="63.22" width="7.13" height="6.62" fill="#ff9812"/><rect x="13.67" y="63.22" width="7.13" height="6.62" fill="#dca512"/><rect x="20.50" y="63.22" width="7.13" height="6.62" fill="#705109"/><rect x="27.33" y="63.22" width="7.13" height="6.62" fill="#267b0b"/><rect x="34.17" y="63.22" width="20.80" height="6.62" fill="#b5600a"/><rect x="54.67" y="63.22" width="7.13" height="6.62" fill="#fee61f"/><rect x="61.50" y="63.22" width="7.13" height="6.62" fill="#14e10e"/><rect x="68.33" y="63.22" width="7.13" height="6.62" fill="#267b0b"/><rect x="75.17" y="63.22" width="7.13" height="6.62" fill="#f6e61f"/><rect x="82.00" y="63.22" width="7.13" height="6.62" fill="#267b0b"/><rect x="88.83" y="63.22" width="7.13" height="6.62" fill="#14e10e"/><rect x="95.67" y="63.22" width="13.97" height="6.62" fill="#267b0b"/><rect x="109.33" y="63.22" width="7.13" height="6.62" fill="#bea512"/><rect x="116.17" y="63.22" width="7.13" height="6.62" fill="#c5dd19"/><rect x="123.00" y="63.22" width="20.80" height="6.62" fill="#267b0b"/><rect x="143.50" y="63.22" width="7.13" height="6.62" fill="#5c5109"/><rect x="150.33" y="63.22" width="7.13" height="6.62" fill="#d9e61f"/><rect x="157.17" y="63.22" width="13.97" height="6.62" fill="#c5dd19"/><rect x="170.83" y="63.22" width="7.13" height="6.62" fill="#aba512"/><rect x="177.67" y="63.22" width="13.97" height="6.62" fill="#267b0b"/><rect x="191.33" y="63.22" width="7.13" height="6.62" fill="#555109"/><rect x="198.17" y="63.22" width="13.97" height="6.62" fill="#267b0b"/><rect x="-6.83" y="69.54" width="13.97" height="6.62" fill="#f64a11"/><rect x="6.83" y="69.54" width="7.13" height="6.62" fill="#ff9812"/><rect x="13.67" y="69.54" width="7.13" height="6.62" fill="#ffe61f"/><rect x="20.50" y="69.54" width="7.13" height="6.62" fill="#daa512"/><rect x="27.33" y="69.54" width="7.13" height="6.62" fill="#b5600a"/><rect x="34.17" y="69.54" width="7.13" height="6.62" fill="#ff9812"/><rect x="41.00" y="69.54" width="7.13" height="6.62" fill="#c5dd19"/><rect x="47.83" y="69.54" width="7.13" height="6.62" fill="#181304"/><rect x="54.67" y="69.54" width="7.13" height="6.62" fill="#6b5109"/><rect x="61.50" y="69.54" width="7.13" height="6.62" fill="#14e10e"/><rect x="68.33" y="69.54" width="7.13" height="6.62" fill="#144607"/><rect x="75.17" y="69.54" width="7.13" height="6.62" fill="#c9a512"/><rect x="82.00" y="69.54" width="7.13" height="6.62" fill="#267b0b"/><rect x="88.83" y="69.54" width="13.97" height="6.62" fill="#14e10e"/><rect x="102.50" y="69.54" width="7.13" height="6.62" fill="#144607"/><rect x="109.33" y="69.54" width="7.13" height="6.62" fill="#bea512"/><rect x="116.17" y="69.54" width="7.13" height="6.62" fill="#14e10e"/><rect x="123.00" y="69.54" width="13.97" height="6.62" fill="#267b0b"/><rect x="136.67" y="69.54" width="7.13" height="6.62" fill="#14e10e"/><rect x="143.50" y="69.54" width="7.13" height="6.62" fill="#267b0b"/><rect x="150.33" y="69.54" width="7.13" height="6.62" fill="#5b5109"/><rect x="157.17" y="69.54" width="7.13" height="6.62" fill="#afa512"/><rect x="164.00" y="69.54" width="7.13" height="6.62" fill="#267b0b"/><rect x="170.83" y="69.54" width="7.13" height="6.62" fill="#14e10e"/><rect x="177.67" y="69.54" width="7.13" height="6.62" fill="#267b0b"/><rect x="184.50" y="69.54" width="7.13" height="6.62" fill="#144607"/><rect x="191.33" y="69.54" width="20.80" height="6.62" fill="#267b0b"/><rect x="-6.83" y="75.87" width="13.97" height="6.62" fill="#9a2807"/><rect x="6.83" y="75.87" width="13.97" height="6.62" fill="#f64a11"/><rect x="20.50" y="75.87" width="13.97" height="6.62" fill="#ff9812"/><rect x="34.17" y="75.87" width="7.13" height="6.62" fill="#d6a512"/><rect x="41.00" y="75.87" width="7.13" height="6.62" fill="#6d5109"/><rect x="47.83" y="75.87" width="7.13" height="6.62" fill="#ffe61f"/><rect x="54.67" y="75.87" width="7.13" height="6.62" fill="#267b0b"/><rect x="61.50" y="75.87" width="7.13" height="6.62" fill="#cda512"/><rect x="68.33" y="75.87" width="7.13" height="6.62" fill="#cba512"/><rect x="75.17" y="75.87" width="7.13" height="6.62" fill="#c9a512"/><rect x="82.00" y="75.87" width="7.13" height="6.62" fill="#267b0b"/><rect x="88.83" y="75.87" width="13.97" height="6.62" fill="#14e10e"/><rect x="102.50" y="75.87" width="13.97" height="6.62" fill="#267b0b"/><rect x="116.17" y="75.87" width="7.13" height="6.62" fill="#bca512"/><rect x="123.00" y="75.87" width="7.13" height="6.62" fill="#baa512"/><rect x="129.83" y="75.87" width="7.13" height="6.62" fill="#14e10e"/><rect x="136.67" y="75.87" width="7.13" height="6.62" fill="#267b0b"/><rect x="143.50" y="75.87" width="7.13" height="6.62" fill="#181304"/><rect x="150.33" y="75.87" width="7.13" height="6.62" fill="#b1a512"/><rect x="157.17" y="75.87" width="7.13" height="6.62" fill="#d7e61f"/><rect x="164.00" y="75.87" width="7.13" height="6.62" fill="#ada512"/><rect x="170.83" y="75.87" width="7.13" height="6.62" fill="#c5dd19"/><rect x="177.67" y="75.87" width="7.13" height="6.62" fill="#14e10e"/><rect x="184.50" y="75.87" width="7.13" height="6.62" fill="#144607"/><rect x="191.33" y="75.87" width="20.80" height="6.62" fill="#267b0b"/><rect x="-6.83" y="82.19" width="13.97" height="6.62" fill="#b5600a"/><rect x="6.83" y="82.19" width="7.13" height="6.62" fill="#181304"/><rect x="13.67" y="82.19" width="7.13" height="6.62" fill="#9a2807"/><rect x="20.50" y="82.19" width="7.13" height="6.62" fill="#f64a11"/><rect x="27.33" y="82.19" width="13.97" height="6.62" fill="#ff9812"/><rect x="41.00" y="82.19" width="7.13" height="6.62" fill="#b5600a"/><rect x="47.83" y="82.19" width="7.13" height="6.62" fill="#ff9812"/><rect x="54.67" y="82.19" width="7.13" height="6.62" fill="#14e10e"/><rect x="61.50" y="82.19" width="7.13" height="6.62" fill="#6a5109"/><rect x="68.33" y="82.19" width="7.13" height="6.62" fill="#cba512"/><rect x="75.17" y="82.19" width="7.13" height="6.62" fill="#c9a512"/><rect x="82.00" y="82.19" width="7.13" height="6.62" fill="#c5dd19"/><rect x="88.83" y="82.19" width="7.13" height="6.62" fill="#14e10e"/><rect x="95.67" y="82.19" width="7.13" height="6.62" fill="#267b0b"/><rect x="102.50" y="82.19" width="7.13" height="6.62" fill="#14e10e"/><rect x="109.33" y="82.19" width="7.13" height="6.62" fill="#267b0b"/><rect x="116.17" y="82.19" width="7.13" height="6.62" fill="#144607"/><rect x="123.00" y="82.19" width="7.13" height="6.62" fill="#267b0b"/><rect x="129.83" y="82.19" width="7.13" height="6.62" fill="#14e10e"/><rect x="136.67" y="82.19" width="7.13" height="6.62" fill="#267b0b"/><rect x="143.50" y="82.19" width="7.13" height="6.62" fill="#14e10e"/><rect x="150.33" y="82.19" width="7.13" height="6.62" fill="#181304"/><rect x="157.17" y="82.19" width="7.13" height="6.62" fill="#5a5109"/><rect x="164.00" y="82.19" width="7.13" height="6.62" fill="#595109"/><rect x="170.83" y="82.19" width="7.13" height="6.62" fill="#aba512"/><rect x="177.67" y="82.19" width="7.13" height="6.62" fill="#14e10e"/><rect x="184.50" y="82.19" width="7.13" height="6.62" fill="#144607"/><rect x="191.33" y="82.19" width="20.80" height="6.62" fill="#14e10e"/><rect x="-6.83" y="88.51" width="20.80" height="6.62" fill="#ff9812"/><rect x="13.67" y="88.51" width="13.97" height="6.62" fill="#181304"/><rect x="27.33" y="88.51" width="7.13" height="6.62" fill="#b5600a"/><rect x="34.17" y="88.51" width="7.13" height="6.62" fill="#f64a11"/><rect x="41.00" y="88.51" width="7.13" height="6.62" fill="#b5600a"/><rect x="47.83" y="88.51" width="7.13" height="6.62" fill="#d2a512"/><rect x="54.67" y="88.51" width="7.13" height="6.62" fill="#14e10e"/><rect x="61.50" y="88.51" width="7.13" height="6.62" fill="#6a5109"/><rect x="68.33" y="88.51" width="7.13" height="6.62" fill="#cba512"/><rect x="75.17" y="88.51" width="7.13" height="6.62" fill="#675109"/><rect x="82.00" y="88.51" width="7.13" height="6.62" fill="#267b0b"/><rect x="88.83" y="88.51" width="34.47" height="6.62" fill="#14e10e"/><rect x="123.00" y="88.51" width="7.13" height="6.62" fill="#267b0b"/><rect x="129.83" y="88.51" width="7.13" height="6.62" fill="#14e10e"/><rect x="136.67" y="88.51" width="7.13" height="6.62" fill="#b6a512"/><rect x="143.50" y="88.51" width="7.13" height="6.62" fill="#267b0b"/><rect x="150.33" y="88.51" width="7.13" height="6.62" fill="#14e10e"/><rect x="157.17" y="88.51" width="13.97" height="6.62" fill="#267b0b"/><rect x="170.83" y="88.51" width="7.13" height="6.62" fill="#585109"/><rect x="177.67" y="88.51" width="7.13" height="6.62" fill="#144607"/><rect x="184.50" y="88.51" width="7.13" height="6.62" fill="#267b0b"/><rect x="191.33" y="88.51" width="7.13" height="6.62" fill="#14e10e"/><rect x="198.17" y="88.51" width="13.97" height="6.62" fill="#267b0b"/><rect x="-6.83" y="94.83" width="13.97" height="6.62" fill="#b5600a"/><rect x="6.83" y="94.83" width="13.97" height="6.62" fill="#ff9812"/><rect x="20.50" y="94.83" width="7.13" height="6.62" fill="#ffe61f"/><rect x="27.33" y="94.83" width="7.13" height="6.62" fill="#181304"/><rect x="34.17" y="94.83" width="7.13" height="6.62" fill="#b5600a"/><rect x="41.00" y="94.83" width="7.13" height="6.62" fill="#181304"/><rect x="47.83" y="94.83" width="7.13" height="6.62" fill="#b5600a"/><rect x="54.67" y="94.83" width="7.13" height="6.62" fill="#267b0b"/><rect x="61.50" y="94.83" width="7.13" height="6.62" fill="#6a5109"/><rect x="68.33" y="94.83" width="7.13" height="6.62" fill="#cba512"/><rect x="75.17" y="94.83" width="7.13" height="6.62" fill="#675109"/><rect x="82.00" y="94.83" width="7.13" height="6.62" fill="#267b0b"/><rect x="88.83" y="94.83" width="20.80" height="6.62" fill="#14e10e"/><rect x="109.33" y="94.83" width="7.13" height="6.62" fill="#267b0b"/><rect x="116.17" y="94.83" width="7.13" height="6.62" fill="#14e10e"/><rect x="123.00" y="94.83" width="7.13" height="6.62" fill="#267b0b"/><rect x="129.83" y="94.83" width="7.13" height="6.62" fill="#b8a512"/><rect x="136.67" y="94.83" width="7.13" height="6.62" fill="#c5dd19"/><rect x="143.50" y="94.83" width="7.13" height="6.62" fill="#b3a512"/><rect x="150.33" y="94.83" width="7.13" height="6.62" fill="#c5dd19"/><rect x="157.17" y="94.83" width="7.13" height="6.62" fill="#267b0b"/><rect x="164.00" y="94.83" width="7.13" height="6.62" fill="#181304"/><rect x="170.83" y="94.83" width="20.80" height="6.62" fill="#267b0b"/><rect x="191.33" y="94.83" width="7.13" height="6.62" fill="#14e10e"/><rect x="198.17" y="94.83" width="13.97" height="6.62" fill="#267b0b"/><rect x="-6.83" y="101.16" width="20.80" height="6.62" fill="#b5600a"/><rect x="13.67" y="101.16" width="7.13" height="6.62" fill="#dca512"/><rect x="20.50" y="101.16" width="7.13" height="6.62" fill="#ff9812"/><rect x="27.33" y="101.16" width="7.13" height="6.62" fill="#d8a512"/><rect x="34.17" y="101.16" width="7.13" height="6.62" fill="#d6a512"/><rect x="41.00" y="101.16" width="7.13" height="6.62" fill="#6d5109"/><rect x="47.83" y="101.16" width="7.13" height="6.62" fill="#d2a512"/><rect x="54.67" y="101.16" width="7.13" height="6.62" fill="#14e10e"/><rect x="61.50" y="101.16" width="7.13" height="6.62" fill="#cda512"/><rect x="68.33" y="101.16" width="7.13" height="6.62" fill="#cba512"/><rect x="75.17" y="101.16" width="7.13" height="6.62" fill="#c9a512"/><rect x="82.00" y="101.16" width="7.13" height="6.62" fill="#c5dd19"/><rect x="88.83" y="101.16" width="7.13" height="6.62" fill="#14e10e"/><rect x="95.67" y="101.16" width="7.13" height="6.62" fill="#267b0b"/><rect x="102.50" y="101.16" width="7.13" height="6.62" fill="#c5dd19"/><rect x="109.33" y="101.16" width="7.13" height="6.62" fill="#144607"/><rect x="116.17" y="101.16" width="7.13" height="6.62" fill="#c5dd19"/><rect x="123.00" y="101.16" width="7.13" height="6.62" fill="#baa512"/><rect x="129.83" y="101.16" width="7.13" height="6.62" fill="#b8a512"/><rect x="136.67" y="101.16" width="7.13" height="6.62" fill="#dfe61f"/><rect x="143.50" y="101.16" width="13.97" height="6.62" fill="#267b0b"/><rect x="157.17" y="101.16" width="7.13" height="6.62" fill="#14e10e"/><rect x="164.00" y="101.16" width="7.13" height="6.62" fill="#267b0b"/><rect x="170.83" y="101.16" width="7.13" height="6.62" fill="#14e10e"/><rect x="177.67" y="101.16" width="7.13" height="6.62" fill="#144607"/><rect x="184.50" y="101.16" width="13.97" height="6.62" fill="#267b0b"/><rect x="198.17" y="101.16" width="13.97" height="6.62" fill="#14e10e"/><rect x="-6.83" y="107.48" width="13.97" height="6.62" fill="#ff9812"/><rect x="6.83" y="107.48" width="7.13" height="6.62" fill="#b5600a"/><rect x="13.67" y="107.48" width="13.97" height="6.62" fill="#f64a11"/><rect x="27.33" y="107.48" width="13.97" height="6.62" fill="#ff9812"/><rect x="41.00" y="107.48" width="7.13" height="6.62" fill="#b5600a"/><rect x="47.83" y="107.48" width="7.13" height="6.62" fill="#ff9812"/><rect x="54.67" y="107.48" width="7.13" height="6.62" fill="#c5dd19"/><rect x="61.50" y="107.48" width="7.13" height="6.62" fill="#cda512"/><rect x="68.33" y="107.48" width="7.13" height="6.62" fill="#c5dd19"/><rect x="75.17" y="107.48" width="7.13" height="6.62" fill="#675109"/><rect x="82.00" y="107.48" width="7.13" height="6.62" fill="#14e10e"/><rect x="88.83" y="107.48" width="7.13" height="6.62" fill="#267b0b"/><rect x="95.67" y="107.48" width="13.97" height="6.62" fill="#c5dd19"/><rect x="109.33" y="107.48" width="7.13" height="6.62" fill="#267b0b"/><rect x="116.17" y="107.48" width="7.13" height="6.62" fill="#615109"/><rect x="123.00" y="107.48" width="7.13" height="6.62" fill="#baa512"/><rect x="129.83" y="107.48" width="7.13" height="6.62" fill="#5f5109"/><rect x="136.67" y="107.48" width="7.13" height="6.62" fill="#144607"/><rect x="143.50" y="107.48" width="7.13" height="6.62" fill="#14e10e"/><rect x="150.33" y="107.48" width="7.13" height="6.62" fill="#c5dd19"/><rect x="157.17" y="107.48" width="7.13" height="6.62" fill="#267b0b"/><rect x="164.00" y="107.48" width="7.13" height="6.62" fill="#c5dd19"/><rect x="170.83" y="107.48" width="7.13" height="6.62" fill="#14e10e"/><rect x="177.67" y="107.48" width="7.13" height="6.62" fill="#267b0b"/><rect x="184.50" y="107.48" width="7.13" height="6.62" fill="#c5dd19"/><rect x="191.33" y="107.48" width="7.13" height="6.62" fill="#267b0b"/><rect x="198.17" y="107.48" width="13.97" height="6.62" fill="#c5dd19"/><rect x="-6.83" y="113.80" width="13.97" height="6.62" fill="#b5600a"/><rect x="6.83" y="113.80" width="7.13" height="6.62" fill="#181304"/><rect x="13.67" y="113.80" width="7.13" height="6.62" fill="#9a2807"/><rect x="20.50" y="113.80" width="13.97" height="6.62" fill="#f64a11"/><rect x="34.17" y="113.80" width="7.13" height="6.62" fill="#ff9812"/><rect x="41.00" y="113.80" width="7.13" height="6.62" fill="#b5600a"/><rect x="47.83" y="113.80" width="7.13" height="6.62" fill="#181304"/><rect x="54.67" y="113.80" width="7.13" height="6.62" fill="#c5dd19"/><rect x="61.50" y="113.80" width="7.13" height="6.62" fill="#6a5109"/><rect x="68.33" y="113.80" width="7.13" height="6.62" fill="#cba512"/><rect x="75.17" y="113.80" width="7.13" height="6.62" fill="#c9a512"/><rect x="82.00" y="113.80" width="7.13" height="6.62" fill="#267b0b"/><rect x="88.83" y="113.80" width="7.13" height="6.62" fill="#c5a512"/><rect x="95.67" y="113.80" width="7.13" height="6.62" fill="#c5dd19"/><rect x="102.50" y="113.80" width="7.13" height="6.62" fill="#14e10e"/><rect x="109.33" y="113.80" width="20.80" height="6.62" fill="#267b0b"/><rect x="129.83" y="113.80" width="7.13" height="6.62" fill="#b8a512"/><rect x="136.67" y="113.80" width="7.13" height="6.62" fill="#c5dd19"/><rect x="143.50" y="113.80" width="7.13" height="6.62" fill="#181304"/><rect x="150.33" y="113.80" width="7.13" height="6.62" fill="#d9e61f"/><rect x="157.17" y="113.80" width="7.13" height="6.62" fill="#afa512"/><rect x="164.00" y="113.80" width="7.13" height="6.62" fill="#ada512"/><rect x="170.83" y="113.80" width="7.13" height="6.62" fill="#267b0b"/><rect x="177.67" y="113.80" width="7.13" height="6.62" fill="#cfe61f"/><rect x="184.50" y="113.80" width="7.13" height="6.62" fill="#a7a512"/><rect x="191.33" y="113.80" width="7.13" height="6.62" fill="#a4a512"/><rect x="198.17" y="113.80" width="13.97" height="6.62" fill="#c7e61f"/><rect x="-6.83" y="120.12" width="13.97" height="6.62" fill="#ff9812"/><rect x="6.83" y="120.12" width="7.13" height="6.62" fill="#b5600a"/><rect x="13.67" y="120.12" width="7.13" height="6.62" fill="#181304"/><rect x="20.50" y="120.12" width="13.97" height="6.62" fill="#9a2807"/><rect x="34.17" y="120.12" width="7.13" height="6.62" fill="#f64a11"/><rect x="41.00" y="120.12" width="7.13" height="6.62" fill="#ff9812"/><rect x="47.83" y="120.12" width="7.13" height="6.62" fill="#d2a512"/><rect x="54.67" y="120.12" width="7.13" height="6.62" fill="#c5dd19"/><rect x="61.50" y="120.12" width="7.13" height="6.62" fill="#cda512"/><rect x="68.33" y="120.12" width="7.13" height="6.62" fill="#c5dd19"/><rect x="75.17" y="120.12" width="13.97" height="6.62" fill="#267b0b"/><rect x="88.83" y="120.12" width="7.13" height="6.62" fill="#c5a512"/><rect x="95.67" y="120.12" width="7.13" height="6.62" fill="#c3a512"/><rect x="102.50" y="120.12" width="7.13" height="6.62" fill="#267b0b"/><rect x="109.33" y="120.12" width="7.13" height="6.62" fill="#c5dd19"/><rect x="116.17" y="120.12" width="7.13" height="6.62" fill="#267b0b"/><rect x="123.00" y="120.12" width="7.13" height="6.62" fill="#605109"/><rect x="129.83" y="120.12" width="7.13" height="6.62" fill="#b8a512"/><rect x="136.67" y="120.12" width="7.13" height="6.62" fill="#c5dd19"/><rect x="143.50" y="120.12" width="7.13" height="6.62" fill="#267b0b"/><rect x="150.33" y="120.12" width="7.13" height="6.62" fill="#b1a512"/><rect x="157.17" y="120.12" width="7.13" height="6.62" fill="#d7e61f"/><rect x="164.00" y="120.12" width="7.13" height="6.62" fill="#ada512"/><rect x="170.83" y="120.12" width="7.13" height="6.62" fill="#585109"/><rect x="177.67" y="120.12" width="7.13" height="6.62" fill="#a9a512"/><rect x="184.50" y="120.12" width="7.13" height="6.62" fill="#565109"/><rect x="191.33" y="120.12" width="7.13" height="6.62" fill="#a4a512"/><rect x="198.17" y="120.12" width="13.97" height="6.62" fill="#267b0b"/><rect x="-6.83" y="126.44" width="13.97" height="6.62" fill="#b5600a"/><rect x="6.83" y="126.44" width="7.13" height="6.62" fill="#ff9812"/><rect x="13.67" y="126.44" width="7.13" height="6.62" fill="#181304"/><rect x="20.50" y="126.44" width="13.97" height="6.62" fill="#b5600a"/><rect x="34.17" y="126.44" width="7.13" height="6.62" fill="#9a2807"/><rect x="41.00" y="126.44" width="7.13" height="6.62" fill="#f64a11"/><rect x="47.83" y="126.44" width="7.13" height="6.62" fill="#b5600a"/><rect x="54.67" y="126.44" width="7.13" height="6.62" fill="#ff9812"/><rect x="61.50" y="126.44" width="7.13" height="6.62" fill="#6a5109"/><rect x="68.33" y="126.44" width="7.13" height="6.62" fill="#14e10e"/><rect x="75.17" y="126.44" width="7.13" height="6.62" fill="#267b0b"/><rect x="82.00" y="126.44" width="7.13" height="6.62" fill="#c7a512"/><rect x="88.83" y="126.44" width="7.13" height="6.62" fill="#c5a512"/><rect x="95.67" y="126.44" width="7.13" height="6.62" fill="#c5dd19"/><rect x="102.50" y="126.44" width="7.13" height="6.62" fill="#14e10e"/><rect x="109.33" y="126.44" width="7.13" height="6.62" fill="#c5dd19"/><rect x="116.17" y="126.44" width="7.13" height="6.62" fill="#267b0b"/><rect x="123.00" y="126.44" width="7.13" height="6.62" fill="#c5dd19"/><rect x="129.83" y="126.44" width="7.13" height="6.62" fill="#5f5109"/><rect x="136.67" y="126.44" width="7.13" height="6.62" fill="#dfe61f"/><rect x="143.50" y="126.44" width="7.13" height="6.62" fill="#267b0b"/><rect x="150.33" y="126.44" width="7.13" height="6.62" fill="#c5dd19"/><rect x="157.17" y="126.44" width="7.13" height="6.62" fill="#afa512"/><rect x="164.00" y="126.44" width="7.13" height="6.62" fill="#595109"/><rect x="170.83" y="126.44" width="7.13" height="6.62" fill="#14e10e"/><rect x="177.67" y="126.44" width="7.13" height="6.62" fill="#c5dd19"/><rect x="184.50" y="126.44" width="7.13" height="6.62" fill="#a7a512"/><rect x="191.33" y="126.44" width="7.13" height="6.62" fill="#c5dd19"/><rect x="198.17" y="126.44" width="13.97" height="6.62" fill="#14e10e"/><rect x="-6.83" y="132.77" width="13.97" height="6.62" fill="#e1a512"/><rect x="6.83" y="132.77" width="7.13" height="6.62" fill="#267b0b"/><rect x="13.67" y="132.77" width="7.13" height="6.62" fill="#b5600a"/><rect x="20.50" y="132.77" width="13.97" height="6.62" fill="#ff9812"/><rect x="34.17" y="132.77" width="7.13" height="6.62" fill="#b5600a"/><rect x="41.00" y="132.77" width="7.13" height="6.62" fill="#181304"/><rect x="47.83" y="132.77" width="7.13" height="6.62" fill="#6c5109"/><rect x="54.67" y="132.77" width="7.13" height="6.62" fill="#b5600a"/><rect x="61.50" y="132.77" width="7.13" height="6.62" fill="#cda512"/><rect x="68.33" y="132.77" width="7.13" height="6.62" fill="#c5dd19"/><rect x="75.17" y="132.77" width="7.13" height="6.62" fill="#181304"/><rect x="82.00" y="132.77" width="7.13" height="6.62" fill="#c7a512"/><rect x="88.83" y="132.77" width="7.13" height="6.62" fill="#c5a512"/><rect x="95.67" y="132.77" width="7.13" height="6.62" fill="#c3a512"/><rect x="102.50" y="132.77" width="7.13" height="6.62" fill="#267b0b"/><rect x="109.33" y="132.77" width="7.13" height="6.62" fill="#c5dd19"/><rect x="116.17" y="132.77" width="7.13" height="6.62" fill="#bca512"/><rect x="123.00" y="132.77" width="7.13" height="6.62" fill="#baa512"/><rect x="129.83" y="132.77" width="7.13" height="6.62" fill="#b8a512"/><rect x="136.67" y="132.77" width="7.13" height="6.62" fill="#b6a512"/><rect x="143.50" y="132.77" width="7.13" height="6.62" fill="#5c5109"/><rect x="150.33" y="132.77" width="7.13" height="6.62" fill="#b1a512"/><rect x="157.17" y="132.77" width="7.13" height="6.62" fill="#afa512"/><rect x="164.00" y="132.77" width="7.13" height="6.62" fill="#c5dd19"/><rect x="170.83" y="132.77" width="7.13" height="6.62" fill="#14e10e"/><rect x="177.67" y="132.77" width="7.13" height="6.62" fill="#c5dd19"/><rect x="184.50" y="132.77" width="7.13" height="6.62" fill="#565109"/><rect x="191.33" y="132.77" width="7.13" height="6.62" fill="#ff9812"/><rect x="198.17" y="132.77" width="13.97" height="6.62" fill="#c5dd19"/><rect x="-6.83" y="139.09" width="13.97" height="6.62" fill="#ff9812"/><rect x="6.83" y="139.09" width="7.13" height="6.62" fill="#267b0b"/><rect x="13.67" y="139.09" width="7.13" height="6.62" fill="#181304"/><rect x="20.50" y="139.09" width="13.97" height="6.62" fill="#b5600a"/><rect x="34.17" y="139.09" width="7.13" height="6.62" fill="#ff9812"/><rect x="41.00" y="139.09" width="7.13" height="6.62" fill="#6d5109"/><rect x="47.83" y="139.09" width="7.13" height="6.62" fill="#d2a512"/><rect x="54.67" y="139.09" width="7.13" height="6.62" fill="#181304"/><rect x="61.50" y="139.09" width="7.13" height="6.62" fill="#cda512"/><rect x="68.33" y="139.09" width="7.13" height="6.62" fill="#cba512"/><rect x="75.17" y="139.09" width="7.13" height="6.62" fill="#c9a512"/><rect x="82.00" y="139.09" width="7.13" height="6.62" fill="#c5dd19"/><rect x="88.83" y="139.09" width="7.13" height="6.62" fill="#f1e61f"/><rect x="95.67" y="139.09" width="7.13" height="6.62" fill="#c3a512"/><rect x="102.50" y="139.09" width="7.13" height="6.62" fill="#14e10e"/><rect x="109.33" y="139.09" width="7.13" height="6.62" fill="#c5dd19"/><rect x="116.17" y="139.09" width="7.13" height="6.62" fill="#615109"/><rect x="123.00" y="139.09" width="7.13" height="6.62" fill="#baa512"/><rect x="129.83" y="139.09" width="7.13" height="6.62" fill="#e1e61f"/><rect x="136.67" y="139.09" width="7.13" height="6.62" fill="#dfe61f"/><rect x="143.50" y="139.09" width="7.13" height="6.62" fill="#b3a512"/><rect x="150.33" y="139.09" width="7.13" height="6.62" fill="#267b0b"/><rect x="157.17" y="139.09" width="7.13" height="6.62" fill="#181304"/><rect x="164.00" y="139.09" width="7.13" height="6.62" fill="#595109"/><rect x="170.83" y="139.09" width="7.13" height="6.62" fill="#267b0b"/><rect x="177.67" y="139.09" width="7.13" height="6.62" fill="#575109"/><rect x="184.50" y="139.09" width="7.13" height="6.62" fill="#181304"/><rect x="191.33" y="139.09" width="7.13" height="6.62" fill="#a4a512"/><rect x="198.17" y="139.09" width="13.97" height="6.62" fill="#535109"/><rect x="-6.83" y="145.41" width="13.97" height="6.62" fill="#ff9812"/><rect x="6.83" y="145.41" width="7.13" height="6.62" fill="#14e10e"/><rect x="13.67" y="145.41" width="7.13" height="6.62" fill="#181304"/><rect x="20.50" y="145.41" width="20.80" height="6.62" fill="#ff9812"/><rect x="41.00" y="145.41" width="7.13" height="6.62" fill="#181304"/><rect x="47.83" y="145.41" width="7.13" height="6.62" fill="#d2a512"/><rect x="54.67" y="145.41" width="7.13" height="6.62" fill="#267b0b"/><rect x="61.50" y="145.41" width="7.13" height="6.62" fill="#cda512"/><rect x="68.33" y="145.41" width="7.13" height="6.62" fill="#cba512"/><rect x="75.17" y="145.41" width="7.13" height="6.62" fill="#675109"/><rect x="82.00" y="145.41" width="7.13" height="6.62" fill="#c7a512"/><rect x="88.83" y="145.41" width="7.13" height="6.62" fill="#655109"/><rect x="95.67" y="145.41" width="7.13" height="6.62" fill="#c3a512"/><rect x="102.50" y="145.41" width="7.13" height="6.62" fill="#c5dd19"/><rect x="109.33" y="145.41" width="7.13" height="6.62" fill="#bea512"/><rect x="116.17" y="145.41" width="7.13" height="6.62" fill="#615109"/><rect x="123.00" y="145.41" width="7.13" height="6.62" fill="#baa512"/><rect x="129.83" y="145.41" width="7.13" height="6.62" fill="#b8a512"/><rect x="136.67" y="145.41" width="7.13" height="6.62" fill="#b6a512"/><rect x="143.50" y="145.41" width="7.13" height="6.62" fill="#c5dd19"/><rect x="150.33" y="145.41" width="7.13" height="6.62" fill="#14e10e"/><rect x="157.17" y="145.41" width="7.13" height="6.62" fill="#267b0b"/><rect x="164.00" y="145.41" width="7.13" height="6.62" fill="#14e10e"/><rect x="170.83" y="145.41" width="7.13" height="6.62" fill="#267b0b"/><rect x="177.67" y="145.41" width="7.13" height="6.62" fill="#14e10e"/><rect x="184.50" y="145.41" width="7.13" height="6.62" fill="#267b0b"/><rect x="191.33" y="145.41" width="7.13" height="6.62" fill="#a4a512"/><rect x="198.17" y="145.41" width="13.97" height="6.62" fill="#535109"/><rect x="-6.83" y="151.73" width="13.97" height="6.62" fill="#b5600a"/><rect x="6.83" y="151.73" width="7.13" height="6.62" fill="#267b0b"/><rect x="13.67" y="151.73" width="7.13" height="6.62" fill="#181304"/><rect x="20.50" y="151.73" width="7.13" height="6.62" fill="#b5600a"/><rect x="27.33" y="151.73" width="7.13" height="6.62" fill="#c5dd19"/><rect x="34.17" y="151.73" width="7.13" height="6.62" fill="#6e5109"/><rect x="41.00" y="151.73" width="7.13" height="6.62" fill="#267b0b"/><rect x="47.83" y="151.73" width="7.13" height="6.62" fill="#14e10e"/><rect x="54.67" y="151.73" width="7.13" height="6.62" fill="#6b5109"/><rect x="61.50" y="151.73" width="7.13" height="6.62" fill="#cda512"/><rect x="68.33" y="151.73" width="7.13" height="6.62" fill="#685109"/><rect x="75.17" y="151.73" width="7.13" height="6.62" fill="#c9a512"/><rect x="82.00" y="151.73" width="7.13" height="6.62" fill="#c7a512"/><rect x="88.83" y="151.73" width="7.13" height="6.62" fill="#c5a512"/><rect x="95.67" y="151.73" width="7.13" height="6.62" fill="#c3a512"/><rect x="102.50" y="151.73" width="7.13" height="6.62" fill="#c0a512"/><rect x="109.33" y="151.73" width="7.13" height="6.62" fill="#bea512"/><rect x="116.17" y="151.73" width="7.13" height="6.62" fill="#c5dd19"/><rect x="123.00" y="151.73" width="7.13" height="6.62" fill="#181304"/><rect x="129.83" y="151.73" width="7.13" height="6.62" fill="#5f5109"/><rect x="136.67" y="151.73" width="7.13" height="6.62" fill="#267b0b"/><rect x="143.50" y="151.73" width="7.13" height="6.62" fill="#14e10e"/><rect x="150.33" y="151.73" width="7.13" height="6.62" fill="#b1a512"/><rect x="157.17" y="151.73" width="7.13" height="6.62" fill="#afa512"/><rect x="164.00" y="151.73" width="7.13" height="6.62" fill="#ada512"/><rect x="170.83" y="151.73" width="7.13" height="6.62" fill="#c5dd19"/><rect x="177.67" y="151.73" width="7.13" height="6.62" fill="#267b0b"/><rect x="184.50" y="151.73" width="7.13" height="6.62" fill="#14e10e"/><rect x="191.33" y="151.73" width="7.13" height="6.62" fill="#267b0b"/><rect x="198.17" y="151.73" width="13.97" height="6.62" fill="#a2a512"/><rect x="-6.83" y="158.06" width="13.97" height="6.62" fill="#ff9812"/><rect x="6.83" y="158.06" width="7.13" height="6.62" fill="#dea512"/><rect x="13.67" y="158.06" width="7.13" height="6.62" fill="#267b0b"/><rect x="20.50" y="158.06" width="7.13" height="6.62" fill="#181304"/><rect x="27.33" y="158.06" width="13.97" height="6.62" fill="#267b0b"/><rect x="41.00" y="158.06" width="7.13" height="6.62" fill="#d4a512"/><rect x="47.83" y="158.06" width="7.13" height="6.62" fill="#267b0b"/><rect x="54.67" y="158.06" width="7.13" height="6.62" fill="#cfa512"/><rect x="61.50" y="158.06" width="7.13" height="6.62" fill="#6a5109"/><rect x="68.33" y="158.06" width="7.13" height="6.62" fill="#f9e61f"/><rect x="75.17" y="158.06" width="7.13" height="6.62" fill="#c9a512"/><rect x="82.00" y="158.06" width="7.13" height="6.62" fill="#665109"/><rect x="88.83" y="158.06" width="7.13" height="6.62" fill="#b5600a"/><rect x="95.67" y="158.06" width="7.13" height="6.62" fill="#c3a512"/><rect x="102.50" y="158.06" width="7.13" height="6.62" fill="#c0a512"/><rect x="109.33" y="158.06" width="7.13" height="6.62" fill="#bea512"/><rect x="116.17" y="158.06" width="13.97" height="6.62" fill="#c5dd19"/><rect x="129.83" y="158.06" width="7.13" height="6.62" fill="#b8a512"/><rect x="136.67" y="158.06" width="7.13" height="6.62" fill="#14e10e"/><rect x="143.50" y="158.06" width="7.13" height="6.62" fill="#b3a512"/><rect x="150.33" y="158.06" width="7.13" height="6.62" fill="#267b0b"/><rect x="157.17" y="158.06" width="7.13" height="6.62" fill="#afa512"/><rect x="164.00" y="158.06" width="7.13" height="6.62" fill="#ada512"/><rect x="170.83" y="158.06" width="7.13" height="6.62" fill="#ff9812"/><rect x="177.67" y="158.06" width="7.13" height="6.62" fill="#a9a512"/><rect x="184.50" y="158.06" width="7.13" height="6.62" fill="#14e10e"/><rect x="191.33" y="158.06" width="7.13" height="6.62" fill="#267b0b"/><rect x="198.17" y="158.06" width="13.97" height="6.62" fill="#535109"/><rect x="-6.83" y="164.38" width="13.97" height="6.62" fill="#b5600a"/><rect x="6.83" y="164.38" width="7.13" height="6.62" fill="#dea512"/><rect x="13.67" y="164.38" width="7.13" height="6.62" fill="#267b0b"/><rect x="20.50" y="164.38" width="7.13" height="6.62" fill="#14e10e"/><rect x="27.33" y="164.38" width="7.13" height="6.62" fill="#6f5109"/><rect x="34.17" y="164.38" width="7.13" height="6.62" fill="#c5dd19"/><rect x="41.00" y="164.38" width="7.13" height="6.62" fill="#d4a512"/><rect x="47.83" y="164.38" width="7.13" height="6.62" fill="#6c5109"/><rect x="54.67" y="164.38" width="7.13" height="6.62" fill="#cfa512"/><rect x="61.50" y="164.38" width="7.13" height="6.62" fill="#cda512"/><rect x="68.33" y="164.38" width="7.13" height="6.62" fill="#c5dd19"/><rect x="75.17" y="164.38" width="7.13" height="6.62" fill="#675109"/><rect x="82.00" y="164.38" width="7.13" height="6.62" fill="#c7a512"/><rect x="88.83" y="164.38" width="7.13" height="6.62" fill="#c5a512"/><rect x="95.67" y="164.38" width="13.97" height="6.62" fill="#b5600a"/><rect x="109.33" y="164.38" width="7.13" height="6.62" fill="#267b0b"/><rect x="116.17" y="164.38" width="7.13" height="6.62" fill="#c5dd19"/><rect x="123.00" y="164.38" width="7.13" height="6.62" fill="#baa512"/><rect x="129.83" y="164.38" width="7.13" height="6.62" fill="#b8a512"/><rect x="136.67" y="164.38" width="7.13" height="6.62" fill="#267b0b"/><rect x="143.50" y="164.38" width="7.13" height="6.62" fill="#b3a512"/><rect x="150.33" y="164.38" width="7.13" height="6.62" fill="#5b5109"/><rect x="157.17" y="164.38" width="7.13" height="6.62" fill="#afa512"/><rect x="164.00" y="164.38" width="7.13" height="6.62" fill="#ff9812"/><rect x="170.83" y="164.38" width="7.13" height="6.62" fill="#b5600a"/><rect x="177.67" y="164.38" width="7.13" height="6.62" fill="#267b0b"/><rect x="184.50" y="164.38" width="7.13" height="6.62" fill="#14e10e"/><rect x="191.33" y="164.38" width="7.13" height="6.62" fill="#267b0b"/><rect x="198.17" y="164.38" width="13.97" height="6.62" fill="#535109"/><rect x="-6.83" y="170.70" width="13.97" height="6.62" fill="#b5600a"/><rect x="6.83" y="170.70" width="7.13" height="6.62" fill="#dea512"/><rect x="13.67" y="170.70" width="7.13" height="6.62" fill="#267b0b"/><rect x="20.50" y="170.70" width="7.13" height="6.62" fill="#14e10e"/><rect x="27.33" y="170.70" width="7.13" height="6.62" fill="#6f5109"/><rect x="34.17" y="170.70" width="7.13" height="6.62" fill="#c5dd19"/><rect x="41.00" y="170.70" width="7.13" height="6.62" fill="#d4a512"/><rect x="47.83" y="170.70" width="7.13" height="6.62" fill="#6c5109"/><rect x="54.67" y="170.70" width="7.13" height="6.62" fill="#cfa512"/><rect x="61.50" y="170.70" width="7.13" height="6.62" fill="#cda512"/><rect x="68.33" y="170.70" width="7.13" height="6.62" fill="#c5dd19"/><rect x="75.17" y="170.70" width="7.13" height="6.62" fill="#675109"/><rect x="82.00" y="170.70" width="7.13" height="6.62" fill="#c7a512"/><rect x="88.83" y="170.70" width="7.13" height="6.62" fill="#c5a512"/><rect x="95.67" y="170.70" width="13.97" height="6.62" fill="#b5600a"/><rect x="109.33" y="170.70" width="7.13" height="6.62" fill="#267b0b"/><rect x="116.17" y="170.70" width="7.13" height="6.62" fill="#c5dd19"/><rect x="123.00" y="170.70" width="7.13" height="6.62" fill="#baa512"/><rect x="129.83" y="170.70" width="7.13" height="6.62" fill="#b8a512"/><rect x="136.67" y="170.70" width="7.13" height="6.62" fill="#267b0b"/><rect x="143.50" y="170.70" width="7.13" height="6.62" fill="#b3a512"/><rect x="150.33" y="170.70" width="7.13" height="6.62" fill="#5b5109"/><rect x="157.17" y="170.70" width="7.13" height="6.62" fill="#afa512"/><rect x="164.00" y="170.70" width="7.13" height="6.62" fill="#ff9812"/><rect x="170.83" y="170.70" width="7.13" height="6.62" fill="#b5600a"/><rect x="177.67" y="170.70" width="7.13" height="6.62" fill="#267b0b"/><rect x="184.50" y="170.70" width="7.13" height="6.62" fill="#14e10e"/><rect x="191.33" y="170.70" width="7.13" height="6.62" fill="#267b0b"/><rect x="198.17" y="170.70" width="13.97" height="6.62" fill="#535109"/></g><g mask="url(#m2)" style="mix-blend-mode:multiply"><g transform="rotate(35 102.5 85.3)"><rect x="-72.4" y="-89.6" width="349.9" height="349.9" filter="url(#t2)"/></g></g><filter id="lb2" x="-10%" y="-10%" width="120%" height="120%"><feGaussianBlur stdDeviation="0.8"/></filter><g filter="url(#lb2)" fill="none" stroke="#14d40c" stroke-width="2.20" stroke-linejoin="round" stroke-linecap="round" opacity="0.75"><polyline points="0.0,15.5 3.9,16.4 7.6,21.7 8.5,28.7 5.7,35.8 2.8,41.1 0.0,46.4"/><polyline points="7.6,30.5 15.3,31.4 24.8,32.3 32.4,34.9 38.1,41.1 43.8,48.3 49.5,53.5 57.2,57.1 64.8,58.0"/><polyline points="61.0,9.3 66.7,14.6 72.4,19.8 78.1,25.2 80.0,32.3 78.1,41.1 72.4,48.3 66.7,53.5 64.8,58.0"/><polyline points="64.8,58.0 62.9,66.0 61.0,74.8 59.1,81.9 58.2,96.0 54.3,104.9 52.4,113.7 51.1,122.6"/><polyline points="72.4,48.3 80.0,51.8 87.6,57.1 95.3,64.2 104.1,69.5"/><polyline points="89.6,83.6 89.6,94.3 86.7,104.9 82.9,113.7 78.1,124.3 76.3,131.5 79.1,140.3 82.0,151.0 83.9,161.6 84.8,170.7"/><polyline points="0.0,136.8 7.6,140.3 11.4,147.5 15.3,158.0 20.9,166.9 22.9,170.7"/><polyline points="161.9,97.8 150.5,106.6 141.9,112.8 140.0,122.6 141.9,136.8 144.7,147.4 144.7,151.0"/><polyline points="144.7,151.0 158.2,149.2 173.4,147.4 186.7,151.0 205.0,154.5"/><polyline points="100.9,161.6 120.0,158.0 137.2,153.6 144.7,151.0"/><polyline points="109.5,103.1 107.6,119.0 105.7,136.8 103.7,154.5"/><polyline points="205.0,5.7 192.4,12.8 181.0,21.7 175.2,27.0 171.5,34.1"/></g></svg></div><div style="position:absolute;left:303.10px;top:9.30px;width:8.60px;height:192.30px;background:linear-gradient(to bottom,#f00000 0.0%,#ff5000 22.0%,#ff9000 45.0%,#ffd000 58.0%,#ffff00 63.0%,#00f000 76.0%,#00e800 100.0%)"></div><div class="lb" style="right:254.00px;top:13.92px;font-size:4.3px;color:#111">1,050 m</div><div style="position:absolute;left:300.10px;top:16.20px;width:3.00px;height:0.60px;background:#999"></div><div class="lb" style="right:254.00px;top:51.22px;font-size:4.3px;color:#111">1,025 m</div><div style="position:absolute;left:300.10px;top:53.50px;width:3.00px;height:0.60px;background:#999"></div><div class="lb" style="right:254.00px;top:88.92px;font-size:4.3px;color:#111">1,000 m</div><div style="position:absolute;left:300.10px;top:91.20px;width:3.00px;height:0.60px;background:#999"></div><div class="lb" style="right:254.00px;top:126.42px;font-size:4.3px;color:#111">975 m</div><div style="position:absolute;left:300.10px;top:128.70px;width:3.00px;height:0.60px;background:#999"></div><div class="lb" style="right:254.00px;top:163.82px;font-size:4.3px;color:#111">950 m</div><div style="position:absolute;left:300.10px;top:166.10px;width:3.00px;height:0.60px;background:#999"></div><div class="lb" style="right:254.00px;top:199.02px;font-size:4.3px;color:#111">927 m</div><div style="position:absolute;left:300.10px;top:201.30px;width:3.00px;height:0.60px;background:#999"></div><div style="position:absolute;left:314.20px;top:7.00px;width:1.20px;height:199.80px;background:#9a9a9a"></div><div style="position:absolute;left:280.00px;top:205.65px;width:34.80px;height:1.30px;background:#333"></div><div style="position:absolute;left:314.80px;top:205.90px;width:73.70px;height:0.80px;background:#d0d0d0"></div><div style="position:absolute;left:280.00px;top:221.90px;width:109.10px;height:1.20px;background:#8a8a8a"></div><div style="position:absolute;left:387.90px;top:206.30px;width:1.20px;height:16.20px;background:#8a8a8a"></div><div style="position:absolute;left:286.60px;top:210.65px;width:94.08px;height:0.90px;background:#555"></div><div style="position:absolute;left:286.15px;top:208.90px;width:0.90px;height:4.40px;background:#444"></div><div style="position:absolute;left:299.59px;top:208.90px;width:0.90px;height:4.40px;background:#444"></div><div style="position:absolute;left:313.03px;top:208.90px;width:0.90px;height:4.40px;background:#444"></div><div style="position:absolute;left:326.47px;top:208.90px;width:0.90px;height:4.40px;background:#444"></div><div style="position:absolute;left:339.91px;top:208.90px;width:0.90px;height:4.40px;background:#444"></div><div style="position:absolute;left:353.35px;top:208.90px;width:0.90px;height:4.40px;background:#444"></div><div style="position:absolute;left:366.79px;top:208.90px;width:0.90px;height:4.40px;background:#444"></div><div style="position:absolute;left:380.23px;top:208.90px;width:0.90px;height:4.40px;background:#444"></div><div class="lb" style="left:300.34px;top:215.92px;width:40px;margin-left:-20px;text-align:center;font-size:4.3px;color:#111">125 m</div><div class="lb" style="left:327.22px;top:215.92px;width:40px;margin-left:-20px;text-align:center;font-size:4.3px;color:#111">375 m</div><div class="lb" style="left:354.10px;top:215.92px;width:40px;margin-left:-20px;text-align:center;font-size:4.3px;color:#111">625 m</div><div class="lb" style="left:380.98px;top:215.92px;width:40px;margin-left:-20px;text-align:center;font-size:4.3px;color:#111">875 m</div><div class="cap" style="left:409.10px;top:229.10px">(<b>b</b>)</div><div style="position:absolute;left:52.30px;top:269.20px;width:203.80px;height:165.80px;overflow:hidden;isolation:isolate"><svg width="224.18" height="186.53" style="position:absolute;left:-10.19px;top:-10.36px" viewBox="-10.19 -10.36 224.18 186.53"><defs><filter id="b3" x="-10%" y="-10%" width="120%" height="120%" color-interpolation-filters="sRGB"><feGaussianBlur stdDeviation="3.00"/></filter><filter id="t3" x="0" y="0" width="100%" height="100%" color-interpolation-filters="sRGB"><feTurbulence type="fractalNoise" baseFrequency="0.15 0.25" numOctaves="3" seed="13"/><feColorMatrix type="matrix" values="4 0 0 0 -1.4  4 0 0 0 -1.4  4 0 0 0 -1.4  0 0 0 0 1"/></filter><mask id="m3" maskUnits="userSpaceOnUse" x="-10.19" y="-10.36" width="224.18" height="186.53"><g filter="url(#b3)"><rect x="-10.19" y="-10.36" width="224.48" height="10.66" fill="#333333"/><rect x="-10.19" y="0.00" width="224.48" height="10.66" fill="#333333"/><rect x="-10.19" y="10.36" width="224.48" height="10.66" fill="#333333"/><rect x="-10.19" y="20.73" width="224.48" height="10.66" fill="#333333"/><rect x="-10.19" y="31.09" width="224.48" height="10.66" fill="#333333"/><rect x="-10.19" y="41.45" width="224.48" height="10.66" fill="#333333"/><rect x="-10.19" y="51.81" width="224.48" height="10.66" fill="#333333"/><rect x="-10.19" y="62.18" width="224.48" height="10.66" fill="#333333"/><rect x="-10.19" y="72.54" width="224.48" height="10.66" fill="#333333"/><rect x="-10.19" y="82.90" width="224.48" height="10.66" fill="#333333"/><rect x="-10.19" y="93.26" width="224.48" height="10.66" fill="#333333"/><rect x="-10.19" y="103.62" width="224.48" height="10.66" fill="#333333"/><rect x="-10.19" y="113.99" width="224.48" height="10.66" fill="#333333"/><rect x="-10.19" y="124.35" width="224.48" height="10.66" fill="#333333"/><rect x="-10.19" y="134.71" width="224.48" height="10.66" fill="#333333"/><rect x="-10.19" y="145.08" width="224.48" height="10.66" fill="#333333"/><rect x="-10.19" y="155.44" width="224.48" height="10.66" fill="#333333"/><rect x="-10.19" y="165.80" width="224.48" height="10.66" fill="#333333"/></g></mask></defs><g filter="url(#b3)"><rect x="-10.19" y="-10.36" width="20.68" height="10.66" fill="#aea611"/><rect x="10.19" y="-10.36" width="10.49" height="10.66" fill="#80a611"/><rect x="20.38" y="-10.36" width="10.49" height="10.66" fill="#aea611"/><rect x="30.57" y="-10.36" width="10.49" height="10.66" fill="#54ad11"/><rect x="40.76" y="-10.36" width="10.49" height="10.66" fill="#80a611"/><rect x="50.95" y="-10.36" width="41.06" height="10.66" fill="#aea611"/><rect x="91.71" y="-10.36" width="20.68" height="10.66" fill="#80a611"/><rect x="112.09" y="-10.36" width="71.63" height="10.66" fill="#aea611"/><rect x="183.42" y="-10.36" width="10.49" height="10.66" fill="#80a611"/><rect x="193.61" y="-10.36" width="20.68" height="10.66" fill="#aea611"/><rect x="-10.19" y="0.00" width="20.68" height="10.66" fill="#aea611"/><rect x="10.19" y="0.00" width="10.49" height="10.66" fill="#80a611"/><rect x="20.38" y="0.00" width="10.49" height="10.66" fill="#aea611"/><rect x="30.57" y="0.00" width="10.49" height="10.66" fill="#54ad11"/><rect x="40.76" y="0.00" width="10.49" height="10.66" fill="#80a611"/><rect x="50.95" y="0.00" width="41.06" height="10.66" fill="#aea611"/><rect x="91.71" y="0.00" width="20.68" height="10.66" fill="#80a611"/><rect x="112.09" y="0.00" width="71.63" height="10.66" fill="#aea611"/><rect x="183.42" y="0.00" width="10.49" height="10.66" fill="#80a611"/><rect x="193.61" y="0.00" width="20.68" height="10.66" fill="#aea611"/><rect x="-10.19" y="10.36" width="20.68" height="10.66" fill="#54ad11"/><rect x="10.19" y="10.36" width="10.49" height="10.66" fill="#80a611"/><rect x="20.38" y="10.36" width="10.49" height="10.66" fill="#bb8011"/><rect x="30.57" y="10.36" width="10.49" height="10.66" fill="#aea611"/><rect x="40.76" y="10.36" width="10.49" height="10.66" fill="#80a611"/><rect x="50.95" y="10.36" width="10.49" height="10.66" fill="#bb8011"/><rect x="61.14" y="10.36" width="10.49" height="10.66" fill="#aea611"/><rect x="71.33" y="10.36" width="10.49" height="10.66" fill="#80a611"/><rect x="81.52" y="10.36" width="10.49" height="10.66" fill="#aea611"/><rect x="91.71" y="10.36" width="20.68" height="10.66" fill="#80a611"/><rect x="112.09" y="10.36" width="10.49" height="10.66" fill="#aea611"/><rect x="122.28" y="10.36" width="10.49" height="10.66" fill="#80a611"/><rect x="132.47" y="10.36" width="41.06" height="10.66" fill="#aea611"/><rect x="173.23" y="10.36" width="41.06" height="10.66" fill="#80a611"/><rect x="-10.19" y="20.73" width="20.68" height="10.66" fill="#bb8011"/><rect x="10.19" y="20.73" width="10.49" height="10.66" fill="#80a611"/><rect x="20.38" y="20.73" width="10.49" height="10.66" fill="#54ad11"/><rect x="30.57" y="20.73" width="10.49" height="10.66" fill="#aea611"/><rect x="40.76" y="20.73" width="10.49" height="10.66" fill="#bb8011"/><rect x="50.95" y="20.73" width="10.49" height="10.66" fill="#80a611"/><rect x="61.14" y="20.73" width="10.49" height="10.66" fill="#aea611"/><rect x="71.33" y="20.73" width="10.49" height="10.66" fill="#bb8011"/><rect x="81.52" y="20.73" width="20.68" height="10.66" fill="#aea611"/><rect x="101.90" y="20.73" width="20.68" height="10.66" fill="#80a611"/><rect x="122.28" y="20.73" width="10.49" height="10.66" fill="#aea611"/><rect x="132.47" y="20.73" width="10.49" height="10.66" fill="#80a611"/><rect x="142.66" y="20.73" width="30.87" height="10.66" fill="#aea611"/><rect x="173.23" y="20.73" width="41.06" height="10.66" fill="#80a611"/><rect x="-10.19" y="31.09" width="20.68" height="10.66" fill="#54ad11"/><rect x="10.19" y="31.09" width="10.49" height="10.66" fill="#80a611"/><rect x="20.38" y="31.09" width="10.49" height="10.66" fill="#bb8011"/><rect x="30.57" y="31.09" width="10.49" height="10.66" fill="#aea611"/><rect x="40.76" y="31.09" width="10.49" height="10.66" fill="#80a611"/><rect x="50.95" y="31.09" width="10.49" height="10.66" fill="#bb8011"/><rect x="61.14" y="31.09" width="20.68" height="10.66" fill="#aea611"/><rect x="81.52" y="31.09" width="51.25" height="10.66" fill="#80a611"/><rect x="132.47" y="31.09" width="41.06" height="10.66" fill="#aea611"/><rect x="173.23" y="31.09" width="10.49" height="10.66" fill="#80a611"/><rect x="183.42" y="31.09" width="10.49" height="10.66" fill="#aea611"/><rect x="193.61" y="31.09" width="20.68" height="10.66" fill="#80a611"/><rect x="-10.19" y="41.45" width="20.68" height="10.66" fill="#80a611"/><rect x="10.19" y="41.45" width="10.49" height="10.66" fill="#bb8011"/><rect x="20.38" y="41.45" width="10.49" height="10.66" fill="#54ad11"/><rect x="30.57" y="41.45" width="10.49" height="10.66" fill="#80a611"/><rect x="40.76" y="41.45" width="20.68" height="10.66" fill="#bb8011"/><rect x="61.14" y="41.45" width="10.49" height="10.66" fill="#aea611"/><rect x="71.33" y="41.45" width="10.49" height="10.66" fill="#80a611"/><rect x="81.52" y="41.45" width="10.49" height="10.66" fill="#bb8011"/><rect x="91.71" y="41.45" width="10.49" height="10.66" fill="#aea611"/><rect x="101.90" y="41.45" width="10.49" height="10.66" fill="#bb8011"/><rect x="112.09" y="41.45" width="30.87" height="10.66" fill="#80a611"/><rect x="142.66" y="41.45" width="20.68" height="10.66" fill="#aea611"/><rect x="163.04" y="41.45" width="20.68" height="10.66" fill="#80a611"/><rect x="183.42" y="41.45" width="10.49" height="10.66" fill="#aea611"/><rect x="193.61" y="41.45" width="20.68" height="10.66" fill="#80a611"/><rect x="-10.19" y="51.81" width="20.68" height="10.66" fill="#bb8011"/><rect x="10.19" y="51.81" width="10.49" height="10.66" fill="#54ad11"/><rect x="20.38" y="51.81" width="10.49" height="10.66" fill="#bb8011"/><rect x="30.57" y="51.81" width="10.49" height="10.66" fill="#54ad11"/><rect x="40.76" y="51.81" width="10.49" height="10.66" fill="#80a611"/><rect x="50.95" y="51.81" width="20.68" height="10.66" fill="#aea611"/><rect x="71.33" y="51.81" width="10.49" height="10.66" fill="#80a611"/><rect x="81.52" y="51.81" width="10.49" height="10.66" fill="#aea611"/><rect x="91.71" y="51.81" width="10.49" height="10.66" fill="#bb8011"/><rect x="101.90" y="51.81" width="10.49" height="10.66" fill="#80a611"/><rect x="112.09" y="51.81" width="10.49" height="10.66" fill="#bb8011"/><rect x="122.28" y="51.81" width="10.49" height="10.66" fill="#aea611"/><rect x="132.47" y="51.81" width="10.49" height="10.66" fill="#80a611"/><rect x="142.66" y="51.81" width="30.87" height="10.66" fill="#aea611"/><rect x="173.23" y="51.81" width="10.49" height="10.66" fill="#bb8011"/><rect x="183.42" y="51.81" width="10.49" height="10.66" fill="#aea611"/><rect x="193.61" y="51.81" width="20.68" height="10.66" fill="#80a611"/><rect x="-10.19" y="62.18" width="20.68" height="10.66" fill="#54ad11"/><rect x="10.19" y="62.18" width="30.87" height="10.66" fill="#bb8011"/><rect x="40.76" y="62.18" width="10.49" height="10.66" fill="#80a611"/><rect x="50.95" y="62.18" width="30.87" height="10.66" fill="#aea611"/><rect x="81.52" y="62.18" width="10.49" height="10.66" fill="#80a611"/><rect x="91.71" y="62.18" width="10.49" height="10.66" fill="#aea611"/><rect x="101.90" y="62.18" width="10.49" height="10.66" fill="#bb8011"/><rect x="112.09" y="62.18" width="10.49" height="10.66" fill="#80a611"/><rect x="122.28" y="62.18" width="10.49" height="10.66" fill="#bb8011"/><rect x="132.47" y="62.18" width="10.49" height="10.66" fill="#aea611"/><rect x="142.66" y="62.18" width="10.49" height="10.66" fill="#80a611"/><rect x="152.85" y="62.18" width="10.49" height="10.66" fill="#aea611"/><rect x="163.04" y="62.18" width="10.49" height="10.66" fill="#bb8011"/><rect x="173.23" y="62.18" width="10.49" height="10.66" fill="#aea611"/><rect x="183.42" y="62.18" width="30.87" height="10.66" fill="#80a611"/><rect x="-10.19" y="72.54" width="20.68" height="10.66" fill="#80a611"/><rect x="10.19" y="72.54" width="10.49" height="10.66" fill="#54ad11"/><rect x="20.38" y="72.54" width="10.49" height="10.66" fill="#80a611"/><rect x="30.57" y="72.54" width="10.49" height="10.66" fill="#bb8011"/><rect x="40.76" y="72.54" width="10.49" height="10.66" fill="#80a611"/><rect x="50.95" y="72.54" width="10.49" height="10.66" fill="#aea611"/><rect x="61.14" y="72.54" width="10.49" height="10.66" fill="#80a611"/><rect x="71.33" y="72.54" width="10.49" height="10.66" fill="#aea611"/><rect x="81.52" y="72.54" width="10.49" height="10.66" fill="#80a611"/><rect x="91.71" y="72.54" width="10.49" height="10.66" fill="#aea611"/><rect x="101.90" y="72.54" width="10.49" height="10.66" fill="#80a611"/><rect x="112.09" y="72.54" width="20.68" height="10.66" fill="#bb8011"/><rect x="132.47" y="72.54" width="10.49" height="10.66" fill="#80a611"/><rect x="142.66" y="72.54" width="10.49" height="10.66" fill="#aea611"/><rect x="152.85" y="72.54" width="10.49" height="10.66" fill="#80a611"/><rect x="163.04" y="72.54" width="30.87" height="10.66" fill="#aea611"/><rect x="193.61" y="72.54" width="20.68" height="10.66" fill="#80a611"/><rect x="-10.19" y="82.90" width="30.87" height="10.66" fill="#bb8011"/><rect x="20.38" y="82.90" width="10.49" height="10.66" fill="#80a611"/><rect x="30.57" y="82.90" width="10.49" height="10.66" fill="#bb8011"/><rect x="40.76" y="82.90" width="10.49" height="10.66" fill="#80a611"/><rect x="50.95" y="82.90" width="10.49" height="10.66" fill="#bb8011"/><rect x="61.14" y="82.90" width="10.49" height="10.66" fill="#aea611"/><rect x="71.33" y="82.90" width="10.49" height="10.66" fill="#bb8011"/><rect x="81.52" y="82.90" width="30.87" height="10.66" fill="#aea611"/><rect x="112.09" y="82.90" width="10.49" height="10.66" fill="#80a611"/><rect x="122.28" y="82.90" width="10.49" height="10.66" fill="#aea611"/><rect x="132.47" y="82.90" width="10.49" height="10.66" fill="#80a611"/><rect x="142.66" y="82.90" width="10.49" height="10.66" fill="#bb8011"/><rect x="152.85" y="82.90" width="10.49" height="10.66" fill="#aea611"/><rect x="163.04" y="82.90" width="10.49" height="10.66" fill="#bb8011"/><rect x="173.23" y="82.90" width="20.68" height="10.66" fill="#80a611"/><rect x="193.61" y="82.90" width="20.68" height="10.66" fill="#aea611"/><rect x="-10.19" y="93.26" width="20.68" height="10.66" fill="#80a611"/><rect x="10.19" y="93.26" width="10.49" height="10.66" fill="#54ad11"/><rect x="20.38" y="93.26" width="51.25" height="10.66" fill="#80a611"/><rect x="71.33" y="93.26" width="10.49" height="10.66" fill="#bb8011"/><rect x="81.52" y="93.26" width="30.87" height="10.66" fill="#aea611"/><rect x="112.09" y="93.26" width="10.49" height="10.66" fill="#80a611"/><rect x="122.28" y="93.26" width="20.68" height="10.66" fill="#aea611"/><rect x="142.66" y="93.26" width="10.49" height="10.66" fill="#80a611"/><rect x="152.85" y="93.26" width="20.68" height="10.66" fill="#aea611"/><rect x="173.23" y="93.26" width="20.68" height="10.66" fill="#80a611"/><rect x="193.61" y="93.26" width="20.68" height="10.66" fill="#aea611"/><rect x="-10.19" y="103.62" width="20.68" height="10.66" fill="#bb8011"/><rect x="10.19" y="103.62" width="10.49" height="10.66" fill="#80a611"/><rect x="20.38" y="103.62" width="10.49" height="10.66" fill="#bb8011"/><rect x="30.57" y="103.62" width="10.49" height="10.66" fill="#80a611"/><rect x="40.76" y="103.62" width="10.49" height="10.66" fill="#bb8011"/><rect x="50.95" y="103.62" width="10.49" height="10.66" fill="#80a611"/><rect x="61.14" y="103.62" width="20.68" height="10.66" fill="#bb8011"/><rect x="81.52" y="103.62" width="30.87" height="10.66" fill="#aea611"/><rect x="112.09" y="103.62" width="10.49" height="10.66" fill="#80a611"/><rect x="122.28" y="103.62" width="10.49" height="10.66" fill="#aea611"/><rect x="132.47" y="103.62" width="10.49" height="10.66" fill="#80a611"/><rect x="142.66" y="103.62" width="20.68" height="10.66" fill="#aea611"/><rect x="163.04" y="103.62" width="10.49" height="10.66" fill="#bb8011"/><rect x="173.23" y="103.62" width="10.49" height="10.66" fill="#aea611"/><rect x="183.42" y="103.62" width="30.87" height="10.66" fill="#80a611"/><rect x="-10.19" y="113.99" width="30.87" height="10.66" fill="#bb8011"/><rect x="20.38" y="113.99" width="20.68" height="10.66" fill="#80a611"/><rect x="40.76" y="113.99" width="10.49" height="10.66" fill="#bb8011"/><rect x="50.95" y="113.99" width="10.49" height="10.66" fill="#80a611"/><rect x="61.14" y="113.99" width="10.49" height="10.66" fill="#bb8011"/><rect x="71.33" y="113.99" width="41.06" height="10.66" fill="#aea611"/><rect x="112.09" y="113.99" width="10.49" height="10.66" fill="#bb8011"/><rect x="122.28" y="113.99" width="30.87" height="10.66" fill="#aea611"/><rect x="152.85" y="113.99" width="10.49" height="10.66" fill="#bb8011"/><rect x="163.04" y="113.99" width="10.49" height="10.66" fill="#aea611"/><rect x="173.23" y="113.99" width="10.49" height="10.66" fill="#80a611"/><rect x="183.42" y="113.99" width="10.49" height="10.66" fill="#bb8011"/><rect x="193.61" y="113.99" width="20.68" height="10.66" fill="#80a611"/><rect x="-10.19" y="124.35" width="20.68" height="10.66" fill="#80a611"/><rect x="10.19" y="124.35" width="10.49" height="10.66" fill="#54ad11"/><rect x="20.38" y="124.35" width="10.49" height="10.66" fill="#80a611"/><rect x="30.57" y="124.35" width="30.87" height="10.66" fill="#bb8011"/><rect x="61.14" y="124.35" width="20.68" height="10.66" fill="#aea611"/><rect x="81.52" y="124.35" width="10.49" height="10.66" fill="#bb8011"/><rect x="91.71" y="124.35" width="20.68" height="10.66" fill="#aea611"/><rect x="112.09" y="124.35" width="10.49" height="10.66" fill="#80a611"/><rect x="122.28" y="124.35" width="20.68" height="10.66" fill="#aea611"/><rect x="142.66" y="124.35" width="10.49" height="10.66" fill="#80a611"/><rect x="152.85" y="124.35" width="30.87" height="10.66" fill="#aea611"/><rect x="183.42" y="124.35" width="10.49" height="10.66" fill="#80a611"/><rect x="193.61" y="124.35" width="20.68" height="10.66" fill="#aea611"/><rect x="-10.19" y="134.71" width="20.68" height="10.66" fill="#bb8011"/><rect x="10.19" y="134.71" width="51.25" height="10.66" fill="#80a611"/><rect x="61.14" y="134.71" width="10.49" height="10.66" fill="#bb8011"/><rect x="71.33" y="134.71" width="10.49" height="10.66" fill="#aea611"/><rect x="81.52" y="134.71" width="20.68" height="10.66" fill="#bb8011"/><rect x="101.90" y="134.71" width="10.49" height="10.66" fill="#80a611"/><rect x="112.09" y="134.71" width="20.68" height="10.66" fill="#aea611"/><rect x="132.47" y="134.71" width="10.49" height="10.66" fill="#bb8011"/><rect x="142.66" y="134.71" width="20.68" height="10.66" fill="#aea611"/><rect x="163.04" y="134.71" width="20.68" height="10.66" fill="#bb8011"/><rect x="183.42" y="134.71" width="30.87" height="10.66" fill="#80a611"/><rect x="-10.19" y="145.08" width="20.68" height="10.66" fill="#80a611"/><rect x="10.19" y="145.08" width="10.49" height="10.66" fill="#bb8011"/><rect x="20.38" y="145.08" width="10.49" height="10.66" fill="#80a611"/><rect x="30.57" y="145.08" width="10.49" height="10.66" fill="#bb8011"/><rect x="40.76" y="145.08" width="20.68" height="10.66" fill="#80a611"/><rect x="61.14" y="145.08" width="10.49" height="10.66" fill="#aea611"/><rect x="71.33" y="145.08" width="20.68" height="10.66" fill="#bb8011"/><rect x="91.71" y="145.08" width="10.49" height="10.66" fill="#aea611"/><rect x="101.90" y="145.08" width="10.49" height="10.66" fill="#80a611"/><rect x="112.09" y="145.08" width="20.68" height="10.66" fill="#bb8011"/><rect x="132.47" y="145.08" width="20.68" height="10.66" fill="#aea611"/><rect x="152.85" y="145.08" width="30.87" height="10.66" fill="#80a611"/><rect x="183.42" y="145.08" width="10.49" height="10.66" fill="#aea611"/><rect x="193.61" y="145.08" width="20.68" height="10.66" fill="#80a611"/><rect x="-10.19" y="155.44" width="20.68" height="10.66" fill="#bb8011"/><rect x="10.19" y="155.44" width="20.68" height="10.66" fill="#80a611"/><rect x="30.57" y="155.44" width="20.68" height="10.66" fill="#bb8011"/><rect x="50.95" y="155.44" width="10.49" height="10.66" fill="#80a611"/><rect x="61.14" y="155.44" width="20.68" height="10.66" fill="#bb8011"/><rect x="81.52" y="155.44" width="30.87" height="10.66" fill="#aea611"/><rect x="112.09" y="155.44" width="10.49" height="10.66" fill="#80a611"/><rect x="122.28" y="155.44" width="10.49" height="10.66" fill="#aea611"/><rect x="132.47" y="155.44" width="10.49" height="10.66" fill="#80a611"/><rect x="142.66" y="155.44" width="30.87" height="10.66" fill="#aea611"/><rect x="173.23" y="155.44" width="20.68" height="10.66" fill="#bb8011"/><rect x="193.61" y="155.44" width="20.68" height="10.66" fill="#80a611"/><rect x="-10.19" y="165.80" width="20.68" height="10.66" fill="#bb8011"/><rect x="10.19" y="165.80" width="20.68" height="10.66" fill="#80a611"/><rect x="30.57" y="165.80" width="20.68" height="10.66" fill="#bb8011"/><rect x="50.95" y="165.80" width="10.49" height="10.66" fill="#80a611"/><rect x="61.14" y="165.80" width="20.68" height="10.66" fill="#bb8011"/><rect x="81.52" y="165.80" width="30.87" height="10.66" fill="#aea611"/><rect x="112.09" y="165.80" width="10.49" height="10.66" fill="#80a611"/><rect x="122.28" y="165.80" width="10.49" height="10.66" fill="#aea611"/><rect x="132.47" y="165.80" width="10.49" height="10.66" fill="#80a611"/><rect x="142.66" y="165.80" width="30.87" height="10.66" fill="#aea611"/><rect x="173.23" y="165.80" width="20.68" height="10.66" fill="#bb8011"/><rect x="193.61" y="165.80" width="20.68" height="10.66" fill="#80a611"/></g><g mask="url(#m3)" style="mix-blend-mode:multiply"><g transform="rotate(-30 101.9 82.9)"><rect x="-77.4" y="-96.4" width="358.7" height="358.7" filter="url(#t3)"/></g></g></svg></div><svg width="203.80" height="165.80" style="position:absolute;left:52.30px;top:269.20px" viewBox="0 0 203.80 165.80"><defs><filter id="cg" x="0" y="0" width="100%" height="100%" color-interpolation-filters="sRGB"><feTurbulence type="fractalNoise" baseFrequency="0.07 0.12" numOctaves="3" seed="11"/><feColorMatrix type="matrix" values="0 0 0 0 0.16  0 0 0 0 0.68  0 0 0 0 0.05  5 0 0 0 -2.6"/></filter><filter id="co" x="0" y="0" width="100%" height="100%" color-interpolation-filters="sRGB"><feTurbulence type="fractalNoise" baseFrequency="0.07 0.22" numOctaves="3" seed="4"/><feColorMatrix type="matrix" values="0 0 0 0 0.80  0 0 0 0 0.38  0 0 0 0 0.05  -6 0 0 0 2.6"/></filter><filter id="cb" x="-10%" y="-10%" width="120%" height="120%"><feGaussianBlur stdDeviation="3"/></filter><mask id="cgm" maskUnits="userSpaceOnUse" x="-10.2" y="-10.4" width="224.2" height="186.5"><g filter="url(#cb)"><rect x="-10.19" y="-10.36" width="20.68" height="10.66" fill="#3a3a3a"/><rect x="10.19" y="-10.36" width="10.49" height="10.66" fill="#ddd"/><rect x="20.38" y="-10.36" width="10.49" height="10.66" fill="#3a3a3a"/><rect x="30.57" y="-10.36" width="10.49" height="10.66" fill="#fff"/><rect x="40.76" y="-10.36" width="10.49" height="10.66" fill="#ddd"/><rect x="50.95" y="-10.36" width="41.06" height="10.66" fill="#3a3a3a"/><rect x="91.71" y="-10.36" width="20.68" height="10.66" fill="#ddd"/><rect x="112.09" y="-10.36" width="71.63" height="10.66" fill="#3a3a3a"/><rect x="183.42" y="-10.36" width="10.49" height="10.66" fill="#ddd"/><rect x="193.61" y="-10.36" width="20.68" height="10.66" fill="#3a3a3a"/><rect x="-10.19" y="0.00" width="20.68" height="10.66" fill="#3a3a3a"/><rect x="10.19" y="0.00" width="10.49" height="10.66" fill="#ddd"/><rect x="20.38" y="0.00" width="10.49" height="10.66" fill="#3a3a3a"/><rect x="30.57" y="0.00" width="10.49" height="10.66" fill="#fff"/><rect x="40.76" y="0.00" width="10.49" height="10.66" fill="#ddd"/><rect x="50.95" y="0.00" width="41.06" height="10.66" fill="#3a3a3a"/><rect x="91.71" y="0.00" width="20.68" height="10.66" fill="#ddd"/><rect x="112.09" y="0.00" width="71.63" height="10.66" fill="#3a3a3a"/><rect x="183.42" y="0.00" width="10.49" height="10.66" fill="#ddd"/><rect x="193.61" y="0.00" width="20.68" height="10.66" fill="#3a3a3a"/><rect x="-10.19" y="10.36" width="20.68" height="10.66" fill="#fff"/><rect x="10.19" y="10.36" width="10.49" height="10.66" fill="#ddd"/><rect x="20.38" y="10.36" width="10.49" height="10.66" fill="#666"/><rect x="30.57" y="10.36" width="10.49" height="10.66" fill="#3a3a3a"/><rect x="40.76" y="10.36" width="10.49" height="10.66" fill="#ddd"/><rect x="50.95" y="10.36" width="10.49" height="10.66" fill="#666"/><rect x="61.14" y="10.36" width="10.49" height="10.66" fill="#3a3a3a"/><rect x="71.33" y="10.36" width="10.49" height="10.66" fill="#ddd"/><rect x="81.52" y="10.36" width="10.49" height="10.66" fill="#3a3a3a"/><rect x="91.71" y="10.36" width="20.68" height="10.66" fill="#ddd"/><rect x="112.09" y="10.36" width="10.49" height="10.66" fill="#3a3a3a"/><rect x="122.28" y="10.36" width="10.49" height="10.66" fill="#ddd"/><rect x="132.47" y="10.36" width="41.06" height="10.66" fill="#3a3a3a"/><rect x="173.23" y="10.36" width="41.06" height="10.66" fill="#ddd"/><rect x="-10.19" y="20.73" width="20.68" height="10.66" fill="#666"/><rect x="10.19" y="20.73" width="10.49" height="10.66" fill="#ddd"/><rect x="20.38" y="20.73" width="10.49" height="10.66" fill="#fff"/><rect x="30.57" y="20.73" width="10.49" height="10.66" fill="#3a3a3a"/><rect x="40.76" y="20.73" width="10.49" height="10.66" fill="#666"/><rect x="50.95" y="20.73" width="10.49" height="10.66" fill="#ddd"/><rect x="61.14" y="20.73" width="10.49" height="10.66" fill="#3a3a3a"/><rect x="71.33" y="20.73" width="10.49" height="10.66" fill="#666"/><rect x="81.52" y="20.73" width="20.68" height="10.66" fill="#3a3a3a"/><rect x="101.90" y="20.73" width="20.68" height="10.66" fill="#ddd"/><rect x="122.28" y="20.73" width="10.49" height="10.66" fill="#3a3a3a"/><rect x="132.47" y="20.73" width="10.49" height="10.66" fill="#ddd"/><rect x="142.66" y="20.73" width="30.87" height="10.66" fill="#3a3a3a"/><rect x="173.23" y="20.73" width="41.06" height="10.66" fill="#ddd"/><rect x="-10.19" y="31.09" width="20.68" height="10.66" fill="#fff"/><rect x="10.19" y="31.09" width="10.49" height="10.66" fill="#ddd"/><rect x="20.38" y="31.09" width="10.49" height="10.66" fill="#666"/><rect x="30.57" y="31.09" width="10.49" height="10.66" fill="#3a3a3a"/><rect x="40.76" y="31.09" width="10.49" height="10.66" fill="#ddd"/><rect x="50.95" y="31.09" width="10.49" height="10.66" fill="#666"/><rect x="61.14" y="31.09" width="20.68" height="10.66" fill="#3a3a3a"/><rect x="81.52" y="31.09" width="51.25" height="10.66" fill="#ddd"/><rect x="132.47" y="31.09" width="41.06" height="10.66" fill="#3a3a3a"/><rect x="173.23" y="31.09" width="10.49" height="10.66" fill="#ddd"/><rect x="183.42" y="31.09" width="10.49" height="10.66" fill="#3a3a3a"/><rect x="193.61" y="31.09" width="20.68" height="10.66" fill="#ddd"/><rect x="-10.19" y="41.45" width="20.68" height="10.66" fill="#ddd"/><rect x="10.19" y="41.45" width="10.49" height="10.66" fill="#666"/><rect x="20.38" y="41.45" width="10.49" height="10.66" fill="#fff"/><rect x="30.57" y="41.45" width="10.49" height="10.66" fill="#ddd"/><rect x="40.76" y="41.45" width="20.68" height="10.66" fill="#666"/><rect x="61.14" y="41.45" width="10.49" height="10.66" fill="#3a3a3a"/><rect x="71.33" y="41.45" width="10.49" height="10.66" fill="#ddd"/><rect x="81.52" y="41.45" width="10.49" height="10.66" fill="#666"/><rect x="91.71" y="41.45" width="10.49" height="10.66" fill="#3a3a3a"/><rect x="101.90" y="41.45" width="10.49" height="10.66" fill="#666"/><rect x="112.09" y="41.45" width="30.87" height="10.66" fill="#ddd"/><rect x="142.66" y="41.45" width="20.68" height="10.66" fill="#3a3a3a"/><rect x="163.04" y="41.45" width="20.68" height="10.66" fill="#ddd"/><rect x="183.42" y="41.45" width="10.49" height="10.66" fill="#3a3a3a"/><rect x="193.61" y="41.45" width="20.68" height="10.66" fill="#ddd"/><rect x="-10.19" y="51.81" width="20.68" height="10.66" fill="#666"/><rect x="10.19" y="51.81" width="10.49" height="10.66" fill="#fff"/><rect x="20.38" y="51.81" width="10.49" height="10.66" fill="#666"/><rect x="30.57" y="51.81" width="10.49" height="10.66" fill="#fff"/><rect x="40.76" y="51.81" width="10.49" height="10.66" fill="#ddd"/><rect x="50.95" y="51.81" width="20.68" height="10.66" fill="#3a3a3a"/><rect x="71.33" y="51.81" width="10.49" height="10.66" fill="#ddd"/><rect x="81.52" y="51.81" width="10.49" height="10.66" fill="#3a3a3a"/><rect x="91.71" y="51.81" width="10.49" height="10.66" fill="#666"/><rect x="101.90" y="51.81" width="10.49" height="10.66" fill="#ddd"/><rect x="112.09" y="51.81" width="10.49" height="10.66" fill="#666"/><rect x="122.28" y="51.81" width="10.49" height="10.66" fill="#3a3a3a"/><rect x="132.47" y="51.81" width="10.49" height="10.66" fill="#ddd"/><rect x="142.66" y="51.81" width="30.87" height="10.66" fill="#3a3a3a"/><rect x="173.23" y="51.81" width="10.49" height="10.66" fill="#666"/><rect x="183.42" y="51.81" width="10.49" height="10.66" fill="#3a3a3a"/><rect x="193.61" y="51.81" width="20.68" height="10.66" fill="#ddd"/><rect x="-10.19" y="62.18" width="20.68" height="10.66" fill="#fff"/><rect x="10.19" y="62.18" width="30.87" height="10.66" fill="#666"/><rect x="40.76" y="62.18" width="10.49" height="10.66" fill="#ddd"/><rect x="50.95" y="62.18" width="30.87" height="10.66" fill="#3a3a3a"/><rect x="81.52" y="62.18" width="10.49" height="10.66" fill="#ddd"/><rect x="91.71" y="62.18" width="10.49" height="10.66" fill="#3a3a3a"/><rect x="101.90" y="62.18" width="10.49" height="10.66" fill="#666"/><rect x="112.09" y="62.18" width="10.49" height="10.66" fill="#ddd"/><rect x="122.28" y="62.18" width="10.49" height="10.66" fill="#666"/><rect x="132.47" y="62.18" width="10.49" height="10.66" fill="#3a3a3a"/><rect x="142.66" y="62.18" width="10.49" height="10.66" fill="#ddd"/><rect x="152.85" y="62.18" width="10.49" height="10.66" fill="#3a3a3a"/><rect x="163.04" y="62.18" width="10.49" height="10.66" fill="#666"/><rect x="173.23" y="62.18" width="10.49" height="10.66" fill="#3a3a3a"/><rect x="183.42" y="62.18" width="30.87" height="10.66" fill="#ddd"/><rect x="-10.19" y="72.54" width="20.68" height="10.66" fill="#ddd"/><rect x="10.19" y="72.54" width="10.49" height="10.66" fill="#fff"/><rect x="20.38" y="72.54" width="10.49" height="10.66" fill="#ddd"/><rect x="30.57" y="72.54" width="10.49" height="10.66" fill="#666"/><rect x="40.76" y="72.54" width="10.49" height="10.66" fill="#ddd"/><rect x="50.95" y="72.54" width="10.49" height="10.66" fill="#3a3a3a"/><rect x="61.14" y="72.54" width="10.49" height="10.66" fill="#ddd"/><rect x="71.33" y="72.54" width="10.49" height="10.66" fill="#3a3a3a"/><rect x="81.52" y="72.54" width="10.49" height="10.66" fill="#ddd"/><rect x="91.71" y="72.54" width="10.49" height="10.66" fill="#3a3a3a"/><rect x="101.90" y="72.54" width="10.49" height="10.66" fill="#ddd"/><rect x="112.09" y="72.54" width="20.68" height="10.66" fill="#666"/><rect x="132.47" y="72.54" width="10.49" height="10.66" fill="#ddd"/><rect x="142.66" y="72.54" width="10.49" height="10.66" fill="#3a3a3a"/><rect x="152.85" y="72.54" width="10.49" height="10.66" fill="#ddd"/><rect x="163.04" y="72.54" width="30.87" height="10.66" fill="#3a3a3a"/><rect x="193.61" y="72.54" width="20.68" height="10.66" fill="#ddd"/><rect x="-10.19" y="82.90" width="30.87" height="10.66" fill="#666"/><rect x="20.38" y="82.90" width="10.49" height="10.66" fill="#ddd"/><rect x="30.57" y="82.90" width="10.49" height="10.66" fill="#666"/><rect x="40.76" y="82.90" width="10.49" height="10.66" fill="#ddd"/><rect x="50.95" y="82.90" width="10.49" height="10.66" fill="#666"/><rect x="61.14" y="82.90" width="10.49" height="10.66" fill="#3a3a3a"/><rect x="71.33" y="82.90" width="10.49" height="10.66" fill="#666"/><rect x="81.52" y="82.90" width="30.87" height="10.66" fill="#3a3a3a"/><rect x="112.09" y="82.90" width="10.49" height="10.66" fill="#ddd"/><rect x="122.28" y="82.90" width="10.49" height="10.66" fill="#3a3a3a"/><rect x="132.47" y="82.90" width="10.49" height="10.66" fill="#ddd"/><rect x="142.66" y="82.90" width="10.49" height="10.66" fill="#666"/><rect x="152.85" y="82.90" width="10.49" height="10.66" fill="#3a3a3a"/><rect x="163.04" y="82.90" width="10.49" height="10.66" fill="#666"/><rect x="173.23" y="82.90" width="20.68" height="10.66" fill="#ddd"/><rect x="193.61" y="82.90" width="20.68" height="10.66" fill="#3a3a3a"/><rect x="-10.19" y="93.26" width="20.68" height="10.66" fill="#ddd"/><rect x="10.19" y="93.26" width="10.49" height="10.66" fill="#fff"/><rect x="20.38" y="93.26" width="51.25" height="10.66" fill="#ddd"/><rect x="71.33" y="93.26" width="10.49" height="10.66" fill="#666"/><rect x="81.52" y="93.26" width="30.87" height="10.66" fill="#3a3a3a"/><rect x="112.09" y="93.26" width="10.49" height="10.66" fill="#ddd"/><rect x="122.28" y="93.26" width="20.68" height="10.66" fill="#3a3a3a"/><rect x="142.66" y="93.26" width="10.49" height="10.66" fill="#ddd"/><rect x="152.85" y="93.26" width="20.68" height="10.66" fill="#3a3a3a"/><rect x="173.23" y="93.26" width="20.68" height="10.66" fill="#ddd"/><rect x="193.61" y="93.26" width="20.68" height="10.66" fill="#3a3a3a"/><rect x="-10.19" y="103.62" width="20.68" height="10.66" fill="#666"/><rect x="10.19" y="103.62" width="10.49" height="10.66" fill="#ddd"/><rect x="20.38" y="103.62" width="10.49" height="10.66" fill="#666"/><rect x="30.57" y="103.62" width="10.49" height="10.66" fill="#ddd"/><rect x="40.76" y="103.62" width="10.49" height="10.66" fill="#666"/><rect x="50.95" y="103.62" width="10.49" height="10.66" fill="#ddd"/><rect x="61.14" y="103.62" width="20.68" height="10.66" fill="#666"/><rect x="81.52" y="103.62" width="30.87" height="10.66" fill="#3a3a3a"/><rect x="112.09" y="103.62" width="10.49" height="10.66" fill="#ddd"/><rect x="122.28" y="103.62" width="10.49" height="10.66" fill="#3a3a3a"/><rect x="132.47" y="103.62" width="10.49" height="10.66" fill="#ddd"/><rect x="142.66" y="103.62" width="20.68" height="10.66" fill="#3a3a3a"/><rect x="163.04" y="103.62" width="10.49" height="10.66" fill="#666"/><rect x="173.23" y="103.62" width="10.49" height="10.66" fill="#3a3a3a"/><rect x="183.42" y="103.62" width="30.87" height="10.66" fill="#ddd"/><rect x="-10.19" y="113.99" width="30.87" height="10.66" fill="#666"/><rect x="20.38" y="113.99" width="20.68" height="10.66" fill="#ddd"/><rect x="40.76" y="113.99" width="10.49" height="10.66" fill="#666"/><rect x="50.95" y="113.99" width="10.49" height="10.66" fill="#ddd"/><rect x="61.14" y="113.99" width="10.49" height="10.66" fill="#666"/><rect x="71.33" y="113.99" width="41.06" height="10.66" fill="#3a3a3a"/><rect x="112.09" y="113.99" width="10.49" height="10.66" fill="#666"/><rect x="122.28" y="113.99" width="30.87" height="10.66" fill="#3a3a3a"/><rect x="152.85" y="113.99" width="10.49" height="10.66" fill="#666"/><rect x="163.04" y="113.99" width="10.49" height="10.66" fill="#3a3a3a"/><rect x="173.23" y="113.99" width="10.49" height="10.66" fill="#ddd"/><rect x="183.42" y="113.99" width="10.49" height="10.66" fill="#666"/><rect x="193.61" y="113.99" width="20.68" height="10.66" fill="#ddd"/><rect x="-10.19" y="124.35" width="20.68" height="10.66" fill="#ddd"/><rect x="10.19" y="124.35" width="10.49" height="10.66" fill="#fff"/><rect x="20.38" y="124.35" width="10.49" height="10.66" fill="#ddd"/><rect x="30.57" y="124.35" width="30.87" height="10.66" fill="#666"/><rect x="61.14" y="124.35" width="20.68" height="10.66" fill="#3a3a3a"/><rect x="81.52" y="124.35" width="10.49" height="10.66" fill="#666"/><rect x="91.71" y="124.35" width="20.68" height="10.66" fill="#3a3a3a"/><rect x="112.09" y="124.35" width="10.49" height="10.66" fill="#ddd"/><rect x="122.28" y="124.35" width="20.68" height="10.66" fill="#3a3a3a"/><rect x="142.66" y="124.35" width="10.49" height="10.66" fill="#ddd"/><rect x="152.85" y="124.35" width="30.87" height="10.66" fill="#3a3a3a"/><rect x="183.42" y="124.35" width="10.49" height="10.66" fill="#ddd"/><rect x="193.61" y="124.35" width="20.68" height="10.66" fill="#3a3a3a"/><rect x="-10.19" y="134.71" width="20.68" height="10.66" fill="#666"/><rect x="10.19" y="134.71" width="51.25" height="10.66" fill="#ddd"/><rect x="61.14" y="134.71" width="10.49" height="10.66" fill="#666"/><rect x="71.33" y="134.71" width="10.49" height="10.66" fill="#3a3a3a"/><rect x="81.52" y="134.71" width="20.68" height="10.66" fill="#666"/><rect x="101.90" y="134.71" width="10.49" height="10.66" fill="#ddd"/><rect x="112.09" y="134.71" width="20.68" height="10.66" fill="#3a3a3a"/><rect x="132.47" y="134.71" width="10.49" height="10.66" fill="#666"/><rect x="142.66" y="134.71" width="20.68" height="10.66" fill="#3a3a3a"/><rect x="163.04" y="134.71" width="20.68" height="10.66" fill="#666"/><rect x="183.42" y="134.71" width="30.87" height="10.66" fill="#ddd"/><rect x="-10.19" y="145.08" width="20.68" height="10.66" fill="#ddd"/><rect x="10.19" y="145.08" width="10.49" height="10.66" fill="#666"/><rect x="20.38" y="145.08" width="10.49" height="10.66" fill="#ddd"/><rect x="30.57" y="145.08" width="10.49" height="10.66" fill="#666"/><rect x="40.76" y="145.08" width="20.68" height="10.66" fill="#ddd"/><rect x="61.14" y="145.08" width="10.49" height="10.66" fill="#3a3a3a"/><rect x="71.33" y="145.08" width="20.68" height="10.66" fill="#666"/><rect x="91.71" y="145.08" width="10.49" height="10.66" fill="#3a3a3a"/><rect x="101.90" y="145.08" width="10.49" height="10.66" fill="#ddd"/><rect x="112.09" y="145.08" width="20.68" height="10.66" fill="#666"/><rect x="132.47" y="145.08" width="20.68" height="10.66" fill="#3a3a3a"/><rect x="152.85" y="145.08" width="30.87" height="10.66" fill="#ddd"/><rect x="183.42" y="145.08" width="10.49" height="10.66" fill="#3a3a3a"/><rect x="193.61" y="145.08" width="20.68" height="10.66" fill="#ddd"/><rect x="-10.19" y="155.44" width="20.68" height="10.66" fill="#666"/><rect x="10.19" y="155.44" width="20.68" height="10.66" fill="#ddd"/><rect x="30.57" y="155.44" width="20.68" height="10.66" fill="#666"/><rect x="50.95" y="155.44" width="10.49" height="10.66" fill="#ddd"/><rect x="61.14" y="155.44" width="20.68" height="10.66" fill="#666"/><rect x="81.52" y="155.44" width="30.87" height="10.66" fill="#3a3a3a"/><rect x="112.09" y="155.44" width="10.49" height="10.66" fill="#ddd"/><rect x="122.28" y="155.44" width="10.49" height="10.66" fill="#3a3a3a"/><rect x="132.47" y="155.44" width="10.49" height="10.66" fill="#ddd"/><rect x="142.66" y="155.44" width="30.87" height="10.66" fill="#3a3a3a"/><rect x="173.23" y="155.44" width="20.68" height="10.66" fill="#666"/><rect x="193.61" y="155.44" width="20.68" height="10.66" fill="#ddd"/><rect x="-10.19" y="165.80" width="20.68" height="10.66" fill="#666"/><rect x="10.19" y="165.80" width="20.68" height="10.66" fill="#ddd"/><rect x="30.57" y="165.80" width="20.68" height="10.66" fill="#666"/><rect x="50.95" y="165.80" width="10.49" height="10.66" fill="#ddd"/><rect x="61.14" y="165.80" width="20.68" height="10.66" fill="#666"/><rect x="81.52" y="165.80" width="30.87" height="10.66" fill="#3a3a3a"/><rect x="112.09" y="165.80" width="10.49" height="10.66" fill="#ddd"/><rect x="122.28" y="165.80" width="10.49" height="10.66" fill="#3a3a3a"/><rect x="132.47" y="165.80" width="10.49" height="10.66" fill="#ddd"/><rect x="142.66" y="165.80" width="30.87" height="10.66" fill="#3a3a3a"/><rect x="173.23" y="165.80" width="20.68" height="10.66" fill="#666"/><rect x="193.61" y="165.80" width="20.68" height="10.66" fill="#ddd"/></g></mask><mask id="com" maskUnits="userSpaceOnUse" x="-10.2" y="-10.4" width="224.2" height="186.5"><g filter="url(#cb)"><rect x="-10.19" y="-10.36" width="20.68" height="10.66" fill="#444"/><rect x="10.19" y="-10.36" width="10.49" height="10.66" fill="#aaa"/><rect x="20.38" y="-10.36" width="10.49" height="10.66" fill="#444"/><rect x="30.57" y="-10.36" width="10.49" height="10.66" fill="#888"/><rect x="40.76" y="-10.36" width="10.49" height="10.66" fill="#aaa"/><rect x="50.95" y="-10.36" width="41.06" height="10.66" fill="#444"/><rect x="91.71" y="-10.36" width="20.68" height="10.66" fill="#aaa"/><rect x="112.09" y="-10.36" width="71.63" height="10.66" fill="#444"/><rect x="183.42" y="-10.36" width="10.49" height="10.66" fill="#aaa"/><rect x="193.61" y="-10.36" width="20.68" height="10.66" fill="#444"/><rect x="-10.19" y="0.00" width="20.68" height="10.66" fill="#444"/><rect x="10.19" y="0.00" width="10.49" height="10.66" fill="#aaa"/><rect x="20.38" y="0.00" width="10.49" height="10.66" fill="#444"/><rect x="30.57" y="0.00" width="10.49" height="10.66" fill="#888"/><rect x="40.76" y="0.00" width="10.49" height="10.66" fill="#aaa"/><rect x="50.95" y="0.00" width="41.06" height="10.66" fill="#444"/><rect x="91.71" y="0.00" width="20.68" height="10.66" fill="#aaa"/><rect x="112.09" y="0.00" width="71.63" height="10.66" fill="#444"/><rect x="183.42" y="0.00" width="10.49" height="10.66" fill="#aaa"/><rect x="193.61" y="0.00" width="20.68" height="10.66" fill="#444"/><rect x="-10.19" y="10.36" width="20.68" height="10.66" fill="#888"/><rect x="10.19" y="10.36" width="10.49" height="10.66" fill="#aaa"/><rect x="20.38" y="10.36" width="10.49" height="10.66" fill="#fff"/><rect x="30.57" y="10.36" width="10.49" height="10.66" fill="#444"/><rect x="40.76" y="10.36" width="10.49" height="10.66" fill="#aaa"/><rect x="50.95" y="10.36" width="10.49" height="10.66" fill="#fff"/><rect x="61.14" y="10.36" width="10.49" height="10.66" fill="#444"/><rect x="71.33" y="10.36" width="10.49" height="10.66" fill="#aaa"/><rect x="81.52" y="10.36" width="10.49" height="10.66" fill="#444"/><rect x="91.71" y="10.36" width="20.68" height="10.66" fill="#aaa"/><rect x="112.09" y="10.36" width="10.49" height="10.66" fill="#444"/><rect x="122.28" y="10.36" width="10.49" height="10.66" fill="#aaa"/><rect x="132.47" y="10.36" width="41.06" height="10.66" fill="#444"/><rect x="173.23" y="10.36" width="41.06" height="10.66" fill="#aaa"/><rect x="-10.19" y="20.73" width="20.68" height="10.66" fill="#fff"/><rect x="10.19" y="20.73" width="10.49" height="10.66" fill="#aaa"/><rect x="20.38" y="20.73" width="10.49" height="10.66" fill="#888"/><rect x="30.57" y="20.73" width="10.49" height="10.66" fill="#444"/><rect x="40.76" y="20.73" width="10.49" height="10.66" fill="#fff"/><rect x="50.95" y="20.73" width="10.49" height="10.66" fill="#aaa"/><rect x="61.14" y="20.73" width="10.49" height="10.66" fill="#444"/><rect x="71.33" y="20.73" width="10.49" height="10.66" fill="#fff"/><rect x="81.52" y="20.73" width="20.68" height="10.66" fill="#444"/><rect x="101.90" y="20.73" width="20.68" height="10.66" fill="#aaa"/><rect x="122.28" y="20.73" width="10.49" height="10.66" fill="#444"/><rect x="132.47" y="20.73" width="10.49" height="10.66" fill="#aaa"/><rect x="142.66" y="20.73" width="30.87" height="10.66" fill="#444"/><rect x="173.23" y="20.73" width="41.06" height="10.66" fill="#aaa"/><rect x="-10.19" y="31.09" width="20.68" height="10.66" fill="#888"/><rect x="10.19" y="31.09" width="10.49" height="10.66" fill="#aaa"/><rect x="20.38" y="31.09" width="10.49" height="10.66" fill="#fff"/><rect x="30.57" y="31.09" width="10.49" height="10.66" fill="#444"/><rect x="40.76" y="31.09" width="10.49" height="10.66" fill="#aaa"/><rect x="50.95" y="31.09" width="10.49" height="10.66" fill="#fff"/><rect x="61.14" y="31.09" width="20.68" height="10.66" fill="#444"/><rect x="81.52" y="31.09" width="51.25" height="10.66" fill="#aaa"/><rect x="132.47" y="31.09" width="41.06" height="10.66" fill="#444"/><rect x="173.23" y="31.09" width="10.49" height="10.66" fill="#aaa"/><rect x="183.42" y="31.09" width="10.49" height="10.66" fill="#444"/><rect x="193.61" y="31.09" width="20.68" height="10.66" fill="#aaa"/><rect x="-10.19" y="41.45" width="20.68" height="10.66" fill="#aaa"/><rect x="10.19" y="41.45" width="10.49" height="10.66" fill="#fff"/><rect x="20.38" y="41.45" width="10.49" height="10.66" fill="#888"/><rect x="30.57" y="41.45" width="10.49" height="10.66" fill="#aaa"/><rect x="40.76" y="41.45" width="20.68" height="10.66" fill="#fff"/><rect x="61.14" y="41.45" width="10.49" height="10.66" fill="#444"/><rect x="71.33" y="41.45" width="10.49" height="10.66" fill="#aaa"/><rect x="81.52" y="41.45" width="10.49" height="10.66" fill="#fff"/><rect x="91.71" y="41.45" width="10.49" height="10.66" fill="#444"/><rect x="101.90" y="41.45" width="10.49" height="10.66" fill="#fff"/><rect x="112.09" y="41.45" width="30.87" height="10.66" fill="#aaa"/><rect x="142.66" y="41.45" width="20.68" height="10.66" fill="#444"/><rect x="163.04" y="41.45" width="20.68" height="10.66" fill="#aaa"/><rect x="183.42" y="41.45" width="10.49" height="10.66" fill="#444"/><rect x="193.61" y="41.45" width="20.68" height="10.66" fill="#aaa"/><rect x="-10.19" y="51.81" width="20.68" height="10.66" fill="#fff"/><rect x="10.19" y="51.81" width="10.49" height="10.66" fill="#888"/><rect x="20.38" y="51.81" width="10.49" height="10.66" fill="#fff"/><rect x="30.57" y="51.81" width="10.49" height="10.66" fill="#888"/><rect x="40.76" y="51.81" width="10.49" height="10.66" fill="#aaa"/><rect x="50.95" y="51.81" width="20.68" height="10.66" fill="#444"/><rect x="71.33" y="51.81" width="10.49" height="10.66" fill="#aaa"/><rect x="81.52" y="51.81" width="10.49" height="10.66" fill="#444"/><rect x="91.71" y="51.81" width="10.49" height="10.66" fill="#fff"/><rect x="101.90" y="51.81" width="10.49" height="10.66" fill="#aaa"/><rect x="112.09" y="51.81" width="10.49" height="10.66" fill="#fff"/><rect x="122.28" y="51.81" width="10.49" height="10.66" fill="#444"/><rect x="132.47" y="51.81" width="10.49" height="10.66" fill="#aaa"/><rect x="142.66" y="51.81" width="30.87" height="10.66" fill="#444"/><rect x="173.23" y="51.81" width="10.49" height="10.66" fill="#fff"/><rect x="183.42" y="51.81" width="10.49" height="10.66" fill="#444"/><rect x="193.61" y="51.81" width="20.68" height="10.66" fill="#aaa"/><rect x="-10.19" y="62.18" width="20.68" height="10.66" fill="#888"/><rect x="10.19" y="62.18" width="30.87" height="10.66" fill="#fff"/><rect x="40.76" y="62.18" width="10.49" height="10.66" fill="#aaa"/><rect x="50.95" y="62.18" width="30.87" height="10.66" fill="#444"/><rect x="81.52" y="62.18" width="10.49" height="10.66" fill="#aaa"/><rect x="91.71" y="62.18" width="10.49" height="10.66" fill="#444"/><rect x="101.90" y="62.18" width="10.49" height="10.66" fill="#fff"/><rect x="112.09" y="62.18" width="10.49" height="10.66" fill="#aaa"/><rect x="122.28" y="62.18" width="10.49" height="10.66" fill="#fff"/><rect x="132.47" y="62.18" width="10.49" height="10.66" fill="#444"/><rect x="142.66" y="62.18" width="10.49" height="10.66" fill="#aaa"/><rect x="152.85" y="62.18" width="10.49" height="10.66" fill="#444"/><rect x="163.04" y="62.18" width="10.49" height="10.66" fill="#fff"/><rect x="173.23" y="62.18" width="10.49" height="10.66" fill="#444"/><rect x="183.42" y="62.18" width="30.87" height="10.66" fill="#aaa"/><rect x="-10.19" y="72.54" width="20.68" height="10.66" fill="#aaa"/><rect x="10.19" y="72.54" width="10.49" height="10.66" fill="#888"/><rect x="20.38" y="72.54" width="10.49" height="10.66" fill="#aaa"/><rect x="30.57" y="72.54" width="10.49" height="10.66" fill="#fff"/><rect x="40.76" y="72.54" width="10.49" height="10.66" fill="#aaa"/><rect x="50.95" y="72.54" width="10.49" height="10.66" fill="#444"/><rect x="61.14" y="72.54" width="10.49" height="10.66" fill="#aaa"/><rect x="71.33" y="72.54" width="10.49" height="10.66" fill="#444"/><rect x="81.52" y="72.54" width="10.49" height="10.66" fill="#aaa"/><rect x="91.71" y="72.54" width="10.49" height="10.66" fill="#444"/><rect x="101.90" y="72.54" width="10.49" height="10.66" fill="#aaa"/><rect x="112.09" y="72.54" width="20.68" height="10.66" fill="#fff"/><rect x="132.47" y="72.54" width="10.49" height="10.66" fill="#aaa"/><rect x="142.66" y="72.54" width="10.49" height="10.66" fill="#444"/><rect x="152.85" y="72.54" width="10.49" height="10.66" fill="#aaa"/><rect x="163.04" y="72.54" width="30.87" height="10.66" fill="#444"/><rect x="193.61" y="72.54" width="20.68" height="10.66" fill="#aaa"/><rect x="-10.19" y="82.90" width="30.87" height="10.66" fill="#fff"/><rect x="20.38" y="82.90" width="10.49" height="10.66" fill="#aaa"/><rect x="30.57" y="82.90" width="10.49" height="10.66" fill="#fff"/><rect x="40.76" y="82.90" width="10.49" height="10.66" fill="#aaa"/><rect x="50.95" y="82.90" width="10.49" height="10.66" fill="#fff"/><rect x="61.14" y="82.90" width="10.49" height="10.66" fill="#444"/><rect x="71.33" y="82.90" width="10.49" height="10.66" fill="#fff"/><rect x="81.52" y="82.90" width="30.87" height="10.66" fill="#444"/><rect x="112.09" y="82.90" width="10.49" height="10.66" fill="#aaa"/><rect x="122.28" y="82.90" width="10.49" height="10.66" fill="#444"/><rect x="132.47" y="82.90" width="10.49" height="10.66" fill="#aaa"/><rect x="142.66" y="82.90" width="10.49" height="10.66" fill="#fff"/><rect x="152.85" y="82.90" width="10.49" height="10.66" fill="#444"/><rect x="163.04" y="82.90" width="10.49" height="10.66" fill="#fff"/><rect x="173.23" y="82.90" width="20.68" height="10.66" fill="#aaa"/><rect x="193.61" y="82.90" width="20.68" height="10.66" fill="#444"/><rect x="-10.19" y="93.26" width="20.68" height="10.66" fill="#aaa"/><rect x="10.19" y="93.26" width="10.49" height="10.66" fill="#888"/><rect x="20.38" y="93.26" width="51.25" height="10.66" fill="#aaa"/><rect x="71.33" y="93.26" width="10.49" height="10.66" fill="#fff"/><rect x="81.52" y="93.26" width="30.87" height="10.66" fill="#444"/><rect x="112.09" y="93.26" width="10.49" height="10.66" fill="#aaa"/><rect x="122.28" y="93.26" width="20.68" height="10.66" fill="#444"/><rect x="142.66" y="93.26" width="10.49" height="10.66" fill="#aaa"/><rect x="152.85" y="93.26" width="20.68" height="10.66" fill="#444"/><rect x="173.23" y="93.26" width="20.68" height="10.66" fill="#aaa"/><rect x="193.61" y="93.26" width="20.68" height="10.66" fill="#444"/><rect x="-10.19" y="103.62" width="20.68" height="10.66" fill="#fff"/><rect x="10.19" y="103.62" width="10.49" height="10.66" fill="#aaa"/><rect x="20.38" y="103.62" width="10.49" height="10.66" fill="#fff"/><rect x="30.57" y="103.62" width="10.49" height="10.66" fill="#aaa"/><rect x="40.76" y="103.62" width="10.49" height="10.66" fill="#fff"/><rect x="50.95" y="103.62" width="10.49" height="10.66" fill="#aaa"/><rect x="61.14" y="103.62" width="20.68" height="10.66" fill="#fff"/><rect x="81.52" y="103.62" width="30.87" height="10.66" fill="#444"/><rect x="112.09" y="103.62" width="10.49" height="10.66" fill="#aaa"/><rect x="122.28" y="103.62" width="10.49" height="10.66" fill="#444"/><rect x="132.47" y="103.62" width="10.49" height="10.66" fill="#aaa"/><rect x="142.66" y="103.62" width="20.68" height="10.66" fill="#444"/><rect x="163.04" y="103.62" width="10.49" height="10.66" fill="#fff"/><rect x="173.23" y="103.62" width="10.49" height="10.66" fill="#444"/><rect x="183.42" y="103.62" width="30.87" height="10.66" fill="#aaa"/><rect x="-10.19" y="113.99" width="30.87" height="10.66" fill="#fff"/><rect x="20.38" y="113.99" width="20.68" height="10.66" fill="#aaa"/><rect x="40.76" y="113.99" width="10.49" height="10.66" fill="#fff"/><rect x="50.95" y="113.99" width="10.49" height="10.66" fill="#aaa"/><rect x="61.14" y="113.99" width="10.49" height="10.66" fill="#fff"/><rect x="71.33" y="113.99" width="41.06" height="10.66" fill="#444"/><rect x="112.09" y="113.99" width="10.49" height="10.66" fill="#fff"/><rect x="122.28" y="113.99" width="30.87" height="10.66" fill="#444"/><rect x="152.85" y="113.99" width="10.49" height="10.66" fill="#fff"/><rect x="163.04" y="113.99" width="10.49" height="10.66" fill="#444"/><rect x="173.23" y="113.99" width="10.49" height="10.66" fill="#aaa"/><rect x="183.42" y="113.99" width="10.49" height="10.66" fill="#fff"/><rect x="193.61" y="113.99" width="20.68" height="10.66" fill="#aaa"/><rect x="-10.19" y="124.35" width="20.68" height="10.66" fill="#aaa"/><rect x="10.19" y="124.35" width="10.49" height="10.66" fill="#888"/><rect x="20.38" y="124.35" width="10.49" height="10.66" fill="#aaa"/><rect x="30.57" y="124.35" width="30.87" height="10.66" fill="#fff"/><rect x="61.14" y="124.35" width="20.68" height="10.66" fill="#444"/><rect x="81.52" y="124.35" width="10.49" height="10.66" fill="#fff"/><rect x="91.71" y="124.35" width="20.68" height="10.66" fill="#444"/><rect x="112.09" y="124.35" width="10.49" height="10.66" fill="#aaa"/><rect x="122.28" y="124.35" width="20.68" height="10.66" fill="#444"/><rect x="142.66" y="124.35" width="10.49" height="10.66" fill="#aaa"/><rect x="152.85" y="124.35" width="30.87" height="10.66" fill="#444"/><rect x="183.42" y="124.35" width="10.49" height="10.66" fill="#aaa"/><rect x="193.61" y="124.35" width="20.68" height="10.66" fill="#444"/><rect x="-10.19" y="134.71" width="20.68" height="10.66" fill="#fff"/><rect x="10.19" y="134.71" width="51.25" height="10.66" fill="#aaa"/><rect x="61.14" y="134.71" width="10.49" height="10.66" fill="#fff"/><rect x="71.33" y="134.71" width="10.49" height="10.66" fill="#444"/><rect x="81.52" y="134.71" width="20.68" height="10.66" fill="#fff"/><rect x="101.90" y="134.71" width="10.49" height="10.66" fill="#aaa"/><rect x="112.09" y="134.71" width="20.68" height="10.66" fill="#444"/><rect x="132.47" y="134.71" width="10.49" height="10.66" fill="#fff"/><rect x="142.66" y="134.71" width="20.68" height="10.66" fill="#444"/><rect x="163.04" y="134.71" width="20.68" height="10.66" fill="#fff"/><rect x="183.42" y="134.71" width="30.87" height="10.66" fill="#aaa"/><rect x="-10.19" y="145.08" width="20.68" height="10.66" fill="#aaa"/><rect x="10.19" y="145.08" width="10.49" height="10.66" fill="#fff"/><rect x="20.38" y="145.08" width="10.49" height="10.66" fill="#aaa"/><rect x="30.57" y="145.08" width="10.49" height="10.66" fill="#fff"/><rect x="40.76" y="145.08" width="20.68" height="10.66" fill="#aaa"/><rect x="61.14" y="145.08" width="10.49" height="10.66" fill="#444"/><rect x="71.33" y="145.08" width="20.68" height="10.66" fill="#fff"/><rect x="91.71" y="145.08" width="10.49" height="10.66" fill="#444"/><rect x="101.90" y="145.08" width="10.49" height="10.66" fill="#aaa"/><rect x="112.09" y="145.08" width="20.68" height="10.66" fill="#fff"/><rect x="132.47" y="145.08" width="20.68" height="10.66" fill="#444"/><rect x="152.85" y="145.08" width="30.87" height="10.66" fill="#aaa"/><rect x="183.42" y="145.08" width="10.49" height="10.66" fill="#444"/><rect x="193.61" y="145.08" width="20.68" height="10.66" fill="#aaa"/><rect x="-10.19" y="155.44" width="20.68" height="10.66" fill="#fff"/><rect x="10.19" y="155.44" width="20.68" height="10.66" fill="#aaa"/><rect x="30.57" y="155.44" width="20.68" height="10.66" fill="#fff"/><rect x="50.95" y="155.44" width="10.49" height="10.66" fill="#aaa"/><rect x="61.14" y="155.44" width="20.68" height="10.66" fill="#fff"/><rect x="81.52" y="155.44" width="30.87" height="10.66" fill="#444"/><rect x="112.09" y="155.44" width="10.49" height="10.66" fill="#aaa"/><rect x="122.28" y="155.44" width="10.49" height="10.66" fill="#444"/><rect x="132.47" y="155.44" width="10.49" height="10.66" fill="#aaa"/><rect x="142.66" y="155.44" width="30.87" height="10.66" fill="#444"/><rect x="173.23" y="155.44" width="20.68" height="10.66" fill="#fff"/><rect x="193.61" y="155.44" width="20.68" height="10.66" fill="#aaa"/><rect x="-10.19" y="165.80" width="20.68" height="10.66" fill="#fff"/><rect x="10.19" y="165.80" width="20.68" height="10.66" fill="#aaa"/><rect x="30.57" y="165.80" width="20.68" height="10.66" fill="#fff"/><rect x="50.95" y="165.80" width="10.49" height="10.66" fill="#aaa"/><rect x="61.14" y="165.80" width="20.68" height="10.66" fill="#fff"/><rect x="81.52" y="165.80" width="30.87" height="10.66" fill="#444"/><rect x="112.09" y="165.80" width="10.49" height="10.66" fill="#aaa"/><rect x="122.28" y="165.80" width="10.49" height="10.66" fill="#444"/><rect x="132.47" y="165.80" width="10.49" height="10.66" fill="#aaa"/><rect x="142.66" y="165.80" width="30.87" height="10.66" fill="#444"/><rect x="173.23" y="165.80" width="20.68" height="10.66" fill="#fff"/><rect x="193.61" y="165.80" width="20.68" height="10.66" fill="#aaa"/></g></mask></defs><g mask="url(#cgm)"><g transform="rotate(-25 101.9 82.9)"><rect x="-61.1" y="-80.1" width="326.1" height="326.1" filter="url(#cg)" opacity="0.95"/></g></g><g mask="url(#com)"><g transform="rotate(35 101.9 82.9)"><rect x="-61.1" y="-80.1" width="326.1" height="326.1" filter="url(#co)" opacity="1.00"/></g></g></svg><div style="position:absolute;left:32.80px;top:258.30px;width:8.30px;height:185.20px;background:linear-gradient(to bottom,#f00000 0.0%,#ff5a00 25.0%,#ffa000 40.0%,#ffff00 50.0%,#00f000 65.0%,#00e800 85.0%,#00ffff 94.0%,#0000ff 100.0%)"></div><div class="lb" style="right:523.50px;top:256.02px;font-size:4.3px;color:#111">1.0 m</div><div style="position:absolute;left:29.80px;top:258.30px;width:3.00px;height:0.60px;background:#999"></div><div class="lb" style="right:523.50px;top:302.22px;font-size:4.3px;color:#111">0.5 m</div><div style="position:absolute;left:29.80px;top:304.50px;width:3.00px;height:0.60px;background:#999"></div><div class="lb" style="right:523.50px;top:347.92px;font-size:4.3px;color:#111">0.0 m</div><div style="position:absolute;left:29.80px;top:350.20px;width:3.00px;height:0.60px;background:#999"></div><div class="lb" style="right:523.50px;top:394.72px;font-size:4.3px;color:#111">−0.5 m</div><div style="position:absolute;left:29.80px;top:397.00px;width:3.00px;height:0.60px;background:#999"></div><div class="lb" style="right:523.50px;top:441.02px;font-size:4.3px;color:#111">−1.0 m</div><div style="position:absolute;left:29.80px;top:443.30px;width:3.00px;height:0.60px;background:#999"></div><div style="position:absolute;left:43.40px;top:254.60px;width:1.20px;height:194.20px;background:#9a9a9a"></div><div style="position:absolute;left:13.70px;top:447.55px;width:30.30px;height:1.30px;background:#333"></div><div style="position:absolute;left:44.00px;top:447.80px;width:78.60px;height:0.80px;background:#d0d0d0"></div><div style="position:absolute;left:13.70px;top:462.30px;width:109.50px;height:1.20px;background:#8a8a8a"></div><div style="position:absolute;left:122.00px;top:448.20px;width:1.20px;height:14.70px;background:#8a8a8a"></div><div style="position:absolute;left:19.60px;top:451.95px;width:95.13px;height:0.90px;background:#555"></div><div style="position:absolute;left:19.15px;top:450.20px;width:0.90px;height:4.40px;background:#444"></div><div style="position:absolute;left:32.74px;top:450.20px;width:0.90px;height:4.40px;background:#444"></div><div style="position:absolute;left:46.33px;top:450.20px;width:0.90px;height:4.40px;background:#444"></div><div style="position:absolute;left:59.92px;top:450.20px;width:0.90px;height:4.40px;background:#444"></div><div style="position:absolute;left:73.51px;top:450.20px;width:0.90px;height:4.40px;background:#444"></div><div style="position:absolute;left:87.10px;top:450.20px;width:0.90px;height:4.40px;background:#444"></div><div style="position:absolute;left:100.69px;top:450.20px;width:0.90px;height:4.40px;background:#444"></div><div style="position:absolute;left:114.28px;top:450.20px;width:0.90px;height:4.40px;background:#444"></div><div class="lb" style="left:33.49px;top:457.22px;width:40px;margin-left:-20px;text-align:center;font-size:4.3px;color:#111">125 m</div><div class="lb" style="left:60.67px;top:457.22px;width:40px;margin-left:-20px;text-align:center;font-size:4.3px;color:#111">375 m</div><div class="lb" style="left:87.85px;top:457.22px;width:40px;margin-left:-20px;text-align:center;font-size:4.3px;color:#111">625 m</div><div class="lb" style="left:115.03px;top:457.22px;width:40px;margin-left:-20px;text-align:center;font-size:4.3px;color:#111">875 m</div><div class="cap" style="left:128.60px;top:474.00px">(<b>c</b>)</div><svg width="550" height="491" style="position:absolute;left:0;top:0" viewBox="0 0 550 491"><line x1="319.41" y1="260.00" x2="319.41" y2="456.30" stroke="#222" stroke-width="0.9" stroke-dasharray="1 1"/><line x1="351.42" y1="260.00" x2="351.42" y2="456.30" stroke="#222" stroke-width="0.9" stroke-dasharray="1 1"/><line x1="383.44" y1="260.00" x2="383.44" y2="456.30" stroke="#222" stroke-width="0.9" stroke-dasharray="1 1"/><line x1="415.45" y1="260.00" x2="415.45" y2="456.30" stroke="#222" stroke-width="0.9" stroke-dasharray="1 1"/><line x1="447.46" y1="260.00" x2="447.46" y2="456.30" stroke="#222" stroke-width="0.9" stroke-dasharray="1 1"/><line x1="479.48" y1="260.00" x2="479.48" y2="456.30" stroke="#222" stroke-width="0.9" stroke-dasharray="1 1"/><line x1="511.49" y1="260.00" x2="511.49" y2="456.30" stroke="#222" stroke-width="0.9" stroke-dasharray="1 1"/><line x1="287.40" y1="434.49" x2="543.50" y2="434.49" stroke="#222" stroke-width="0.9" stroke-dasharray="1 1"/><line x1="287.40" y1="412.68" x2="543.50" y2="412.68" stroke="#222" stroke-width="0.9" stroke-dasharray="1 1"/><line x1="287.40" y1="390.87" x2="543.50" y2="390.87" stroke="#222" stroke-width="0.9" stroke-dasharray="1 1"/><line x1="287.40" y1="369.06" x2="543.50" y2="369.06" stroke="#222" stroke-width="0.9" stroke-dasharray="1 1"/><line x1="287.40" y1="347.24" x2="543.50" y2="347.24" stroke="#222" stroke-width="0.9" stroke-dasharray="1 1"/><line x1="287.40" y1="325.43" x2="543.50" y2="325.43" stroke="#222" stroke-width="0.9" stroke-dasharray="1 1"/><line x1="287.40" y1="303.62" x2="543.50" y2="303.62" stroke="#222" stroke-width="0.9" stroke-dasharray="1 1"/><line x1="287.40" y1="281.81" x2="543.50" y2="281.81" stroke="#222" stroke-width="0.9" stroke-dasharray="1 1"/><path d="M385.04,456.30 L388.24,455.86 L391.60,454.77 L394.32,453.46 L396.72,451.94 L398.48,449.10 L399.76,444.52 L401.36,434.49 L403.29,419.88 L405.53,390.87 L407.22,369.06 L408.57,347.24 L409.69,325.43 L410.49,303.62 L411.45,281.81 L412.41,279.19 L412.73,281.81 L414.49,303.62 L415.77,325.43 L416.73,347.24 L417.91,369.06 L419.61,390.87 L422.33,412.68 L423.45,419.88 L427.61,434.49 L430.18,444.52 L433.06,449.10 L435.94,451.94 L439.14,453.68 L442.50,454.77 L445.86,455.65 L450.66,456.30 Z" fill="#04048f"/><line x1="287.40" y1="456.30" x2="531.50" y2="456.30" stroke="#2a2aa8" stroke-width="1"/><rect x="287.40" y="260.00" width="256.10" height="196.30" fill="none" stroke="#444" stroke-width="1"/></svg><div class="ax" style="right:264.00px;top:454.40px">0</div><div class="ax" style="right:264.00px;top:432.59px">1</div><div class="ax" style="right:264.00px;top:410.78px">2</div><div class="ax" style="right:264.00px;top:388.97px">3</div><div class="ax" style="right:264.00px;top:367.16px">4</div><div class="ax" style="right:264.00px;top:345.34px">5</div><div class="ax" style="right:264.00px;top:323.53px">6</div><div class="ax" style="right:264.00px;top:301.72px">7</div><div class="ax" style="right:264.00px;top:279.91px">8</div><div class="ax" style="right:264.00px;top:258.10px">9</div><div class="ax" style="left:286.40px;top:458.60px;width:20px;margin-left:-10px;text-align:center">−4</div><div class="ax" style="left:318.41px;top:458.60px;width:20px;margin-left:-10px;text-align:center">−3</div><div class="ax" style="left:350.42px;top:458.60px;width:20px;margin-left:-10px;text-align:center">−2</div><div class="ax" style="left:382.44px;top:458.60px;width:20px;margin-left:-10px;text-align:center">−1</div><div class="ax" style="left:415.45px;top:458.60px;width:20px;margin-left:-10px;text-align:center">0</div><div class="ax" style="left:447.46px;top:458.60px;width:20px;margin-left:-10px;text-align:center">1</div><div class="ax" style="left:479.48px;top:458.60px;width:20px;margin-left:-10px;text-align:center">2</div><div class="ax" style="left:511.49px;top:458.60px;width:20px;margin-left:-10px;text-align:center">3</div><div class="ax" style="left:543.50px;top:458.60px;width:20px;margin-left:-10px;text-align:center">4</div><div class="ax" style="left:287.6px;top:253.4px;font-size:5px">x 10<span style="font-size:3.5px;position:relative;top:-2.2px;margin-left:1.3px">4</span></div><div class="cap" style="left:409.2px;top:474.0px">(<b>d</b>)</div></body></html>
